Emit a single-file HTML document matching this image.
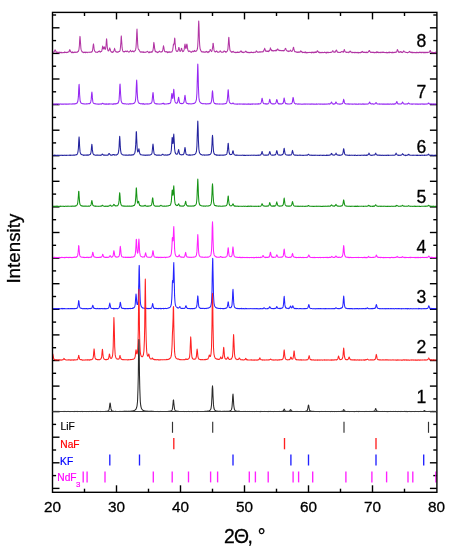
<!DOCTYPE html>
<html><head><meta charset="utf-8"><style>
html,body{margin:0;padding:0;background:#fff;}
svg{display:block;}
text{font-family:"Liberation Sans",Arial,sans-serif;}
.tl{font-size:15.3px;stroke:#000;stroke-width:0.3px;}
.num{font-size:17.6px;stroke:#000;stroke-width:0.3px;}
.ref{font-size:10.2px;stroke-width:0.2px;}
.xt{font-size:19.3px;stroke:#000;stroke-width:0.3px;}
.yt{font-size:18.8px;stroke:#000;stroke-width:0.3px;}
</style></head><body>
<svg width="454" height="550" viewBox="0 0 454 550">
<rect width="454" height="550" fill="#fff"/>
<line x1="84.5" y1="492.3" x2="84.5" y2="488.7" stroke="#000" stroke-width="1.4"/><line x1="84.5" y1="12.4" x2="84.5" y2="16.0" stroke="#000" stroke-width="1.4"/><line x1="116.5" y1="492.3" x2="116.5" y2="485.3" stroke="#000" stroke-width="1.4"/><line x1="116.5" y1="12.4" x2="116.5" y2="19.4" stroke="#000" stroke-width="1.4"/><line x1="148.5" y1="492.3" x2="148.5" y2="488.7" stroke="#000" stroke-width="1.4"/><line x1="148.5" y1="12.4" x2="148.5" y2="16.0" stroke="#000" stroke-width="1.4"/><line x1="180.5" y1="492.3" x2="180.5" y2="485.3" stroke="#000" stroke-width="1.4"/><line x1="180.5" y1="12.4" x2="180.5" y2="19.4" stroke="#000" stroke-width="1.4"/><line x1="212.5" y1="492.3" x2="212.5" y2="488.7" stroke="#000" stroke-width="1.4"/><line x1="212.5" y1="12.4" x2="212.5" y2="16.0" stroke="#000" stroke-width="1.4"/><line x1="244.5" y1="492.3" x2="244.5" y2="485.3" stroke="#000" stroke-width="1.4"/><line x1="244.5" y1="12.4" x2="244.5" y2="19.4" stroke="#000" stroke-width="1.4"/><line x1="276.5" y1="492.3" x2="276.5" y2="488.7" stroke="#000" stroke-width="1.4"/><line x1="276.5" y1="12.4" x2="276.5" y2="16.0" stroke="#000" stroke-width="1.4"/><line x1="308.5" y1="492.3" x2="308.5" y2="485.3" stroke="#000" stroke-width="1.4"/><line x1="308.5" y1="12.4" x2="308.5" y2="19.4" stroke="#000" stroke-width="1.4"/><line x1="340.5" y1="492.3" x2="340.5" y2="488.7" stroke="#000" stroke-width="1.4"/><line x1="340.5" y1="12.4" x2="340.5" y2="16.0" stroke="#000" stroke-width="1.4"/><line x1="372.5" y1="492.3" x2="372.5" y2="485.3" stroke="#000" stroke-width="1.4"/><line x1="372.5" y1="12.4" x2="372.5" y2="19.4" stroke="#000" stroke-width="1.4"/><line x1="404.5" y1="492.3" x2="404.5" y2="488.7" stroke="#000" stroke-width="1.4"/><line x1="404.5" y1="12.4" x2="404.5" y2="16.0" stroke="#000" stroke-width="1.4"/><line x1="52.5" y1="15.0" x2="56.1" y2="15.0" stroke="#000" stroke-width="1.4"/><line x1="436.9" y1="15.0" x2="433.29999999999995" y2="15.0" stroke="#000" stroke-width="1.4"/><line x1="52.5" y1="27.8" x2="59.5" y2="27.8" stroke="#000" stroke-width="1.4"/><line x1="436.9" y1="27.8" x2="429.9" y2="27.8" stroke="#000" stroke-width="1.4"/><line x1="52.5" y1="40.6" x2="56.1" y2="40.6" stroke="#000" stroke-width="1.4"/><line x1="436.9" y1="40.6" x2="433.29999999999995" y2="40.6" stroke="#000" stroke-width="1.4"/><line x1="52.5" y1="53.4" x2="59.5" y2="53.4" stroke="#000" stroke-width="1.4"/><line x1="436.9" y1="53.4" x2="429.9" y2="53.4" stroke="#000" stroke-width="1.4"/><line x1="52.5" y1="66.2" x2="56.1" y2="66.2" stroke="#000" stroke-width="1.4"/><line x1="436.9" y1="66.2" x2="433.29999999999995" y2="66.2" stroke="#000" stroke-width="1.4"/><line x1="52.5" y1="79.0" x2="59.5" y2="79.0" stroke="#000" stroke-width="1.4"/><line x1="436.9" y1="79.0" x2="429.9" y2="79.0" stroke="#000" stroke-width="1.4"/><line x1="52.5" y1="91.8" x2="56.1" y2="91.8" stroke="#000" stroke-width="1.4"/><line x1="436.9" y1="91.8" x2="433.29999999999995" y2="91.8" stroke="#000" stroke-width="1.4"/><line x1="52.5" y1="104.6" x2="59.5" y2="104.6" stroke="#000" stroke-width="1.4"/><line x1="436.9" y1="104.6" x2="429.9" y2="104.6" stroke="#000" stroke-width="1.4"/><line x1="52.5" y1="117.4" x2="56.1" y2="117.4" stroke="#000" stroke-width="1.4"/><line x1="436.9" y1="117.4" x2="433.29999999999995" y2="117.4" stroke="#000" stroke-width="1.4"/><line x1="52.5" y1="130.2" x2="59.5" y2="130.2" stroke="#000" stroke-width="1.4"/><line x1="436.9" y1="130.2" x2="429.9" y2="130.2" stroke="#000" stroke-width="1.4"/><line x1="52.5" y1="142.9" x2="56.1" y2="142.9" stroke="#000" stroke-width="1.4"/><line x1="436.9" y1="142.9" x2="433.29999999999995" y2="142.9" stroke="#000" stroke-width="1.4"/><line x1="52.5" y1="155.7" x2="59.5" y2="155.7" stroke="#000" stroke-width="1.4"/><line x1="436.9" y1="155.7" x2="429.9" y2="155.7" stroke="#000" stroke-width="1.4"/><line x1="52.5" y1="168.5" x2="56.1" y2="168.5" stroke="#000" stroke-width="1.4"/><line x1="436.9" y1="168.5" x2="433.29999999999995" y2="168.5" stroke="#000" stroke-width="1.4"/><line x1="52.5" y1="181.3" x2="59.5" y2="181.3" stroke="#000" stroke-width="1.4"/><line x1="436.9" y1="181.3" x2="429.9" y2="181.3" stroke="#000" stroke-width="1.4"/><line x1="52.5" y1="194.1" x2="56.1" y2="194.1" stroke="#000" stroke-width="1.4"/><line x1="436.9" y1="194.1" x2="433.29999999999995" y2="194.1" stroke="#000" stroke-width="1.4"/><line x1="52.5" y1="206.9" x2="59.5" y2="206.9" stroke="#000" stroke-width="1.4"/><line x1="436.9" y1="206.9" x2="429.9" y2="206.9" stroke="#000" stroke-width="1.4"/><line x1="52.5" y1="219.7" x2="56.1" y2="219.7" stroke="#000" stroke-width="1.4"/><line x1="436.9" y1="219.7" x2="433.29999999999995" y2="219.7" stroke="#000" stroke-width="1.4"/><line x1="52.5" y1="232.5" x2="59.5" y2="232.5" stroke="#000" stroke-width="1.4"/><line x1="436.9" y1="232.5" x2="429.9" y2="232.5" stroke="#000" stroke-width="1.4"/><line x1="52.5" y1="245.3" x2="56.1" y2="245.3" stroke="#000" stroke-width="1.4"/><line x1="436.9" y1="245.3" x2="433.29999999999995" y2="245.3" stroke="#000" stroke-width="1.4"/><line x1="52.5" y1="258.1" x2="59.5" y2="258.1" stroke="#000" stroke-width="1.4"/><line x1="436.9" y1="258.1" x2="429.9" y2="258.1" stroke="#000" stroke-width="1.4"/><line x1="52.5" y1="270.9" x2="56.1" y2="270.9" stroke="#000" stroke-width="1.4"/><line x1="436.9" y1="270.9" x2="433.29999999999995" y2="270.9" stroke="#000" stroke-width="1.4"/><line x1="52.5" y1="283.7" x2="59.5" y2="283.7" stroke="#000" stroke-width="1.4"/><line x1="436.9" y1="283.7" x2="429.9" y2="283.7" stroke="#000" stroke-width="1.4"/><line x1="52.5" y1="296.5" x2="56.1" y2="296.5" stroke="#000" stroke-width="1.4"/><line x1="436.9" y1="296.5" x2="433.29999999999995" y2="296.5" stroke="#000" stroke-width="1.4"/><line x1="52.5" y1="309.3" x2="59.5" y2="309.3" stroke="#000" stroke-width="1.4"/><line x1="436.9" y1="309.3" x2="429.9" y2="309.3" stroke="#000" stroke-width="1.4"/><line x1="52.5" y1="322.1" x2="56.1" y2="322.1" stroke="#000" stroke-width="1.4"/><line x1="436.9" y1="322.1" x2="433.29999999999995" y2="322.1" stroke="#000" stroke-width="1.4"/><line x1="52.5" y1="334.9" x2="59.5" y2="334.9" stroke="#000" stroke-width="1.4"/><line x1="436.9" y1="334.9" x2="429.9" y2="334.9" stroke="#000" stroke-width="1.4"/><line x1="52.5" y1="347.7" x2="56.1" y2="347.7" stroke="#000" stroke-width="1.4"/><line x1="436.9" y1="347.7" x2="433.29999999999995" y2="347.7" stroke="#000" stroke-width="1.4"/><line x1="52.5" y1="360.5" x2="59.5" y2="360.5" stroke="#000" stroke-width="1.4"/><line x1="436.9" y1="360.5" x2="429.9" y2="360.5" stroke="#000" stroke-width="1.4"/><line x1="52.5" y1="373.3" x2="56.1" y2="373.3" stroke="#000" stroke-width="1.4"/><line x1="436.9" y1="373.3" x2="433.29999999999995" y2="373.3" stroke="#000" stroke-width="1.4"/><line x1="52.5" y1="386.1" x2="59.5" y2="386.1" stroke="#000" stroke-width="1.4"/><line x1="436.9" y1="386.1" x2="429.9" y2="386.1" stroke="#000" stroke-width="1.4"/><line x1="52.5" y1="398.9" x2="56.1" y2="398.9" stroke="#000" stroke-width="1.4"/><line x1="436.9" y1="398.9" x2="433.29999999999995" y2="398.9" stroke="#000" stroke-width="1.4"/><line x1="52.5" y1="411.6" x2="59.5" y2="411.6" stroke="#000" stroke-width="1.4"/><line x1="436.9" y1="411.6" x2="429.9" y2="411.6" stroke="#000" stroke-width="1.4"/><line x1="52.5" y1="424.4" x2="56.1" y2="424.4" stroke="#000" stroke-width="1.4"/><line x1="436.9" y1="424.4" x2="433.29999999999995" y2="424.4" stroke="#000" stroke-width="1.4"/><line x1="52.5" y1="437.2" x2="59.5" y2="437.2" stroke="#000" stroke-width="1.4"/><line x1="436.9" y1="437.2" x2="429.9" y2="437.2" stroke="#000" stroke-width="1.4"/><line x1="52.5" y1="450.0" x2="56.1" y2="450.0" stroke="#000" stroke-width="1.4"/><line x1="436.9" y1="450.0" x2="433.29999999999995" y2="450.0" stroke="#000" stroke-width="1.4"/><line x1="52.5" y1="462.8" x2="59.5" y2="462.8" stroke="#000" stroke-width="1.4"/><line x1="436.9" y1="462.8" x2="429.9" y2="462.8" stroke="#000" stroke-width="1.4"/><line x1="52.5" y1="475.6" x2="56.1" y2="475.6" stroke="#000" stroke-width="1.4"/><line x1="436.9" y1="475.6" x2="433.29999999999995" y2="475.6" stroke="#000" stroke-width="1.4"/><line x1="52.5" y1="488.4" x2="59.5" y2="488.4" stroke="#000" stroke-width="1.4"/><line x1="436.9" y1="488.4" x2="429.9" y2="488.4" stroke="#000" stroke-width="1.4"/>
<line x1="172.5" y1="421.8" x2="172.5" y2="432.8" stroke="#333333" stroke-width="1.15"/><line x1="212.7" y1="421.8" x2="212.7" y2="432.8" stroke="#333333" stroke-width="1.15"/><line x1="344.0" y1="421.8" x2="344.0" y2="432.8" stroke="#333333" stroke-width="1.15"/><line x1="428.5" y1="421.8" x2="428.5" y2="432.8" stroke="#333333" stroke-width="1.15"/><line x1="173.8" y1="438.0" x2="173.8" y2="449.3" stroke="#ff2020" stroke-width="1.35"/><line x1="284.5" y1="438.0" x2="284.5" y2="449.3" stroke="#ff2020" stroke-width="1.35"/><line x1="376.0" y1="438.0" x2="376.0" y2="449.3" stroke="#ff2020" stroke-width="1.35"/><line x1="109.8" y1="454.5" x2="109.8" y2="465.5" stroke="#2020ff" stroke-width="1.35"/><line x1="139.5" y1="454.5" x2="139.5" y2="465.5" stroke="#2020ff" stroke-width="1.35"/><line x1="233.0" y1="454.5" x2="233.0" y2="465.5" stroke="#2020ff" stroke-width="1.35"/><line x1="290.9" y1="454.5" x2="290.9" y2="465.5" stroke="#2020ff" stroke-width="1.35"/><line x1="308.5" y1="454.5" x2="308.5" y2="465.5" stroke="#2020ff" stroke-width="1.35"/><line x1="376.0" y1="454.5" x2="376.0" y2="465.5" stroke="#2020ff" stroke-width="1.35"/><line x1="423.7" y1="454.5" x2="423.7" y2="465.5" stroke="#2020ff" stroke-width="1.35"/><line x1="83.2" y1="471.5" x2="83.2" y2="482.4" stroke="#ff20ff" stroke-width="1.35"/><line x1="87.1" y1="471.5" x2="87.1" y2="482.4" stroke="#ff20ff" stroke-width="1.35"/><line x1="105.0" y1="471.5" x2="105.0" y2="482.4" stroke="#ff20ff" stroke-width="1.35"/><line x1="153.3" y1="471.5" x2="153.3" y2="482.4" stroke="#ff20ff" stroke-width="1.35"/><line x1="172.2" y1="471.5" x2="172.2" y2="482.4" stroke="#ff20ff" stroke-width="1.35"/><line x1="188.5" y1="471.5" x2="188.5" y2="482.4" stroke="#ff20ff" stroke-width="1.35"/><line x1="210.6" y1="471.5" x2="210.6" y2="482.4" stroke="#ff20ff" stroke-width="1.35"/><line x1="217.6" y1="471.5" x2="217.6" y2="482.4" stroke="#ff20ff" stroke-width="1.35"/><line x1="249.3" y1="471.5" x2="249.3" y2="482.4" stroke="#ff20ff" stroke-width="1.35"/><line x1="255.4" y1="471.5" x2="255.4" y2="482.4" stroke="#ff20ff" stroke-width="1.35"/><line x1="268.2" y1="471.5" x2="268.2" y2="482.4" stroke="#ff20ff" stroke-width="1.35"/><line x1="293.1" y1="471.5" x2="293.1" y2="482.4" stroke="#ff20ff" stroke-width="1.35"/><line x1="298.6" y1="471.5" x2="298.6" y2="482.4" stroke="#ff20ff" stroke-width="1.35"/><line x1="312.7" y1="471.5" x2="312.7" y2="482.4" stroke="#ff20ff" stroke-width="1.35"/><line x1="345.9" y1="471.5" x2="345.9" y2="482.4" stroke="#ff20ff" stroke-width="1.35"/><line x1="371.9" y1="471.5" x2="371.9" y2="482.4" stroke="#ff20ff" stroke-width="1.35"/><line x1="386.6" y1="471.5" x2="386.6" y2="482.4" stroke="#ff20ff" stroke-width="1.35"/><line x1="408.0" y1="471.5" x2="408.0" y2="482.4" stroke="#ff20ff" stroke-width="1.35"/><line x1="412.8" y1="471.5" x2="412.8" y2="482.4" stroke="#ff20ff" stroke-width="1.35"/><line x1="435.9" y1="471.5" x2="435.9" y2="482.4" stroke="#ff20ff" stroke-width="1.35"/>
<path d="M52.5 52.2 L52.8 52.2 L53.0 52.6 L53.3 52.1 L53.5 52.3 L53.8 52.0 L54.0 51.9 L54.3 51.4 L54.5 51.0 L54.8 50.3 L55.1 49.9 L55.3 50.1 L55.6 50.7 L55.8 51.2 L56.1 51.9 L56.3 51.6 L56.6 52.5 L56.9 52.3 L57.1 52.4 L57.4 52.1 L57.6 52.3 L57.9 52.3 L58.1 52.6 L58.4 52.4 L58.6 52.6 L58.9 52.6 L59.2 52.1 L59.4 52.4 L59.7 52.7 L59.9 52.4 L60.2 52.5 L60.4 52.4 L60.7 52.2 L60.9 52.9 L61.2 52.4 L61.5 52.6 L61.7 52.4 L62.0 52.7 L62.2 52.7 L62.5 52.7 L62.7 52.7 L63.0 52.6 L63.3 52.7 L63.5 52.5 L63.8 52.5 L64.0 52.6 L64.3 52.3 L64.5 51.9 L64.8 52.6 L65.0 52.5 L65.3 52.3 L65.6 52.4 L65.8 52.2 L66.1 52.3 L66.3 52.5 L66.6 52.4 L66.8 52.6 L67.1 52.4 L67.3 52.5 L67.6 52.5 L67.9 52.2 L68.1 51.9 L68.4 52.0 L68.6 52.0 L68.9 51.6 L69.1 51.7 L69.4 50.4 L69.7 49.9 L69.8 49.5 L69.9 50.0 L70.2 50.3 L70.4 51.4 L70.7 51.8 L70.9 51.9 L71.2 51.9 L71.4 52.6 L71.7 52.2 L72.0 52.6 L72.2 51.8 L72.5 52.1 L72.7 52.7 L73.0 52.7 L73.2 52.4 L73.5 52.6 L73.7 52.5 L74.0 52.3 L74.3 52.4 L74.5 52.1 L74.8 52.1 L75.0 52.3 L75.3 52.4 L75.5 52.3 L75.8 52.0 L76.1 52.4 L76.3 52.2 L76.6 52.3 L76.8 52.0 L77.1 52.0 L77.3 52.2 L77.6 52.1 L77.8 51.4 L78.1 51.3 L78.4 51.4 L78.6 50.7 L78.9 49.8 L79.1 48.0 L79.4 45.5 L79.6 41.1 L79.9 37.1 L80.0 36.4 L80.1 36.9 L80.4 41.2 L80.7 45.4 L80.9 48.3 L81.2 49.9 L81.4 50.4 L81.7 51.0 L81.9 51.4 L82.2 51.9 L82.5 51.7 L82.7 52.2 L83.0 52.2 L83.2 52.3 L83.5 52.6 L83.7 52.2 L84.0 52.3 L84.2 52.5 L84.5 52.3 L84.8 52.5 L85.0 52.3 L85.3 52.6 L85.5 52.4 L85.8 52.0 L86.0 52.6 L86.3 52.3 L86.5 52.2 L86.8 52.3 L87.1 52.3 L87.3 52.6 L87.6 52.4 L87.8 52.3 L88.1 52.3 L88.3 52.2 L88.6 52.2 L88.9 52.2 L89.1 52.3 L89.4 52.1 L89.6 52.2 L89.9 52.5 L90.1 52.3 L90.4 52.2 L90.6 52.2 L90.9 52.1 L91.2 51.8 L91.4 52.1 L91.7 52.3 L91.9 51.7 L92.2 51.4 L92.4 51.2 L92.7 49.3 L92.9 47.8 L93.2 45.2 L93.5 43.9 L93.7 45.0 L94.0 47.7 L94.2 49.6 L94.5 50.3 L94.7 51.2 L95.0 51.5 L95.3 51.6 L95.5 52.1 L95.8 52.3 L96.0 52.2 L96.3 52.3 L96.5 52.3 L96.8 52.1 L97.0 52.3 L97.3 52.4 L97.6 52.1 L97.8 52.1 L98.1 51.8 L98.3 51.5 L98.6 51.5 L98.8 51.6 L99.1 51.1 L99.2 51.1 L99.3 51.3 L99.6 51.0 L99.9 51.9 L100.1 51.8 L100.4 52.0 L100.6 52.1 L100.9 51.6 L101.1 51.5 L101.4 51.5 L101.7 51.1 L101.9 50.3 L102.2 49.2 L102.4 47.5 L102.7 46.3 L102.7 46.1 L102.9 46.9 L103.2 47.7 L103.4 48.9 L103.7 48.8 L104.0 48.3 L104.2 46.9 L104.3 46.8 L104.5 47.4 L104.7 48.0 L105.0 49.0 L105.2 49.4 L105.5 48.9 L105.7 48.1 L106.0 45.7 L106.3 41.9 L106.5 39.1 L106.6 38.8 L106.8 40.5 L107.0 43.8 L107.3 47.2 L107.5 48.6 L107.8 50.1 L108.1 50.8 L108.3 51.0 L108.6 50.4 L108.8 50.8 L109.1 50.3 L109.3 49.4 L109.6 48.3 L109.8 47.9 L109.8 48.1 L110.1 49.1 L110.4 49.5 L110.6 50.9 L110.9 51.6 L111.1 51.6 L111.4 52.1 L111.6 51.7 L111.9 52.3 L112.1 52.2 L112.4 51.9 L112.7 52.5 L112.9 52.2 L113.2 52.1 L113.4 51.4 L113.7 51.2 L113.9 50.7 L114.2 49.8 L114.5 48.7 L114.6 48.2 L114.7 48.9 L115.0 49.6 L115.2 50.7 L115.5 51.2 L115.7 51.6 L116.0 51.6 L116.2 52.1 L116.5 51.9 L116.8 51.7 L117.0 52.1 L117.3 52.1 L117.5 52.2 L117.8 52.2 L118.0 51.7 L118.3 51.9 L118.5 51.9 L118.8 51.8 L119.1 51.4 L119.3 51.5 L119.6 51.4 L119.8 51.0 L120.1 50.3 L120.3 48.8 L120.6 45.7 L120.9 42.3 L121.1 37.9 L121.3 35.9 L121.4 37.0 L121.6 40.3 L121.9 44.4 L122.1 47.7 L122.4 49.5 L122.6 50.4 L122.9 51.3 L123.2 51.7 L123.4 51.7 L123.7 51.5 L123.9 51.8 L124.2 52.0 L124.4 51.9 L124.7 51.5 L124.9 51.6 L125.2 51.3 L125.5 51.1 L125.7 51.1 L126.0 51.5 L126.2 51.3 L126.5 51.7 L126.7 51.5 L127.0 51.3 L127.3 51.0 L127.4 50.9 L127.5 51.1 L127.8 51.4 L128.0 51.6 L128.3 51.9 L128.5 52.0 L128.8 52.1 L129.0 52.1 L129.3 51.9 L129.6 51.7 L129.8 51.3 L130.1 51.0 L130.3 50.9 L130.6 50.3 L130.8 51.1 L131.1 51.2 L131.3 51.5 L131.6 51.7 L131.9 51.6 L132.1 51.5 L132.4 51.4 L132.6 50.8 L132.8 51.0 L132.9 51.0 L133.1 51.0 L133.4 51.6 L133.7 51.7 L133.9 51.9 L134.2 51.5 L134.4 51.2 L134.7 51.1 L134.9 50.8 L135.2 50.4 L135.4 50.5 L135.7 49.2 L136.0 47.6 L136.2 44.4 L136.5 39.4 L136.7 33.3 L137.0 29.1 L137.2 32.8 L137.5 39.4 L137.7 44.1 L138.0 47.4 L138.3 48.9 L138.5 49.4 L138.8 49.5 L138.9 49.5 L139.0 49.9 L139.3 50.2 L139.5 50.7 L139.8 51.3 L140.1 51.6 L140.3 52.0 L140.6 51.7 L140.8 52.2 L141.1 51.9 L141.3 51.9 L141.6 51.8 L141.8 52.2 L142.1 51.9 L142.4 52.3 L142.6 52.3 L142.9 52.2 L143.1 51.9 L143.4 52.2 L143.6 52.4 L143.9 51.9 L144.1 52.4 L144.4 52.3 L144.7 52.2 L144.9 52.3 L145.2 52.4 L145.4 52.3 L145.7 52.1 L145.9 52.3 L146.2 52.0 L146.5 52.0 L146.7 51.8 L147.0 51.5 L147.2 51.3 L147.5 51.4 L147.7 51.6 L148.0 51.9 L148.2 52.1 L148.5 52.3 L148.8 52.8 L149.0 52.4 L149.3 52.1 L149.5 52.6 L149.8 51.9 L150.0 52.5 L150.3 52.0 L150.5 52.0 L150.8 52.1 L151.1 52.1 L151.3 51.8 L151.6 52.1 L151.8 51.9 L152.1 52.1 L152.3 51.4 L152.6 50.9 L152.9 50.7 L153.1 49.4 L153.4 47.7 L153.6 44.3 L153.9 42.4 L153.9 42.5 L154.1 43.8 L154.4 45.9 L154.6 48.2 L154.9 50.0 L155.2 51.2 L155.4 51.7 L155.7 51.4 L155.9 51.7 L156.2 51.6 L156.4 51.9 L156.7 51.9 L156.9 52.2 L157.2 52.4 L157.5 52.6 L157.7 52.1 L158.0 52.3 L158.2 52.1 L158.5 52.0 L158.7 52.1 L159.0 51.5 L159.3 51.4 L159.4 51.1 L159.5 51.2 L159.8 51.5 L160.0 51.7 L160.3 51.8 L160.5 51.9 L160.8 52.1 L161.0 52.0 L161.3 52.0 L161.6 51.8 L161.8 52.0 L162.1 51.7 L162.3 51.4 L162.6 50.8 L162.8 50.1 L163.1 48.2 L163.3 46.8 L163.5 45.7 L163.6 46.3 L163.9 47.5 L164.1 49.0 L164.4 50.5 L164.6 51.4 L164.9 51.4 L165.1 51.7 L165.4 51.9 L165.7 51.8 L165.9 51.7 L166.2 51.6 L166.4 51.6 L166.7 51.8 L166.9 52.1 L167.2 51.9 L167.4 52.7 L167.7 52.1 L168.0 52.5 L168.2 52.2 L168.5 51.9 L168.7 52.1 L169.0 52.1 L169.2 52.4 L169.5 51.8 L169.7 52.0 L170.0 52.1 L170.3 52.2 L170.5 52.1 L170.8 52.2 L171.0 51.9 L171.3 51.8 L171.5 52.0 L171.8 51.9 L172.1 51.4 L172.3 50.9 L172.6 50.0 L172.8 49.3 L173.1 47.1 L173.3 45.2 L173.5 44.2 L173.6 44.5 L173.8 45.0 L174.1 43.7 L174.4 41.2 L174.6 38.7 L174.7 38.0 L174.9 38.9 L175.1 42.7 L175.4 45.7 L175.6 48.2 L175.9 49.9 L176.1 50.6 L176.4 51.0 L176.7 51.2 L176.9 51.4 L177.2 51.5 L177.4 51.3 L177.7 51.2 L177.9 50.9 L178.2 50.0 L178.5 49.2 L178.7 47.5 L178.9 47.6 L179.0 47.5 L179.2 48.3 L179.5 50.0 L179.7 50.3 L180.0 51.4 L180.2 50.9 L180.5 51.1 L180.8 50.4 L181.0 49.9 L181.3 48.5 L181.5 48.4 L181.5 48.2 L181.8 48.7 L182.0 50.2 L182.3 50.9 L182.5 51.3 L182.8 51.7 L183.1 51.2 L183.3 51.0 L183.6 51.2 L183.8 50.6 L184.1 49.9 L184.3 48.5 L184.6 46.3 L184.9 44.6 L185.0 44.0 L185.1 44.6 L185.4 46.1 L185.6 48.0 L185.9 48.6 L186.1 48.2 L186.4 46.9 L186.6 44.9 L186.9 44.1 L187.2 45.3 L187.4 47.4 L187.7 49.1 L187.9 50.3 L188.2 50.7 L188.4 51.2 L188.7 51.2 L188.9 51.6 L189.2 51.1 L189.5 51.1 L189.7 51.0 L189.8 51.0 L190.0 51.2 L190.2 51.6 L190.5 51.8 L190.7 51.8 L191.0 52.2 L191.3 52.0 L191.5 51.8 L191.8 52.1 L192.0 51.4 L192.3 51.4 L192.5 51.3 L192.7 51.0 L192.8 51.1 L193.0 51.3 L193.3 51.6 L193.6 51.6 L193.8 51.4 L194.1 51.3 L194.3 50.4 L194.6 50.6 L194.8 50.6 L195.1 51.4 L195.3 51.3 L195.6 51.2 L195.9 51.4 L196.1 51.1 L196.4 50.8 L196.6 50.6 L196.9 50.4 L197.1 49.8 L197.4 48.7 L197.7 46.6 L197.9 42.8 L198.2 36.6 L198.4 28.1 L198.7 21.0 L198.7 20.9 L198.9 23.5 L199.2 32.4 L199.4 40.2 L199.7 45.1 L200.0 47.8 L200.2 49.1 L200.5 49.7 L200.7 50.5 L201.0 50.8 L201.2 51.2 L201.5 51.8 L201.7 51.4 L202.0 51.9 L202.3 51.8 L202.5 51.7 L202.8 52.0 L203.0 52.1 L203.3 51.8 L203.5 51.8 L203.8 52.0 L204.1 52.3 L204.3 52.0 L204.6 52.2 L204.8 52.2 L205.1 52.1 L205.3 52.1 L205.6 52.1 L205.8 51.6 L206.1 51.6 L206.4 51.4 L206.6 51.7 L206.9 52.0 L207.1 52.3 L207.4 52.0 L207.6 51.9 L207.9 52.3 L208.1 52.6 L208.4 51.6 L208.7 51.8 L208.9 52.0 L209.2 51.9 L209.4 51.3 L209.7 51.0 L209.9 50.4 L210.2 49.5 L210.3 49.6 L210.5 49.7 L210.7 50.2 L211.0 50.8 L211.2 51.1 L211.5 51.6 L211.7 51.4 L212.0 50.8 L212.2 49.5 L212.5 48.2 L212.8 45.9 L213.0 43.3 L213.1 43.3 L213.3 43.8 L213.5 45.7 L213.8 48.3 L214.0 49.9 L214.3 51.2 L214.5 51.5 L214.8 51.7 L215.1 51.8 L215.3 51.6 L215.6 52.0 L215.8 51.6 L216.1 51.2 L216.3 51.4 L216.6 50.9 L216.7 51.0 L216.9 51.2 L217.1 51.4 L217.4 51.9 L217.6 52.2 L217.9 52.0 L218.1 52.1 L218.4 52.2 L218.6 52.3 L218.9 52.1 L219.2 52.1 L219.4 51.7 L219.7 51.6 L219.9 51.3 L220.2 50.8 L220.4 51.2 L220.7 51.3 L220.9 51.7 L221.2 52.1 L221.5 52.3 L221.7 52.0 L222.0 52.2 L222.2 52.0 L222.5 52.3 L222.7 52.3 L223.0 52.2 L223.3 52.0 L223.5 51.6 L223.8 51.6 L224.0 51.0 L224.3 50.9 L224.3 51.0 L224.5 51.3 L224.8 51.3 L225.0 51.6 L225.3 51.9 L225.6 51.5 L225.8 52.3 L226.1 51.6 L226.3 52.0 L226.6 51.9 L226.8 51.7 L227.1 51.3 L227.3 51.0 L227.6 50.1 L227.9 49.1 L228.1 46.4 L228.4 42.7 L228.6 38.8 L228.8 37.2 L228.9 37.6 L229.1 40.5 L229.4 44.9 L229.7 47.7 L229.9 49.6 L230.2 51.0 L230.4 50.9 L230.7 51.2 L230.9 51.3 L231.2 51.7 L231.4 52.2 L231.7 51.8 L232.0 52.1 L232.2 51.9 L232.5 51.7 L232.7 52.0 L233.0 51.7 L233.2 51.3 L233.5 51.7 L233.7 52.1 L234.0 52.3 L234.3 52.2 L234.5 52.4 L234.8 52.4 L235.0 52.3 L235.3 52.6 L235.5 52.2 L235.8 52.5 L236.1 52.6 L236.3 52.4 L236.6 52.3 L236.8 52.4 L237.1 52.0 L237.3 52.5 L237.6 52.1 L237.8 52.0 L238.1 52.5 L238.4 52.2 L238.6 52.5 L238.9 52.4 L239.1 52.0 L239.4 52.1 L239.6 52.2 L239.9 52.3 L240.1 52.0 L240.4 51.5 L240.7 51.2 L240.9 51.0 L241.0 50.8 L241.2 51.0 L241.4 51.4 L241.7 51.5 L241.9 52.4 L242.2 52.4 L242.5 52.2 L242.7 52.5 L243.0 52.1 L243.2 52.7 L243.5 52.3 L243.7 52.4 L244.0 52.2 L244.2 52.3 L244.5 52.3 L244.8 52.2 L245.0 51.8 L245.3 51.8 L245.5 51.3 L245.8 51.0 L246.0 51.4 L246.3 51.5 L246.5 52.2 L246.8 52.1 L247.1 52.6 L247.3 52.2 L247.6 52.3 L247.8 52.4 L248.1 52.6 L248.3 52.7 L248.6 52.3 L248.9 52.3 L249.1 52.6 L249.4 52.7 L249.6 52.6 L249.9 52.4 L250.1 52.7 L250.4 52.4 L250.6 52.5 L250.9 52.5 L251.2 52.3 L251.4 52.0 L251.7 52.4 L251.9 52.5 L252.2 52.5 L252.4 52.5 L252.7 52.4 L252.9 52.6 L253.2 52.4 L253.5 52.6 L253.7 52.3 L254.0 52.5 L254.2 52.2 L254.5 52.3 L254.7 52.3 L255.0 52.2 L255.3 52.4 L255.5 51.9 L255.8 51.9 L256.0 51.4 L256.3 51.2 L256.3 50.8 L256.5 51.0 L256.8 51.7 L257.0 51.6 L257.3 52.0 L257.6 52.2 L257.8 52.1 L258.1 52.2 L258.3 52.2 L258.6 52.1 L258.8 52.2 L259.1 52.0 L259.3 52.0 L259.6 51.8 L259.9 52.1 L260.1 51.7 L260.4 52.0 L260.6 52.1 L260.9 51.8 L261.1 52.0 L261.4 52.0 L261.7 51.8 L261.9 51.7 L262.2 51.8 L262.4 51.9 L262.7 51.9 L262.9 52.0 L263.2 51.1 L263.4 51.4 L263.7 51.1 L264.0 50.3 L264.2 49.6 L264.5 49.0 L264.7 48.2 L264.7 48.5 L265.0 49.2 L265.2 49.8 L265.5 50.1 L265.7 51.2 L266.0 51.5 L266.3 50.9 L266.5 51.3 L266.8 51.2 L267.0 51.4 L267.3 51.3 L267.5 51.5 L267.8 51.1 L268.1 51.6 L268.3 50.8 L268.6 51.1 L268.8 51.6 L269.1 50.9 L269.3 50.8 L269.6 50.2 L269.8 50.4 L270.1 49.1 L270.4 48.2 L270.4 47.8 L270.6 48.5 L270.9 49.4 L271.1 49.5 L271.4 50.3 L271.6 50.7 L271.9 50.2 L272.1 50.7 L272.4 50.5 L272.7 50.5 L272.9 50.9 L273.2 51.0 L273.4 51.0 L273.7 50.6 L273.9 50.9 L274.2 50.4 L274.5 50.4 L274.7 50.8 L275.0 50.6 L275.2 50.5 L275.5 50.3 L275.7 50.6 L276.0 51.0 L276.2 50.1 L276.5 50.2 L276.8 50.5 L277.0 49.7 L277.3 49.5 L277.5 49.1 L277.8 49.0 L278.0 49.1 L278.3 50.0 L278.5 50.0 L278.8 50.3 L279.1 50.5 L279.3 50.6 L279.6 50.2 L279.8 50.4 L280.1 50.6 L280.3 50.7 L280.6 50.4 L280.9 50.5 L281.1 50.5 L281.4 50.7 L281.6 50.6 L281.9 50.8 L282.1 50.8 L282.4 50.5 L282.6 50.7 L282.9 50.5 L283.2 50.7 L283.4 50.9 L283.7 50.5 L283.9 50.3 L284.2 50.6 L284.4 50.3 L284.7 50.0 L284.9 49.4 L285.2 48.6 L285.5 48.3 L285.7 48.5 L286.0 49.0 L286.2 50.0 L286.5 50.5 L286.7 50.7 L287.0 51.0 L287.3 50.9 L287.5 51.3 L287.8 51.0 L288.0 51.2 L288.3 51.1 L288.5 51.6 L288.8 51.0 L289.0 51.0 L289.3 51.2 L289.6 51.3 L289.8 51.1 L290.1 50.9 L290.3 50.4 L290.6 50.1 L290.8 50.6 L291.1 50.9 L291.3 51.4 L291.6 51.3 L291.9 51.3 L292.1 51.3 L292.4 50.7 L292.6 50.1 L292.9 49.4 L293.1 48.6 L293.4 47.5 L293.5 47.2 L293.7 47.5 L293.9 49.2 L294.2 50.4 L294.4 50.6 L294.7 51.6 L294.9 51.4 L295.2 51.8 L295.4 51.7 L295.7 51.8 L296.0 51.8 L296.2 52.1 L296.5 52.1 L296.7 52.2 L297.0 52.0 L297.2 51.9 L297.5 52.5 L297.7 52.4 L298.0 52.1 L298.3 51.9 L298.5 52.4 L298.8 52.2 L299.0 52.1 L299.3 52.3 L299.5 52.1 L299.8 52.0 L300.1 52.2 L300.3 51.2 L300.6 51.3 L300.8 50.8 L301.1 51.2 L301.3 51.6 L301.6 51.9 L301.8 51.6 L302.1 52.3 L302.4 52.7 L302.6 52.2 L302.9 52.5 L303.1 52.5 L303.4 52.4 L303.6 52.3 L303.9 52.5 L304.1 52.4 L304.4 52.7 L304.7 52.6 L304.9 52.3 L305.2 51.8 L305.4 52.7 L305.7 52.5 L305.9 52.5 L306.2 52.3 L306.5 52.9 L306.7 52.7 L307.0 52.5 L307.2 52.4 L307.5 52.6 L307.7 52.7 L308.0 52.6 L308.2 52.6 L308.5 52.5 L308.8 52.5 L309.0 52.2 L309.3 52.5 L309.5 52.5 L309.8 52.5 L310.0 52.4 L310.3 52.5 L310.5 52.4 L310.8 52.4 L311.1 52.2 L311.3 52.9 L311.6 52.3 L311.8 52.2 L312.1 52.4 L312.3 52.4 L312.6 52.3 L312.9 52.0 L313.1 52.8 L313.4 52.7 L313.6 52.4 L313.9 52.6 L314.1 52.2 L314.4 52.1 L314.6 52.5 L314.9 52.6 L315.2 52.3 L315.4 52.4 L315.7 51.8 L315.9 52.3 L316.2 52.5 L316.4 52.2 L316.7 52.0 L316.9 51.8 L317.2 50.8 L317.5 50.7 L317.7 51.0 L318.0 51.7 L318.2 51.9 L318.5 51.8 L318.7 52.5 L319.0 52.3 L319.3 52.6 L319.5 52.8 L319.8 52.1 L320.0 52.2 L320.3 52.7 L320.5 52.7 L320.8 52.5 L321.0 52.5 L321.3 52.6 L321.6 52.6 L321.8 52.2 L322.1 52.6 L322.3 52.7 L322.6 52.4 L322.8 52.3 L323.1 52.4 L323.3 52.4 L323.6 52.6 L323.9 52.6 L324.1 52.5 L324.4 52.4 L324.6 52.1 L324.9 52.4 L325.1 52.3 L325.4 52.4 L325.7 52.5 L325.9 52.5 L326.2 53.2 L326.4 52.3 L326.7 52.4 L326.9 52.2 L327.2 52.4 L327.4 52.4 L327.7 52.7 L328.0 52.1 L328.2 52.6 L328.5 52.6 L328.7 52.4 L329.0 52.3 L329.2 52.5 L329.5 52.5 L329.7 52.4 L330.0 52.4 L330.3 52.4 L330.5 52.2 L330.8 52.4 L331.0 52.4 L331.3 52.3 L331.5 52.0 L331.8 52.1 L332.1 51.8 L332.3 51.4 L332.6 50.7 L332.8 50.7 L333.1 51.0 L333.3 51.5 L333.6 51.8 L333.8 52.2 L334.1 52.1 L334.4 52.1 L334.6 51.9 L334.9 52.1 L335.1 52.3 L335.4 51.7 L335.6 51.6 L335.9 50.6 L336.1 50.3 L336.3 50.4 L336.4 50.0 L336.7 50.3 L336.9 51.3 L337.2 51.7 L337.4 52.2 L337.7 52.0 L337.9 51.9 L338.2 52.2 L338.5 52.4 L338.7 52.5 L339.0 52.4 L339.2 52.4 L339.5 52.5 L339.7 52.3 L340.0 52.3 L340.2 52.4 L340.5 52.5 L340.8 52.1 L341.0 52.2 L341.3 51.8 L341.5 51.5 L341.8 51.5 L342.0 51.4 L342.3 51.7 L342.5 51.8 L342.8 51.9 L343.1 51.8 L343.3 52.3 L343.6 51.7 L343.8 51.1 L344.1 50.1 L344.3 49.5 L344.6 50.5 L344.9 51.0 L345.1 51.8 L345.4 51.9 L345.6 51.9 L345.9 52.1 L346.1 52.0 L346.4 52.0 L346.6 52.5 L346.9 52.3 L347.2 52.5 L347.4 52.3 L347.7 52.3 L347.9 52.3 L348.2 52.2 L348.4 52.2 L348.7 52.6 L348.9 52.2 L349.2 51.7 L349.5 52.1 L349.7 51.7 L350.0 51.3 L350.1 51.0 L350.2 51.0 L350.5 51.3 L350.7 51.8 L351.0 52.2 L351.3 52.2 L351.5 52.1 L351.8 52.2 L352.0 52.7 L352.3 52.7 L352.5 52.2 L352.8 52.3 L353.0 52.4 L353.3 52.6 L353.6 52.4 L353.8 52.5 L354.1 52.5 L354.3 52.7 L354.6 52.2 L354.8 52.7 L355.1 52.6 L355.3 52.6 L355.6 52.2 L355.9 52.4 L356.1 52.4 L356.4 52.6 L356.6 52.6 L356.9 52.6 L357.1 52.2 L357.4 52.7 L357.7 52.5 L357.9 52.7 L358.2 52.5 L358.4 52.3 L358.7 53.0 L358.9 52.6 L359.2 52.6 L359.4 52.4 L359.7 52.4 L360.0 52.7 L360.2 52.5 L360.5 52.8 L360.7 52.6 L361.0 52.1 L361.2 52.0 L361.5 52.4 L361.7 52.0 L362.0 51.6 L362.3 51.4 L362.5 51.5 L362.8 52.3 L363.0 52.1 L363.3 52.0 L363.5 52.5 L363.8 52.4 L364.1 52.5 L364.3 52.3 L364.6 52.4 L364.8 52.1 L365.1 52.5 L365.3 52.3 L365.6 52.4 L365.8 52.5 L366.1 52.7 L366.4 52.0 L366.6 52.4 L366.9 52.5 L367.1 52.6 L367.4 52.2 L367.6 52.4 L367.9 52.3 L368.1 52.3 L368.4 51.8 L368.7 51.6 L368.9 51.0 L369.2 50.8 L369.3 50.7 L369.4 50.5 L369.7 51.1 L369.9 51.7 L370.2 51.8 L370.5 52.1 L370.7 52.4 L371.0 52.5 L371.2 52.2 L371.5 52.3 L371.7 52.4 L372.0 52.1 L372.2 52.5 L372.5 52.5 L372.8 52.2 L373.0 52.4 L373.3 52.3 L373.5 52.4 L373.8 52.3 L374.0 52.7 L374.3 52.3 L374.5 52.6 L374.8 52.5 L375.1 52.7 L375.3 52.4 L375.6 52.4 L375.8 52.4 L376.1 52.0 L376.3 52.7 L376.6 52.1 L376.9 52.0 L377.0 51.8 L377.1 52.0 L377.4 52.5 L377.6 52.1 L377.9 52.4 L378.1 52.6 L378.4 52.6 L378.6 52.4 L378.9 52.1 L379.2 52.5 L379.4 52.6 L379.7 52.4 L379.9 52.4 L380.2 52.8 L380.4 52.2 L380.7 52.4 L380.9 52.4 L381.2 52.2 L381.5 52.4 L381.7 52.3 L382.0 52.7 L382.2 52.1 L382.5 52.2 L382.7 52.5 L383.0 52.2 L383.3 52.1 L383.5 52.4 L383.8 52.2 L384.0 52.3 L384.3 52.5 L384.5 52.6 L384.8 52.4 L385.0 52.4 L385.3 52.6 L385.6 52.5 L385.8 52.6 L386.1 52.4 L386.3 52.6 L386.6 52.7 L386.8 52.2 L387.1 53.1 L387.3 52.4 L387.6 52.4 L387.9 52.5 L388.1 52.6 L388.4 52.2 L388.6 52.5 L388.9 52.4 L389.1 52.8 L389.4 52.1 L389.7 52.6 L389.9 52.4 L390.2 52.3 L390.4 52.5 L390.7 52.4 L390.9 52.5 L391.2 52.5 L391.4 52.7 L391.7 52.4 L392.0 52.8 L392.2 52.0 L392.5 52.8 L392.7 52.7 L393.0 52.8 L393.2 52.5 L393.5 52.5 L393.7 52.3 L394.0 52.7 L394.3 52.2 L394.5 52.2 L394.8 52.4 L395.0 52.4 L395.3 52.4 L395.5 52.1 L395.8 52.2 L396.1 52.3 L396.3 52.2 L396.6 51.9 L396.8 51.3 L397.1 50.5 L397.3 49.7 L397.5 49.6 L397.6 49.8 L397.8 50.6 L398.1 51.1 L398.4 52.1 L398.6 51.8 L398.9 52.3 L399.1 52.1 L399.4 52.2 L399.6 52.1 L399.9 52.4 L400.1 51.8 L400.4 51.7 L400.7 51.5 L400.9 51.8 L401.2 52.0 L401.4 52.4 L401.7 52.1 L401.9 52.1 L402.2 52.6 L402.5 52.5 L402.7 52.2 L403.0 52.0 L403.2 51.8 L403.5 51.7 L403.7 50.9 L403.9 51.3 L404.0 51.1 L404.2 51.4 L404.5 51.7 L404.8 51.7 L405.0 52.3 L405.3 52.0 L405.5 52.2 L405.8 52.2 L406.0 52.4 L406.3 52.5 L406.5 52.4 L406.8 52.5 L407.1 52.5 L407.3 52.7 L407.6 52.5 L407.8 52.7 L408.1 52.4 L408.3 52.4 L408.6 52.2 L408.9 52.3 L409.1 51.8 L409.4 51.7 L409.6 51.4 L409.9 51.6 L410.1 52.2 L410.4 52.2 L410.6 52.4 L410.9 52.3 L411.2 52.0 L411.4 52.7 L411.7 52.4 L411.9 52.3 L412.2 52.6 L412.4 52.2 L412.7 52.3 L412.9 52.7 L413.2 52.3 L413.5 52.7 L413.7 52.4 L414.0 52.4 L414.2 52.5 L414.5 52.4 L414.7 52.7 L415.0 52.7 L415.3 52.5 L415.5 52.6 L415.8 52.6 L416.0 52.8 L416.3 52.2 L416.5 52.7 L416.8 52.7 L417.0 52.4 L417.3 52.5 L417.6 52.4 L417.8 52.7 L418.1 52.3 L418.3 52.6 L418.6 52.7 L418.8 52.6 L419.1 52.4 L419.3 52.4 L419.6 52.1 L419.9 52.3 L420.1 52.7 L420.4 52.3 L420.6 52.2 L420.9 52.4 L421.1 52.2 L421.4 52.6 L421.7 52.3 L421.9 52.7 L422.2 52.5 L422.4 52.2 L422.7 52.3 L422.9 52.4 L423.2 52.3 L423.4 52.7 L423.7 52.3 L424.0 52.6 L424.2 52.4 L424.5 52.6 L424.7 52.2 L425.0 52.2 L425.2 52.6 L425.5 52.8 L425.7 52.2 L426.0 52.4 L426.3 52.4 L426.5 52.3 L426.8 52.7 L427.0 52.5 L427.3 52.2 L427.5 52.4 L427.8 52.7 L428.1 52.3 L428.3 52.3 L428.6 52.2 L428.8 52.3 L429.1 52.1 L429.3 52.2 L429.6 51.5 L429.8 50.9 L430.1 51.1 L430.4 50.6 L430.6 51.5 L430.9 52.0 L431.1 52.2 L431.4 52.2 L431.6 52.3 L431.9 52.5 L432.1 53.1 L432.4 52.3 L432.7 52.4 L432.9 52.4 L433.2 52.6 L433.4 52.5 L433.7 52.6 L433.9 52.8 L434.2 52.4 L434.5 52.4 L434.7 52.6 L435.0 52.9 L435.2 52.4 L435.5 52.8 L435.7 52.7 L436.0 51.9 L436.2 52.3 L436.5 52.3" fill="none" stroke="#b236a4" stroke-width="1.05" stroke-linejoin="round"/><path d="M52.5 104.0 L52.8 104.0 L53.0 104.1 L53.3 104.1 L53.5 104.1 L53.8 104.0 L54.0 104.2 L54.3 104.1 L54.5 104.2 L54.8 104.1 L55.1 104.2 L55.3 104.1 L55.6 104.0 L55.8 104.1 L56.1 103.9 L56.3 104.1 L56.6 104.1 L56.9 104.2 L57.1 104.0 L57.4 104.0 L57.6 104.0 L57.9 103.9 L58.1 104.0 L58.4 104.4 L58.6 104.1 L58.9 104.0 L59.2 104.0 L59.4 104.3 L59.7 104.0 L59.9 104.1 L60.2 104.1 L60.4 104.0 L60.7 104.0 L60.9 103.9 L61.2 104.0 L61.5 104.2 L61.7 104.2 L62.0 104.1 L62.2 104.2 L62.5 104.1 L62.7 104.1 L63.0 104.1 L63.3 104.2 L63.5 104.1 L63.8 104.1 L64.0 104.1 L64.3 104.2 L64.5 104.0 L64.8 104.0 L65.0 104.0 L65.3 104.0 L65.6 104.2 L65.8 104.1 L66.1 104.1 L66.3 104.0 L66.6 104.2 L66.8 104.1 L67.1 104.3 L67.3 104.2 L67.6 104.0 L67.9 104.0 L68.1 104.0 L68.4 104.1 L68.6 104.1 L68.9 104.1 L69.1 104.2 L69.4 103.9 L69.7 104.0 L69.9 103.9 L70.2 103.9 L70.4 104.0 L70.7 104.0 L70.9 103.9 L71.2 103.9 L71.4 104.1 L71.7 104.0 L72.0 104.1 L72.2 103.9 L72.5 103.8 L72.7 103.9 L73.0 104.0 L73.2 103.9 L73.5 104.0 L73.7 103.8 L74.0 104.0 L74.3 103.9 L74.5 104.0 L74.8 103.8 L75.0 103.9 L75.3 103.8 L75.5 103.7 L75.8 103.6 L76.1 103.6 L76.3 103.4 L76.6 103.2 L76.8 103.2 L77.1 103.0 L77.3 102.6 L77.6 102.1 L77.8 101.3 L78.1 99.3 L78.4 96.4 L78.6 91.4 L78.9 86.0 L79.1 84.2 L79.1 84.2 L79.4 88.7 L79.6 94.2 L79.9 98.1 L80.1 100.5 L80.4 101.8 L80.7 102.3 L80.9 102.9 L81.2 103.2 L81.4 103.3 L81.7 103.2 L81.9 103.5 L82.2 103.6 L82.5 103.5 L82.7 103.7 L83.0 103.8 L83.2 103.8 L83.5 103.8 L83.7 104.0 L84.0 103.8 L84.2 103.8 L84.5 103.9 L84.8 104.0 L85.0 104.0 L85.3 103.9 L85.5 103.9 L85.8 104.0 L86.0 104.0 L86.3 103.7 L86.5 103.9 L86.8 103.7 L87.1 104.0 L87.3 103.9 L87.6 103.8 L87.8 103.7 L88.1 103.8 L88.3 103.6 L88.6 103.8 L88.9 103.7 L89.1 103.5 L89.4 103.6 L89.6 103.6 L89.9 103.2 L90.1 103.1 L90.4 103.0 L90.6 102.3 L90.9 101.2 L91.2 99.4 L91.4 96.5 L91.7 93.0 L91.9 92.0 L91.9 92.0 L92.2 94.6 L92.4 97.9 L92.7 100.5 L92.9 101.9 L93.2 102.7 L93.5 103.1 L93.7 103.3 L94.0 103.5 L94.2 103.6 L94.5 103.7 L94.7 103.6 L95.0 103.8 L95.3 103.8 L95.5 103.9 L95.8 103.8 L96.0 103.9 L96.3 104.0 L96.5 104.0 L96.8 104.0 L97.0 104.1 L97.3 104.0 L97.6 104.1 L97.8 104.1 L98.1 104.1 L98.3 104.1 L98.6 104.0 L98.8 104.3 L99.1 104.1 L99.3 104.2 L99.6 104.1 L99.9 104.0 L100.1 103.9 L100.4 104.1 L100.6 104.0 L100.9 104.0 L101.1 103.8 L101.4 104.1 L101.7 103.8 L101.9 103.7 L102.2 103.7 L102.4 103.5 L102.7 103.2 L102.7 103.3 L102.9 103.4 L103.2 103.6 L103.4 103.8 L103.7 104.0 L104.0 103.9 L104.2 103.8 L104.5 104.2 L104.7 104.0 L105.0 103.9 L105.2 104.1 L105.5 104.1 L105.7 104.0 L106.0 104.3 L106.3 103.8 L106.5 104.2 L106.8 104.0 L107.0 104.1 L107.3 104.1 L107.5 104.0 L107.8 104.1 L108.1 103.9 L108.3 104.0 L108.6 104.2 L108.8 103.8 L109.1 104.2 L109.3 103.8 L109.6 104.0 L109.8 104.1 L110.1 104.0 L110.4 104.0 L110.6 103.9 L110.9 104.0 L111.1 104.0 L111.4 104.0 L111.6 103.9 L111.9 104.0 L112.1 104.1 L112.4 104.1 L112.7 104.1 L112.9 104.2 L113.2 104.1 L113.4 103.7 L113.7 104.1 L113.9 104.0 L114.2 103.8 L114.5 104.0 L114.7 104.0 L115.0 103.8 L115.2 103.8 L115.5 103.9 L115.7 103.8 L116.0 103.9 L116.2 103.8 L116.5 103.7 L116.8 103.5 L117.0 103.6 L117.3 103.3 L117.5 103.2 L117.8 103.0 L118.0 103.1 L118.3 102.7 L118.5 102.0 L118.8 101.1 L119.1 99.4 L119.3 96.4 L119.6 91.3 L119.8 86.1 L120.0 84.0 L120.1 84.3 L120.3 88.3 L120.6 94.0 L120.9 97.9 L121.1 100.6 L121.4 101.6 L121.6 102.2 L121.9 102.9 L122.1 103.0 L122.4 103.2 L122.6 103.3 L122.9 103.6 L123.2 103.6 L123.4 103.6 L123.7 103.7 L123.9 103.7 L124.2 103.7 L124.4 103.7 L124.7 104.0 L124.9 103.9 L125.2 103.7 L125.5 103.8 L125.7 103.9 L126.0 104.1 L126.2 103.9 L126.5 103.9 L126.7 103.9 L127.0 104.0 L127.3 103.9 L127.5 104.0 L127.8 104.0 L128.0 104.0 L128.3 104.1 L128.5 103.9 L128.8 103.9 L129.0 104.2 L129.3 103.7 L129.6 103.8 L129.8 103.7 L130.1 103.9 L130.3 103.8 L130.6 104.0 L130.8 103.7 L131.1 103.9 L131.3 103.8 L131.6 103.7 L131.9 103.9 L132.1 103.7 L132.4 103.8 L132.6 103.7 L132.9 103.7 L133.1 103.6 L133.4 103.5 L133.7 103.4 L133.9 103.2 L134.2 103.2 L134.4 102.9 L134.7 102.6 L134.9 102.1 L135.2 101.7 L135.4 100.6 L135.7 98.3 L136.0 94.7 L136.2 88.9 L136.5 82.4 L136.7 80.1 L136.7 80.2 L137.0 85.4 L137.2 92.1 L137.5 96.8 L137.7 99.6 L138.0 101.0 L138.3 102.0 L138.5 102.5 L138.8 102.8 L139.0 103.2 L139.3 103.4 L139.5 103.3 L139.8 103.5 L140.1 103.5 L140.3 103.7 L140.6 103.9 L140.8 103.8 L141.1 103.8 L141.3 103.7 L141.6 103.8 L141.8 103.9 L142.1 103.8 L142.4 104.0 L142.6 103.9 L142.9 103.8 L143.1 104.1 L143.4 103.6 L143.6 103.9 L143.9 103.9 L144.1 104.1 L144.4 104.1 L144.7 104.1 L144.9 104.1 L145.2 104.0 L145.4 104.0 L145.7 104.1 L145.9 104.0 L146.2 103.8 L146.5 103.9 L146.7 104.0 L147.0 104.0 L147.2 103.8 L147.5 104.1 L147.7 104.0 L148.0 103.8 L148.2 104.0 L148.5 104.0 L148.8 104.0 L149.0 103.8 L149.3 103.8 L149.5 103.9 L149.8 103.8 L150.0 103.7 L150.3 103.6 L150.5 103.5 L150.8 103.3 L151.1 103.3 L151.3 103.2 L151.6 102.8 L151.8 102.1 L152.1 101.1 L152.3 98.9 L152.6 95.8 L152.9 93.0 L153.0 92.5 L153.1 92.9 L153.4 95.7 L153.6 98.9 L153.9 100.7 L154.1 102.1 L154.4 102.9 L154.6 103.1 L154.9 103.3 L155.2 103.6 L155.4 103.5 L155.7 103.8 L155.9 103.7 L156.2 104.0 L156.4 103.8 L156.7 103.9 L156.9 103.8 L157.2 103.8 L157.5 104.0 L157.7 104.0 L158.0 103.9 L158.2 104.0 L158.5 103.9 L158.7 103.9 L159.0 104.0 L159.3 104.0 L159.5 104.0 L159.8 104.1 L160.0 104.0 L160.3 103.9 L160.5 103.9 L160.8 104.0 L161.0 103.8 L161.3 103.9 L161.6 103.9 L161.8 103.8 L162.1 103.8 L162.3 103.7 L162.6 103.5 L162.8 103.2 L162.9 103.2 L163.1 103.1 L163.3 103.5 L163.6 103.8 L163.9 103.6 L164.1 104.1 L164.4 103.8 L164.6 103.7 L164.9 104.1 L165.1 103.9 L165.4 103.9 L165.7 103.9 L165.9 104.0 L166.2 103.9 L166.4 103.9 L166.7 104.0 L166.9 103.8 L167.2 103.8 L167.4 103.8 L167.7 103.8 L168.0 103.9 L168.2 103.7 L168.5 103.6 L168.7 103.6 L169.0 103.4 L169.2 103.6 L169.5 103.5 L169.7 103.4 L170.0 103.2 L170.3 103.0 L170.5 102.5 L170.8 101.9 L171.0 100.7 L171.3 98.6 L171.5 96.0 L171.8 93.7 L171.9 93.5 L172.1 94.2 L172.3 96.7 L172.6 98.2 L172.8 98.4 L173.1 97.0 L173.3 94.2 L173.6 90.5 L173.8 89.2 L173.8 89.4 L174.1 92.7 L174.4 96.6 L174.6 99.5 L174.9 101.1 L175.1 101.9 L175.4 102.6 L175.6 102.8 L175.9 102.9 L176.1 103.1 L176.4 103.1 L176.7 103.2 L176.9 103.1 L177.2 103.0 L177.4 102.7 L177.7 102.0 L177.9 100.9 L178.2 99.2 L178.5 97.5 L178.6 97.3 L178.7 97.5 L179.0 99.3 L179.2 101.0 L179.5 102.1 L179.7 102.8 L180.0 103.2 L180.2 103.4 L180.5 103.4 L180.8 103.5 L181.0 103.5 L181.3 103.5 L181.5 103.8 L181.8 103.4 L182.0 103.5 L182.3 103.6 L182.5 103.6 L182.8 103.4 L183.1 103.2 L183.3 103.0 L183.6 103.0 L183.8 102.6 L184.1 101.7 L184.3 100.0 L184.6 97.9 L184.9 95.6 L185.0 95.3 L185.1 95.6 L185.4 98.0 L185.6 100.0 L185.9 101.4 L186.1 102.5 L186.4 103.0 L186.6 103.3 L186.9 103.3 L187.2 103.5 L187.4 103.5 L187.7 103.6 L187.9 103.7 L188.2 103.8 L188.4 103.9 L188.7 103.6 L188.9 103.9 L189.2 103.9 L189.5 103.7 L189.7 103.8 L190.0 103.8 L190.2 103.7 L190.5 103.9 L190.7 104.0 L191.0 103.9 L191.3 103.9 L191.5 103.9 L191.8 103.7 L192.0 103.8 L192.3 103.6 L192.5 103.7 L192.8 103.7 L193.0 103.8 L193.3 103.5 L193.6 103.5 L193.8 103.5 L194.1 103.3 L194.3 103.3 L194.6 103.2 L194.8 102.9 L195.1 102.8 L195.3 102.5 L195.6 102.1 L195.9 101.4 L196.1 100.7 L196.4 99.6 L196.6 97.5 L196.9 93.2 L197.1 86.4 L197.4 75.9 L197.7 65.5 L197.8 64.0 L197.9 65.7 L198.2 75.9 L198.4 86.2 L198.7 93.3 L198.9 97.5 L199.2 99.7 L199.4 100.9 L199.7 101.6 L200.0 102.1 L200.2 102.3 L200.5 102.8 L200.7 102.9 L201.0 103.2 L201.2 103.2 L201.5 103.5 L201.7 103.4 L202.0 103.6 L202.3 103.7 L202.5 103.6 L202.8 103.8 L203.0 103.7 L203.3 103.6 L203.5 103.8 L203.8 103.8 L204.1 103.7 L204.3 103.8 L204.6 103.8 L204.8 103.8 L205.1 103.8 L205.3 103.9 L205.6 103.8 L205.8 104.0 L206.1 103.8 L206.4 103.8 L206.6 104.0 L206.9 104.0 L207.1 103.8 L207.4 103.9 L207.6 103.7 L207.9 103.8 L208.1 103.8 L208.4 103.9 L208.7 103.7 L208.9 103.7 L209.2 103.7 L209.4 103.7 L209.7 103.5 L209.9 103.4 L210.2 103.7 L210.5 103.3 L210.7 103.0 L211.0 102.9 L211.2 102.1 L211.5 101.1 L211.7 99.7 L212.0 96.8 L212.2 92.9 L212.5 90.8 L212.8 93.0 L213.0 96.8 L213.3 99.6 L213.5 101.4 L213.8 102.2 L214.0 102.6 L214.3 103.2 L214.5 103.4 L214.8 103.5 L215.1 103.6 L215.3 103.8 L215.6 103.6 L215.8 103.9 L216.1 103.9 L216.3 103.8 L216.6 103.9 L216.9 103.9 L217.1 104.0 L217.4 103.8 L217.6 103.9 L217.9 104.0 L218.1 104.0 L218.4 104.0 L218.6 104.0 L218.9 104.0 L219.2 103.9 L219.4 104.1 L219.7 103.9 L219.9 104.0 L220.2 103.9 L220.4 103.9 L220.7 104.0 L220.9 104.0 L221.2 104.0 L221.5 104.0 L221.7 104.0 L222.0 104.0 L222.2 104.1 L222.5 104.0 L222.7 103.9 L223.0 104.1 L223.3 104.0 L223.5 103.7 L223.8 104.0 L224.0 103.9 L224.3 103.9 L224.5 103.7 L224.8 103.7 L225.0 103.7 L225.3 103.7 L225.6 103.5 L225.8 103.4 L226.1 103.4 L226.3 103.1 L226.6 102.8 L226.8 102.2 L227.1 101.2 L227.3 99.7 L227.6 96.9 L227.9 92.8 L228.1 90.0 L228.2 89.8 L228.4 91.1 L228.6 94.9 L228.9 98.4 L229.1 100.7 L229.4 101.9 L229.7 102.6 L229.9 102.9 L230.2 103.1 L230.4 103.3 L230.7 103.5 L230.9 103.5 L231.2 103.8 L231.4 103.7 L231.7 103.7 L232.0 103.6 L232.2 103.6 L232.5 103.3 L232.7 103.2 L233.0 103.0 L233.2 103.0 L233.5 103.6 L233.7 103.6 L234.0 103.9 L234.3 103.9 L234.5 103.9 L234.8 104.0 L235.0 103.9 L235.3 104.0 L235.5 104.0 L235.8 104.1 L236.1 104.1 L236.3 104.0 L236.6 104.1 L236.8 104.1 L237.1 104.2 L237.3 104.0 L237.6 103.9 L237.8 104.1 L238.1 104.1 L238.4 104.0 L238.6 104.0 L238.9 104.0 L239.1 103.9 L239.4 104.2 L239.6 104.0 L239.9 104.0 L240.1 103.9 L240.4 104.0 L240.7 104.1 L240.9 104.2 L241.2 104.1 L241.4 104.0 L241.7 104.0 L241.9 104.0 L242.2 104.1 L242.5 104.2 L242.7 104.0 L243.0 104.2 L243.2 104.3 L243.5 104.1 L243.7 103.9 L244.0 104.2 L244.2 104.1 L244.5 104.1 L244.8 104.2 L245.0 104.0 L245.3 104.1 L245.5 104.1 L245.8 104.0 L246.0 104.1 L246.3 104.1 L246.5 104.0 L246.8 104.3 L247.1 104.1 L247.3 104.2 L247.6 104.1 L247.8 104.2 L248.1 104.0 L248.3 104.1 L248.6 104.2 L248.9 103.9 L249.1 104.1 L249.4 104.1 L249.6 104.2 L249.9 104.1 L250.1 104.1 L250.4 104.0 L250.6 104.4 L250.9 104.0 L251.2 104.1 L251.4 104.0 L251.7 104.1 L251.9 104.1 L252.2 103.9 L252.4 104.2 L252.7 104.1 L252.9 104.1 L253.2 103.9 L253.5 104.0 L253.7 104.0 L254.0 104.0 L254.2 104.0 L254.5 104.1 L254.7 104.1 L255.0 104.0 L255.3 103.9 L255.5 104.1 L255.8 104.0 L256.0 104.2 L256.3 104.1 L256.5 104.0 L256.8 103.9 L257.0 104.0 L257.3 104.0 L257.6 104.1 L257.8 103.8 L258.1 104.1 L258.3 103.8 L258.6 103.9 L258.8 103.8 L259.1 103.9 L259.3 103.9 L259.6 103.9 L259.9 103.7 L260.1 103.8 L260.4 103.8 L260.6 103.5 L260.9 103.1 L261.1 102.7 L261.4 101.7 L261.7 100.3 L261.9 98.8 L262.1 98.2 L262.2 98.4 L262.4 99.5 L262.7 100.8 L262.9 102.3 L263.2 103.0 L263.4 103.3 L263.7 103.5 L264.0 103.8 L264.2 103.8 L264.5 103.7 L264.7 103.8 L265.0 103.6 L265.2 103.9 L265.5 103.8 L265.7 103.9 L266.0 103.8 L266.3 103.8 L266.5 103.9 L266.8 104.2 L267.0 103.8 L267.3 103.7 L267.5 103.8 L267.8 103.9 L268.1 103.8 L268.3 103.6 L268.6 103.3 L268.8 103.0 L269.1 102.2 L269.3 101.1 L269.6 99.8 L269.8 99.3 L269.8 99.4 L270.1 100.6 L270.4 101.8 L270.6 102.6 L270.9 103.2 L271.1 103.4 L271.4 103.7 L271.6 103.7 L271.9 103.7 L272.1 103.9 L272.4 103.9 L272.7 103.8 L272.9 103.8 L273.2 103.9 L273.4 103.7 L273.7 103.8 L273.9 104.0 L274.2 103.9 L274.5 103.9 L274.7 103.7 L275.0 103.7 L275.2 103.6 L275.5 103.4 L275.7 103.3 L276.0 102.6 L276.2 101.8 L276.5 100.4 L276.8 99.5 L276.8 99.6 L277.0 99.8 L277.3 101.0 L277.5 102.2 L277.8 102.8 L278.0 103.3 L278.3 103.5 L278.5 103.9 L278.8 103.7 L279.1 103.6 L279.3 103.9 L279.6 104.0 L279.8 103.9 L280.1 103.9 L280.3 104.0 L280.6 103.8 L280.9 103.9 L281.1 103.9 L281.4 104.0 L281.6 104.0 L281.9 103.8 L282.1 103.6 L282.4 103.7 L282.6 103.5 L282.9 103.4 L283.2 102.8 L283.4 102.0 L283.7 100.8 L283.9 99.0 L284.2 98.0 L284.4 99.3 L284.7 100.6 L284.9 102.1 L285.2 102.9 L285.5 103.3 L285.7 103.6 L286.0 103.5 L286.2 103.8 L286.5 103.6 L286.7 103.8 L287.0 103.9 L287.3 104.0 L287.5 104.0 L287.8 103.8 L288.0 103.9 L288.3 103.9 L288.5 103.9 L288.8 103.9 L289.0 103.9 L289.3 104.0 L289.6 104.0 L289.8 104.0 L290.1 104.0 L290.3 103.9 L290.6 103.7 L290.8 103.7 L291.1 103.7 L291.3 103.7 L291.6 103.5 L291.9 103.1 L292.1 102.8 L292.4 101.7 L292.6 100.3 L292.9 98.4 L293.1 97.4 L293.4 98.3 L293.7 100.3 L293.9 101.8 L294.2 102.6 L294.4 103.2 L294.7 103.5 L294.9 103.4 L295.2 103.6 L295.4 104.0 L295.7 103.9 L296.0 103.8 L296.2 103.7 L296.5 103.8 L296.7 104.0 L297.0 104.0 L297.2 104.0 L297.5 104.1 L297.7 104.0 L298.0 104.2 L298.3 103.9 L298.5 104.1 L298.8 104.0 L299.0 103.9 L299.3 104.1 L299.5 104.0 L299.8 104.1 L300.1 104.2 L300.3 104.1 L300.6 104.0 L300.8 104.0 L301.1 104.1 L301.3 104.2 L301.6 104.2 L301.8 104.2 L302.1 104.1 L302.4 104.0 L302.6 104.2 L302.9 104.2 L303.1 104.1 L303.4 104.1 L303.6 104.1 L303.9 104.0 L304.1 104.1 L304.4 104.2 L304.7 104.1 L304.9 103.9 L305.2 104.0 L305.4 104.2 L305.7 104.1 L305.9 104.2 L306.2 104.0 L306.5 104.0 L306.7 104.0 L307.0 104.0 L307.2 104.1 L307.5 104.1 L307.7 104.0 L308.0 104.1 L308.2 104.0 L308.5 104.1 L308.8 103.9 L309.0 103.9 L309.3 104.0 L309.5 104.0 L309.8 104.2 L310.0 104.2 L310.3 104.2 L310.5 104.0 L310.8 104.2 L311.1 104.0 L311.3 104.0 L311.6 104.1 L311.8 103.9 L312.1 104.1 L312.3 104.2 L312.6 103.9 L312.9 103.9 L313.1 104.1 L313.4 104.1 L313.6 104.1 L313.9 104.0 L314.1 104.2 L314.4 104.1 L314.6 104.0 L314.9 104.3 L315.2 104.1 L315.4 104.2 L315.7 104.3 L315.9 104.0 L316.2 104.1 L316.4 103.9 L316.7 104.1 L316.9 104.1 L317.2 104.3 L317.5 104.1 L317.7 104.1 L318.0 104.0 L318.2 104.0 L318.5 103.9 L318.7 104.0 L319.0 104.1 L319.3 104.1 L319.5 104.0 L319.8 104.1 L320.0 104.0 L320.3 104.2 L320.5 104.2 L320.8 104.0 L321.0 104.0 L321.3 104.0 L321.6 104.0 L321.8 104.3 L322.1 104.1 L322.3 104.2 L322.6 104.1 L322.8 104.2 L323.1 104.1 L323.3 104.0 L323.6 104.2 L323.9 104.2 L324.1 104.0 L324.4 104.2 L324.6 104.1 L324.9 104.1 L325.1 104.3 L325.4 104.1 L325.7 104.1 L325.9 104.0 L326.2 104.1 L326.4 104.2 L326.7 104.1 L326.9 104.0 L327.2 104.1 L327.4 104.0 L327.7 104.1 L328.0 104.0 L328.2 103.8 L328.5 103.9 L328.7 104.0 L329.0 103.8 L329.2 103.8 L329.5 104.2 L329.7 104.0 L330.0 103.8 L330.3 103.8 L330.5 103.4 L330.8 103.4 L331.0 103.1 L331.3 102.4 L331.5 102.0 L331.8 102.5 L332.1 102.9 L332.3 103.3 L332.6 103.7 L332.8 103.7 L333.1 104.1 L333.3 103.9 L333.6 104.1 L333.8 103.9 L334.1 103.8 L334.4 103.9 L334.6 103.8 L334.9 103.9 L335.1 103.7 L335.4 103.4 L335.6 102.6 L335.9 102.1 L336.0 102.3 L336.1 102.1 L336.4 102.7 L336.7 103.3 L336.9 103.4 L337.2 103.7 L337.4 103.8 L337.7 103.9 L337.9 104.0 L338.2 103.9 L338.5 104.0 L338.7 103.9 L339.0 103.9 L339.2 104.0 L339.5 104.2 L339.7 104.0 L340.0 104.0 L340.2 104.1 L340.5 104.0 L340.8 104.1 L341.0 103.9 L341.3 104.0 L341.5 103.9 L341.8 103.7 L342.0 103.6 L342.3 103.6 L342.5 103.5 L342.8 103.0 L343.1 102.0 L343.3 101.0 L343.6 99.5 L343.7 99.3 L343.8 99.7 L344.1 100.6 L344.3 102.1 L344.6 102.9 L344.9 103.4 L345.1 103.4 L345.4 103.7 L345.6 103.9 L345.9 103.9 L346.1 104.0 L346.4 103.9 L346.6 104.0 L346.9 104.0 L347.2 103.9 L347.4 104.0 L347.7 104.1 L347.9 104.0 L348.2 103.8 L348.4 103.9 L348.7 104.2 L348.9 104.0 L349.2 104.0 L349.5 104.2 L349.7 104.0 L350.0 103.9 L350.2 104.0 L350.5 104.0 L350.7 104.1 L351.0 104.0 L351.3 104.1 L351.5 104.1 L351.8 104.0 L352.0 104.1 L352.3 104.1 L352.5 104.2 L352.8 104.0 L353.0 104.2 L353.3 104.2 L353.6 104.1 L353.8 104.0 L354.1 104.1 L354.3 103.9 L354.6 104.0 L354.8 104.0 L355.1 104.1 L355.3 104.1 L355.6 104.1 L355.9 104.1 L356.1 104.1 L356.4 104.1 L356.6 104.1 L356.9 104.0 L357.1 104.2 L357.4 104.2 L357.7 104.2 L357.9 104.0 L358.2 104.1 L358.4 103.9 L358.7 104.2 L358.9 104.1 L359.2 104.0 L359.4 104.0 L359.7 104.1 L360.0 104.1 L360.2 104.0 L360.5 104.1 L360.7 104.1 L361.0 104.1 L361.2 104.1 L361.5 104.1 L361.7 104.3 L362.0 104.2 L362.3 104.1 L362.5 103.9 L362.8 104.1 L363.0 104.1 L363.3 103.8 L363.5 104.1 L363.8 104.1 L364.1 104.1 L364.3 104.1 L364.6 104.1 L364.8 104.2 L365.1 104.1 L365.3 104.0 L365.6 104.0 L365.8 104.3 L366.1 104.0 L366.4 104.0 L366.6 104.1 L366.9 104.0 L367.1 104.0 L367.4 104.1 L367.6 104.1 L367.9 104.0 L368.1 103.9 L368.4 103.8 L368.7 103.6 L368.9 103.4 L369.2 102.7 L369.4 102.2 L369.6 102.1 L369.7 102.0 L369.9 102.5 L370.2 103.2 L370.5 103.3 L370.7 103.8 L371.0 103.7 L371.2 103.9 L371.5 103.9 L371.7 103.9 L372.0 103.8 L372.2 104.0 L372.5 103.7 L372.8 103.8 L373.0 104.0 L373.3 104.1 L373.5 104.2 L373.8 104.0 L374.0 103.9 L374.3 103.9 L374.5 104.0 L374.8 104.0 L375.1 103.6 L375.3 103.6 L375.6 103.1 L375.8 102.9 L376.0 102.6 L376.1 102.6 L376.3 102.9 L376.6 103.2 L376.9 103.7 L377.1 103.9 L377.4 104.0 L377.6 104.0 L377.9 103.9 L378.1 103.9 L378.4 103.9 L378.6 104.0 L378.9 104.1 L379.2 104.1 L379.4 103.8 L379.7 104.1 L379.9 104.0 L380.2 104.0 L380.4 104.1 L380.7 104.1 L380.9 104.0 L381.2 103.9 L381.5 104.0 L381.7 104.1 L382.0 104.1 L382.2 104.2 L382.5 104.1 L382.7 104.0 L383.0 104.2 L383.3 104.0 L383.5 104.2 L383.8 104.1 L384.0 104.2 L384.3 104.0 L384.5 104.2 L384.8 104.1 L385.0 104.0 L385.3 104.2 L385.6 104.3 L385.8 104.1 L386.1 104.0 L386.3 104.1 L386.6 104.2 L386.8 104.1 L387.1 104.2 L387.3 104.0 L387.6 104.2 L387.9 103.9 L388.1 104.1 L388.4 104.1 L388.6 104.0 L388.9 104.2 L389.1 104.0 L389.4 104.1 L389.7 104.3 L389.9 104.2 L390.2 104.0 L390.4 104.0 L390.7 103.9 L390.9 104.1 L391.2 104.2 L391.4 104.2 L391.7 104.1 L392.0 104.3 L392.2 104.1 L392.5 103.8 L392.7 104.0 L393.0 104.1 L393.2 104.0 L393.5 104.1 L393.7 104.3 L394.0 103.9 L394.3 104.2 L394.5 104.0 L394.8 103.8 L395.0 103.9 L395.3 103.9 L395.5 103.7 L395.8 103.7 L396.1 103.1 L396.3 102.7 L396.6 102.1 L396.8 101.6 L397.1 101.9 L397.3 102.7 L397.6 103.3 L397.8 103.7 L398.1 103.9 L398.4 104.0 L398.6 103.9 L398.9 103.8 L399.1 103.9 L399.4 103.9 L399.6 103.9 L399.9 103.9 L400.1 104.0 L400.4 104.0 L400.7 104.0 L400.9 103.8 L401.2 104.0 L401.4 103.7 L401.7 103.6 L401.9 103.3 L402.2 102.6 L402.5 102.3 L402.6 102.0 L402.7 102.2 L403.0 102.8 L403.2 103.3 L403.5 103.4 L403.7 103.8 L404.0 104.0 L404.2 103.9 L404.5 103.9 L404.8 104.0 L405.0 104.2 L405.3 104.0 L405.5 103.9 L405.8 103.9 L406.0 104.0 L406.3 104.0 L406.5 104.0 L406.8 104.0 L407.1 103.8 L407.3 103.8 L407.6 104.0 L407.8 103.9 L408.1 103.5 L408.3 103.4 L408.6 102.9 L408.7 103.3 L408.9 103.3 L409.1 103.3 L409.4 103.8 L409.6 103.9 L409.9 103.9 L410.1 103.9 L410.4 104.0 L410.6 104.0 L410.9 104.0 L411.2 104.0 L411.4 104.1 L411.7 104.1 L411.9 103.9 L412.2 104.0 L412.4 104.2 L412.7 104.1 L412.9 104.2 L413.2 103.9 L413.5 104.0 L413.7 103.9 L414.0 103.9 L414.2 104.0 L414.5 104.0 L414.7 104.0 L415.0 104.0 L415.3 104.1 L415.5 104.2 L415.8 104.1 L416.0 103.9 L416.3 104.2 L416.5 104.1 L416.8 104.0 L417.0 104.1 L417.3 104.1 L417.6 104.0 L417.8 104.2 L418.1 104.0 L418.3 104.0 L418.6 104.1 L418.8 104.3 L419.1 104.1 L419.3 104.0 L419.6 104.1 L419.9 104.2 L420.1 104.1 L420.4 104.2 L420.6 104.0 L420.9 104.1 L421.1 103.9 L421.4 104.0 L421.7 104.0 L421.9 104.1 L422.2 104.2 L422.4 103.9 L422.7 104.0 L422.9 104.0 L423.2 104.1 L423.4 104.2 L423.7 104.0 L424.0 104.0 L424.2 104.2 L424.5 104.1 L424.7 104.1 L425.0 104.2 L425.2 104.0 L425.5 104.1 L425.7 104.0 L426.0 104.0 L426.3 104.1 L426.5 104.1 L426.8 103.9 L427.0 103.9 L427.3 104.0 L427.5 103.9 L427.8 103.8 L428.1 103.4 L428.3 103.1 L428.5 103.2 L428.6 103.2 L428.8 103.0 L429.1 103.7 L429.3 103.7 L429.6 104.0 L429.8 104.1 L430.1 104.0 L430.4 103.9 L430.6 104.1 L430.9 104.1 L431.1 104.1 L431.4 103.9 L431.6 104.1 L431.9 104.2 L432.1 104.2 L432.4 104.1 L432.7 104.2 L432.9 104.0 L433.2 104.2 L433.4 104.1 L433.7 104.0 L433.9 104.1 L434.2 104.1 L434.5 104.1 L434.7 104.2 L435.0 104.1 L435.2 104.0 L435.5 104.3 L435.7 104.1 L436.0 104.0 L436.2 104.2 L436.5 104.1" fill="none" stroke="#9628f2" stroke-width="1.05" stroke-linejoin="round"/><path d="M52.5 155.3 L52.8 155.2 L53.0 155.3 L53.3 155.3 L53.5 155.3 L53.8 155.4 L54.0 155.4 L54.3 155.3 L54.5 155.1 L54.8 155.2 L55.1 155.1 L55.3 155.2 L55.6 155.2 L55.8 155.3 L56.1 155.3 L56.3 155.4 L56.6 155.4 L56.9 155.3 L57.1 155.4 L57.4 155.3 L57.6 155.3 L57.9 155.4 L58.1 155.2 L58.4 155.3 L58.6 155.5 L58.9 155.2 L59.2 155.3 L59.4 155.3 L59.7 155.3 L59.9 155.2 L60.2 155.2 L60.4 155.2 L60.7 155.4 L60.9 155.3 L61.2 155.4 L61.5 155.2 L61.7 155.3 L62.0 155.3 L62.2 155.4 L62.5 155.2 L62.7 155.4 L63.0 155.4 L63.3 155.5 L63.5 155.2 L63.8 155.2 L64.0 155.1 L64.3 155.4 L64.5 155.3 L64.8 155.3 L65.0 155.2 L65.3 155.4 L65.6 155.4 L65.8 155.3 L66.1 155.3 L66.3 155.4 L66.6 155.3 L66.8 155.4 L67.1 155.2 L67.3 155.3 L67.6 155.2 L67.9 155.2 L68.1 155.2 L68.4 155.2 L68.6 155.3 L68.9 155.2 L69.1 155.3 L69.4 155.2 L69.7 155.1 L69.9 155.4 L70.2 155.1 L70.4 155.4 L70.7 155.3 L70.9 155.0 L71.2 155.2 L71.4 155.2 L71.7 155.2 L72.0 155.2 L72.2 155.1 L72.5 155.3 L72.7 155.2 L73.0 155.3 L73.2 155.1 L73.5 155.1 L73.7 155.3 L74.0 155.1 L74.3 155.0 L74.5 155.1 L74.8 155.1 L75.0 155.0 L75.3 154.9 L75.5 155.0 L75.8 155.0 L76.1 154.8 L76.3 154.7 L76.6 154.6 L76.8 154.7 L77.1 154.2 L77.3 154.1 L77.6 153.4 L77.8 152.6 L78.1 150.8 L78.4 148.1 L78.6 143.7 L78.9 138.6 L79.1 136.9 L79.1 137.0 L79.4 140.9 L79.6 146.1 L79.9 149.7 L80.1 151.9 L80.4 153.0 L80.7 153.6 L80.9 154.0 L81.2 154.5 L81.4 154.4 L81.7 154.6 L81.9 154.7 L82.2 154.7 L82.5 154.8 L82.7 155.0 L83.0 155.1 L83.2 155.0 L83.5 155.4 L83.7 155.1 L84.0 155.2 L84.2 155.0 L84.5 155.2 L84.8 155.3 L85.0 155.1 L85.3 155.3 L85.5 155.0 L85.8 155.0 L86.0 155.1 L86.3 155.0 L86.5 155.2 L86.8 155.0 L87.1 155.1 L87.3 154.9 L87.6 155.1 L87.8 155.2 L88.1 155.0 L88.3 155.1 L88.6 155.1 L88.9 154.9 L89.1 154.8 L89.4 154.8 L89.6 154.8 L89.9 154.6 L90.1 154.3 L90.4 154.3 L90.6 153.5 L90.9 152.7 L91.2 151.0 L91.4 148.4 L91.7 145.3 L91.9 144.2 L91.9 144.6 L92.2 146.7 L92.4 149.9 L92.7 151.9 L92.9 153.2 L93.2 153.9 L93.5 154.3 L93.7 154.6 L94.0 154.5 L94.2 154.8 L94.5 154.9 L94.7 154.9 L95.0 155.0 L95.3 155.3 L95.5 155.3 L95.8 155.2 L96.0 155.1 L96.3 155.1 L96.5 155.3 L96.8 155.1 L97.0 155.1 L97.3 155.2 L97.6 155.1 L97.8 155.1 L98.1 155.3 L98.3 155.1 L98.6 155.2 L98.8 155.2 L99.1 155.2 L99.3 155.1 L99.6 155.2 L99.9 155.2 L100.1 155.4 L100.4 155.3 L100.6 155.1 L100.9 155.2 L101.1 155.2 L101.4 155.0 L101.7 154.8 L101.9 154.6 L102.2 154.1 L102.4 154.0 L102.7 154.4 L102.9 154.7 L103.2 155.0 L103.4 155.0 L103.7 155.2 L104.0 154.9 L104.2 155.1 L104.5 155.1 L104.7 155.3 L105.0 155.0 L105.2 155.1 L105.5 155.1 L105.7 155.2 L106.0 155.3 L106.3 155.1 L106.5 155.3 L106.8 155.2 L107.0 155.1 L107.3 155.1 L107.5 155.1 L107.8 155.1 L108.1 154.9 L108.3 154.9 L108.6 154.4 L108.8 153.7 L109.1 153.4 L109.1 153.4 L109.3 153.4 L109.6 153.9 L109.8 154.4 L110.1 154.5 L110.4 155.0 L110.6 155.0 L110.9 155.2 L111.1 155.0 L111.4 155.1 L111.6 155.2 L111.9 155.2 L112.1 155.1 L112.4 154.8 L112.7 155.0 L112.9 154.6 L113.2 154.5 L113.3 154.5 L113.4 154.5 L113.7 154.6 L113.9 154.8 L114.2 155.0 L114.5 154.8 L114.7 155.1 L115.0 154.9 L115.2 155.0 L115.5 154.9 L115.7 155.0 L116.0 154.9 L116.2 155.1 L116.5 154.8 L116.8 154.8 L117.0 154.6 L117.3 154.5 L117.5 154.3 L117.8 154.1 L118.0 153.7 L118.3 153.1 L118.5 152.2 L118.8 150.2 L119.1 146.8 L119.3 142.0 L119.6 137.1 L119.7 136.3 L119.8 137.1 L120.1 141.8 L120.3 146.9 L120.6 150.1 L120.9 152.0 L121.1 153.2 L121.4 153.7 L121.6 153.9 L121.9 154.3 L122.1 154.5 L122.4 154.7 L122.6 154.8 L122.9 154.8 L123.2 154.9 L123.4 154.9 L123.7 154.9 L123.9 155.1 L124.2 155.0 L124.4 155.0 L124.7 155.1 L124.9 155.2 L125.2 155.2 L125.5 155.0 L125.7 155.1 L126.0 155.2 L126.2 155.0 L126.5 155.0 L126.7 155.2 L127.0 155.1 L127.3 155.0 L127.5 155.2 L127.8 155.2 L128.0 155.2 L128.3 155.1 L128.5 155.1 L128.8 155.1 L129.0 155.2 L129.3 154.9 L129.6 155.0 L129.8 155.2 L130.1 155.0 L130.3 155.1 L130.6 155.1 L130.8 155.1 L131.1 155.0 L131.3 154.9 L131.6 155.2 L131.9 154.9 L132.1 155.1 L132.4 154.7 L132.6 154.8 L132.9 154.7 L133.1 154.9 L133.4 154.8 L133.7 154.6 L133.9 154.2 L134.2 154.0 L134.4 153.7 L134.7 153.2 L134.9 152.6 L135.2 151.2 L135.4 148.9 L135.7 144.9 L136.0 138.8 L136.2 132.5 L136.3 131.5 L136.5 132.6 L136.7 138.6 L137.0 144.5 L137.2 148.8 L137.5 150.8 L137.7 151.9 L138.0 151.8 L138.3 151.3 L138.5 150.3 L138.8 149.1 L138.9 148.7 L139.0 149.2 L139.3 150.8 L139.5 152.4 L139.8 153.3 L140.1 154.1 L140.3 154.3 L140.6 154.7 L140.8 154.7 L141.1 154.8 L141.3 154.8 L141.6 154.8 L141.8 155.0 L142.1 155.0 L142.4 155.1 L142.6 155.0 L142.9 155.0 L143.1 155.0 L143.4 155.1 L143.6 155.1 L143.9 155.2 L144.1 155.0 L144.4 155.1 L144.7 155.2 L144.9 155.2 L145.2 155.4 L145.4 155.2 L145.7 155.1 L145.9 155.1 L146.2 155.1 L146.5 155.2 L146.7 155.2 L147.0 155.1 L147.2 155.1 L147.5 155.1 L147.7 155.1 L148.0 155.2 L148.2 155.1 L148.5 155.0 L148.8 155.0 L149.0 155.2 L149.3 155.0 L149.5 155.0 L149.8 155.0 L150.0 155.1 L150.3 154.9 L150.5 154.8 L150.8 154.7 L151.1 154.6 L151.3 154.2 L151.6 154.0 L151.8 153.5 L152.1 152.4 L152.3 150.3 L152.6 147.3 L152.9 144.6 L153.0 144.0 L153.1 144.5 L153.4 147.2 L153.6 150.1 L153.9 152.3 L154.1 153.4 L154.4 154.0 L154.6 154.2 L154.9 154.7 L155.2 154.6 L155.4 154.8 L155.7 154.8 L155.9 154.9 L156.2 155.2 L156.4 155.3 L156.7 155.0 L156.9 155.0 L157.2 155.3 L157.5 155.0 L157.7 155.0 L158.0 155.2 L158.2 155.0 L158.5 155.0 L158.7 155.3 L159.0 155.1 L159.3 155.1 L159.5 155.2 L159.8 155.1 L160.0 155.3 L160.3 155.2 L160.5 155.3 L160.8 155.2 L161.0 155.3 L161.3 155.2 L161.6 155.0 L161.8 154.9 L162.1 154.7 L162.3 154.3 L162.6 154.2 L162.8 154.5 L163.1 154.4 L163.3 154.8 L163.6 154.9 L163.9 155.0 L164.1 155.0 L164.4 155.1 L164.6 155.1 L164.9 155.1 L165.1 155.0 L165.4 154.9 L165.7 155.1 L165.9 154.9 L166.2 155.0 L166.4 155.1 L166.7 155.1 L166.9 155.1 L167.2 155.1 L167.4 154.8 L167.7 155.0 L168.0 155.1 L168.2 154.9 L168.5 154.7 L168.7 154.8 L169.0 154.6 L169.2 154.5 L169.5 154.6 L169.7 154.3 L170.0 154.0 L170.3 153.8 L170.5 153.7 L170.8 152.9 L171.0 152.0 L171.3 150.3 L171.5 147.4 L171.8 142.8 L172.1 138.3 L172.2 137.4 L172.3 137.8 L172.6 141.3 L172.8 143.5 L173.1 143.3 L173.3 140.2 L173.6 135.6 L173.8 134.1 L173.8 134.5 L174.1 139.0 L174.4 144.7 L174.6 148.8 L174.9 151.0 L175.1 152.3 L175.4 153.0 L175.6 153.6 L175.9 153.8 L176.1 154.1 L176.4 154.2 L176.7 154.1 L176.9 154.2 L177.2 154.2 L177.4 154.0 L177.7 153.5 L177.9 152.5 L178.2 151.1 L178.5 149.8 L178.6 149.6 L178.7 149.8 L179.0 151.1 L179.2 152.7 L179.5 153.5 L179.7 154.1 L180.0 154.5 L180.2 154.5 L180.5 154.5 L180.8 154.8 L181.0 154.8 L181.3 154.8 L181.5 154.9 L181.8 154.9 L182.0 154.7 L182.3 154.8 L182.5 154.6 L182.8 154.7 L183.1 154.8 L183.3 154.4 L183.6 154.3 L183.8 153.7 L184.1 153.0 L184.3 151.8 L184.6 149.9 L184.9 147.8 L185.0 147.5 L185.1 147.9 L185.4 149.5 L185.6 151.6 L185.9 153.3 L186.1 154.1 L186.4 154.4 L186.6 154.5 L186.9 154.7 L187.2 154.8 L187.4 154.8 L187.7 154.9 L187.9 154.9 L188.2 155.0 L188.4 155.1 L188.7 155.1 L188.9 155.1 L189.2 154.9 L189.5 155.2 L189.7 154.8 L190.0 155.1 L190.2 155.1 L190.5 155.0 L190.7 155.2 L191.0 154.9 L191.3 154.9 L191.5 155.0 L191.8 155.0 L192.0 155.1 L192.3 155.0 L192.5 155.0 L192.8 154.8 L193.0 154.8 L193.3 154.8 L193.6 154.7 L193.8 154.7 L194.1 154.6 L194.3 154.6 L194.6 154.4 L194.8 154.3 L195.1 154.1 L195.3 153.9 L195.6 153.5 L195.9 153.1 L196.1 152.4 L196.4 151.5 L196.6 149.7 L196.9 146.1 L197.1 140.1 L197.4 131.1 L197.7 122.4 L197.8 121.0 L197.9 122.4 L198.2 131.1 L198.4 140.1 L198.7 146.1 L198.9 149.5 L199.2 151.4 L199.4 152.5 L199.7 153.1 L200.0 153.5 L200.2 153.9 L200.5 154.2 L200.7 154.4 L201.0 154.4 L201.2 154.7 L201.5 154.5 L201.7 154.7 L202.0 154.9 L202.3 155.1 L202.5 154.9 L202.8 154.9 L203.0 154.9 L203.3 154.8 L203.5 155.0 L203.8 155.0 L204.1 154.9 L204.3 155.1 L204.6 155.0 L204.8 155.2 L205.1 155.1 L205.3 155.1 L205.6 155.0 L205.8 155.0 L206.1 154.9 L206.4 155.1 L206.6 155.0 L206.9 155.1 L207.1 155.0 L207.4 155.1 L207.6 154.9 L207.9 154.8 L208.1 155.0 L208.4 155.0 L208.7 154.6 L208.9 155.0 L209.2 154.8 L209.4 154.7 L209.7 154.5 L209.9 154.4 L210.2 154.4 L210.5 154.1 L210.7 153.8 L211.0 153.4 L211.2 152.8 L211.5 151.2 L211.7 148.3 L212.0 144.0 L212.2 138.4 L212.5 135.3 L212.8 138.4 L213.0 144.2 L213.3 148.4 L213.5 151.2 L213.8 152.6 L214.0 153.3 L214.3 153.9 L214.5 154.2 L214.8 154.6 L215.1 154.7 L215.3 154.7 L215.6 154.8 L215.8 154.6 L216.1 154.9 L216.3 155.2 L216.6 154.9 L216.9 155.1 L217.1 155.2 L217.4 155.0 L217.6 155.1 L217.9 155.1 L218.1 155.2 L218.4 155.1 L218.6 155.3 L218.9 155.3 L219.2 155.1 L219.4 155.4 L219.7 155.1 L219.9 155.1 L220.2 155.1 L220.4 155.1 L220.7 155.1 L220.9 155.2 L221.2 155.3 L221.5 155.0 L221.7 155.0 L222.0 155.1 L222.2 155.1 L222.5 155.2 L222.7 155.1 L223.0 155.3 L223.3 155.1 L223.5 155.1 L223.8 155.1 L224.0 155.2 L224.3 155.1 L224.5 155.0 L224.8 154.9 L225.0 155.0 L225.3 154.9 L225.6 154.8 L225.8 154.7 L226.1 154.4 L226.3 154.4 L226.6 154.3 L226.8 153.9 L227.1 153.0 L227.3 151.4 L227.6 149.4 L227.9 145.9 L228.1 143.6 L228.2 143.2 L228.4 144.4 L228.6 147.6 L228.9 150.7 L229.1 152.5 L229.4 153.3 L229.7 154.1 L229.9 154.5 L230.2 154.4 L230.4 154.4 L230.7 154.7 L230.9 154.6 L231.2 154.5 L231.4 154.5 L231.7 154.5 L232.0 154.0 L232.2 153.7 L232.5 152.6 L232.7 151.3 L233.0 150.7 L233.2 151.2 L233.5 152.7 L233.7 153.5 L234.0 154.2 L234.3 154.7 L234.5 154.7 L234.8 154.9 L235.0 155.0 L235.3 155.2 L235.5 155.2 L235.8 155.2 L236.1 155.1 L236.3 155.0 L236.6 155.3 L236.8 155.4 L237.1 155.0 L237.3 155.3 L237.6 155.2 L237.8 155.3 L238.1 155.3 L238.4 155.2 L238.6 155.2 L238.9 155.2 L239.1 155.4 L239.4 155.2 L239.6 155.2 L239.9 155.3 L240.1 155.3 L240.4 155.3 L240.7 155.3 L240.9 155.4 L241.2 155.4 L241.4 155.3 L241.7 155.2 L241.9 155.3 L242.2 155.1 L242.5 155.2 L242.7 155.2 L243.0 155.3 L243.2 155.2 L243.5 155.5 L243.7 155.3 L244.0 155.3 L244.2 155.5 L244.5 155.3 L244.8 155.2 L245.0 155.4 L245.3 155.4 L245.5 155.4 L245.8 155.4 L246.0 155.2 L246.3 155.2 L246.5 155.2 L246.8 155.3 L247.1 155.4 L247.3 155.2 L247.6 155.2 L247.8 155.2 L248.1 155.5 L248.3 155.4 L248.6 155.3 L248.9 155.2 L249.1 155.2 L249.4 155.2 L249.6 155.3 L249.9 155.2 L250.1 155.3 L250.4 155.4 L250.6 155.3 L250.9 155.3 L251.2 155.1 L251.4 155.3 L251.7 155.3 L251.9 155.2 L252.2 155.2 L252.4 155.3 L252.7 155.2 L252.9 155.2 L253.2 155.1 L253.5 155.3 L253.7 155.4 L254.0 155.2 L254.2 155.3 L254.5 155.1 L254.7 155.3 L255.0 155.3 L255.3 155.2 L255.5 155.4 L255.8 155.2 L256.0 155.3 L256.3 155.4 L256.5 155.3 L256.8 155.2 L257.0 155.4 L257.3 155.3 L257.6 155.2 L257.8 155.1 L258.1 155.1 L258.3 155.1 L258.6 155.4 L258.8 155.2 L259.1 155.1 L259.3 155.3 L259.6 155.3 L259.9 155.0 L260.1 155.1 L260.4 154.8 L260.6 154.9 L260.9 154.9 L261.1 154.3 L261.4 153.8 L261.7 152.8 L261.9 151.8 L262.1 151.5 L262.2 151.6 L262.4 152.4 L262.7 153.4 L262.9 154.2 L263.2 154.7 L263.4 154.9 L263.7 154.9 L264.0 155.1 L264.2 155.0 L264.5 155.0 L264.7 155.3 L265.0 155.2 L265.2 155.2 L265.5 155.0 L265.7 155.1 L266.0 155.2 L266.3 155.1 L266.5 155.1 L266.8 155.3 L267.0 155.1 L267.3 155.1 L267.5 155.1 L267.8 155.0 L268.1 155.1 L268.3 154.9 L268.6 154.7 L268.8 154.3 L269.1 153.8 L269.3 153.0 L269.6 151.8 L269.8 151.6 L269.8 151.4 L270.1 152.4 L270.4 153.4 L270.6 154.2 L270.9 154.6 L271.1 154.8 L271.4 154.9 L271.6 155.1 L271.9 155.2 L272.1 155.1 L272.4 155.0 L272.7 155.2 L272.9 155.1 L273.2 155.2 L273.4 155.2 L273.7 155.1 L273.9 155.0 L274.2 155.1 L274.5 154.9 L274.7 155.0 L275.0 154.8 L275.2 154.9 L275.5 154.7 L275.7 154.4 L276.0 153.7 L276.2 152.9 L276.5 151.6 L276.8 150.6 L276.8 150.7 L277.0 151.1 L277.3 152.2 L277.5 153.5 L277.8 154.3 L278.0 154.6 L278.3 154.8 L278.5 154.9 L278.8 155.1 L279.1 155.0 L279.3 154.9 L279.6 155.1 L279.8 155.1 L280.1 155.0 L280.3 155.0 L280.6 155.3 L280.9 155.1 L281.1 155.1 L281.4 155.0 L281.6 154.8 L281.9 154.9 L282.1 155.0 L282.4 154.7 L282.6 154.4 L282.9 154.3 L283.2 153.8 L283.4 152.9 L283.7 151.2 L283.9 149.4 L284.2 148.2 L284.4 149.5 L284.7 151.4 L284.9 153.0 L285.2 153.8 L285.5 154.1 L285.7 154.4 L286.0 154.8 L286.2 155.0 L286.5 155.0 L286.7 155.0 L287.0 154.9 L287.3 155.0 L287.5 155.1 L287.8 155.2 L288.0 155.1 L288.3 155.1 L288.5 155.1 L288.8 155.2 L289.0 155.2 L289.3 154.9 L289.6 155.2 L289.8 155.0 L290.1 154.9 L290.3 154.9 L290.6 154.9 L290.8 155.1 L291.1 155.0 L291.3 154.4 L291.6 154.0 L291.9 153.2 L292.1 152.0 L292.4 150.8 L292.5 150.4 L292.6 150.8 L292.9 151.9 L293.1 153.0 L293.4 154.0 L293.7 154.4 L293.9 154.6 L294.2 155.0 L294.4 155.1 L294.7 155.2 L294.9 155.1 L295.2 155.1 L295.4 155.1 L295.7 155.0 L296.0 155.3 L296.2 155.2 L296.5 155.2 L296.7 155.0 L297.0 155.2 L297.2 155.4 L297.5 155.4 L297.7 155.3 L298.0 155.2 L298.3 155.3 L298.5 155.3 L298.8 155.3 L299.0 155.4 L299.3 155.2 L299.5 155.0 L299.8 155.0 L300.1 155.2 L300.3 155.1 L300.6 155.3 L300.8 155.4 L301.1 155.3 L301.3 155.3 L301.6 155.3 L301.8 155.3 L302.1 155.2 L302.4 155.2 L302.6 155.4 L302.9 155.3 L303.1 155.3 L303.4 155.4 L303.6 155.4 L303.9 155.2 L304.1 155.3 L304.4 155.2 L304.7 155.3 L304.9 155.3 L305.2 155.3 L305.4 155.3 L305.7 155.3 L305.9 155.0 L306.2 155.2 L306.5 155.2 L306.7 155.2 L307.0 155.1 L307.2 155.1 L307.5 155.2 L307.7 154.9 L308.0 154.7 L308.2 154.4 L308.5 154.2 L308.8 154.5 L309.0 154.6 L309.3 155.0 L309.5 155.2 L309.8 155.2 L310.0 155.3 L310.3 155.2 L310.5 155.1 L310.8 155.2 L311.1 155.3 L311.3 155.1 L311.6 155.2 L311.8 155.4 L312.1 155.3 L312.3 155.4 L312.6 155.3 L312.9 155.3 L313.1 155.3 L313.4 155.4 L313.6 155.3 L313.9 155.3 L314.1 155.3 L314.4 155.3 L314.6 155.5 L314.9 155.2 L315.2 155.1 L315.4 155.2 L315.7 155.4 L315.9 155.3 L316.2 155.3 L316.4 155.3 L316.7 155.3 L316.9 155.2 L317.2 155.3 L317.5 155.2 L317.7 155.4 L318.0 155.4 L318.2 155.2 L318.5 155.2 L318.7 155.3 L319.0 155.4 L319.3 155.4 L319.5 155.3 L319.8 155.4 L320.0 155.1 L320.3 155.2 L320.5 155.2 L320.8 155.2 L321.0 155.3 L321.3 155.3 L321.6 155.3 L321.8 155.3 L322.1 155.4 L322.3 155.4 L322.6 155.2 L322.8 155.4 L323.1 155.2 L323.3 155.5 L323.6 155.2 L323.9 155.3 L324.1 155.2 L324.4 155.3 L324.6 155.4 L324.9 155.2 L325.1 155.5 L325.4 155.4 L325.7 155.3 L325.9 155.2 L326.2 155.4 L326.4 155.0 L326.7 155.2 L326.9 155.4 L327.2 155.3 L327.4 155.5 L327.7 155.2 L328.0 155.1 L328.2 155.2 L328.5 155.3 L328.7 155.4 L329.0 155.0 L329.2 155.2 L329.5 155.3 L329.7 155.1 L330.0 155.0 L330.3 154.9 L330.5 154.9 L330.8 154.7 L331.0 154.2 L331.3 153.6 L331.5 153.4 L331.8 153.6 L332.1 154.2 L332.3 154.7 L332.6 155.0 L332.8 155.0 L333.1 155.1 L333.3 155.2 L333.6 154.9 L333.8 154.9 L334.1 155.2 L334.4 155.1 L334.6 154.9 L334.9 154.9 L335.1 154.7 L335.4 154.4 L335.6 153.8 L335.9 153.5 L336.0 153.1 L336.1 153.7 L336.4 153.8 L336.7 154.6 L336.9 154.8 L337.2 154.8 L337.4 154.9 L337.7 155.1 L337.9 155.1 L338.2 155.1 L338.5 155.2 L338.7 155.2 L339.0 155.1 L339.2 155.2 L339.5 155.4 L339.7 155.1 L340.0 155.0 L340.2 155.2 L340.5 155.2 L340.8 155.2 L341.0 155.0 L341.3 155.0 L341.5 155.0 L341.8 154.8 L342.0 154.8 L342.3 154.6 L342.5 154.2 L342.8 153.5 L343.1 152.3 L343.3 150.7 L343.6 148.7 L343.7 148.7 L343.8 148.9 L344.1 150.5 L344.3 152.2 L344.6 153.7 L344.9 154.3 L345.1 154.6 L345.4 154.9 L345.6 154.7 L345.9 155.0 L346.1 155.0 L346.4 155.0 L346.6 155.1 L346.9 155.2 L347.2 155.2 L347.4 155.2 L347.7 155.1 L347.9 155.3 L348.2 155.3 L348.4 155.4 L348.7 155.3 L348.9 155.2 L349.2 155.1 L349.5 155.5 L349.7 155.2 L350.0 155.3 L350.2 155.3 L350.5 155.3 L350.7 155.4 L351.0 155.2 L351.3 155.2 L351.5 155.3 L351.8 155.1 L352.0 155.2 L352.3 155.4 L352.5 155.3 L352.8 155.3 L353.0 155.2 L353.3 155.3 L353.6 155.3 L353.8 155.2 L354.1 155.4 L354.3 155.2 L354.6 155.4 L354.8 155.2 L355.1 155.1 L355.3 155.1 L355.6 155.3 L355.9 155.2 L356.1 155.5 L356.4 155.4 L356.6 155.5 L356.9 155.4 L357.1 155.4 L357.4 155.2 L357.7 155.4 L357.9 155.2 L358.2 155.3 L358.4 155.2 L358.7 155.3 L358.9 155.3 L359.2 155.3 L359.4 155.2 L359.7 155.4 L360.0 155.4 L360.2 155.3 L360.5 155.4 L360.7 155.4 L361.0 155.2 L361.2 155.3 L361.5 155.1 L361.7 155.2 L362.0 155.3 L362.3 155.2 L362.5 155.3 L362.8 155.3 L363.0 155.1 L363.3 155.2 L363.5 155.4 L363.8 155.3 L364.1 155.3 L364.3 155.2 L364.6 155.1 L364.8 155.1 L365.1 155.5 L365.3 155.2 L365.6 155.2 L365.8 155.3 L366.1 155.0 L366.4 155.4 L366.6 155.4 L366.9 155.1 L367.1 155.2 L367.4 155.0 L367.6 155.1 L367.9 154.8 L368.1 154.7 L368.4 154.4 L368.7 153.8 L368.9 153.3 L369.0 153.1 L369.2 153.3 L369.4 154.2 L369.7 154.6 L369.9 154.8 L370.2 155.1 L370.5 155.1 L370.7 155.1 L371.0 155.2 L371.2 155.2 L371.5 155.2 L371.7 155.5 L372.0 155.3 L372.2 155.2 L372.5 155.2 L372.8 155.1 L373.0 155.1 L373.3 155.0 L373.5 155.1 L373.8 155.0 L374.0 154.9 L374.3 155.0 L374.5 154.8 L374.8 154.9 L375.1 154.5 L375.3 153.8 L375.6 153.6 L375.7 153.4 L375.8 153.1 L376.1 153.9 L376.3 154.3 L376.6 154.6 L376.9 154.9 L377.1 155.2 L377.4 155.2 L377.6 155.0 L377.9 155.1 L378.1 155.1 L378.4 155.3 L378.6 155.2 L378.9 155.1 L379.2 155.2 L379.4 155.1 L379.7 155.2 L379.9 155.4 L380.2 155.1 L380.4 155.3 L380.7 155.3 L380.9 155.4 L381.2 155.2 L381.5 155.4 L381.7 155.4 L382.0 155.5 L382.2 155.1 L382.5 155.3 L382.7 155.3 L383.0 155.3 L383.3 155.2 L383.5 155.4 L383.8 155.5 L384.0 155.4 L384.3 155.2 L384.5 155.2 L384.8 155.4 L385.0 155.3 L385.3 155.2 L385.6 155.4 L385.8 155.3 L386.1 155.4 L386.3 155.3 L386.6 155.4 L386.8 155.2 L387.1 155.2 L387.3 155.3 L387.6 155.1 L387.9 155.4 L388.1 155.4 L388.4 155.1 L388.6 155.3 L388.9 155.4 L389.1 155.2 L389.4 155.3 L389.7 155.2 L389.9 155.3 L390.2 155.3 L390.4 155.3 L390.7 155.2 L390.9 155.2 L391.2 155.3 L391.4 155.2 L391.7 155.3 L392.0 155.2 L392.2 155.1 L392.5 155.3 L392.7 155.3 L393.0 155.3 L393.2 155.2 L393.5 155.2 L393.7 155.3 L394.0 155.0 L394.3 155.3 L394.5 155.2 L394.8 155.1 L395.0 155.0 L395.3 154.8 L395.5 154.3 L395.8 153.9 L396.1 153.3 L396.2 153.1 L396.3 153.4 L396.6 153.9 L396.8 154.5 L397.1 154.8 L397.3 155.0 L397.6 155.1 L397.8 155.0 L398.1 155.3 L398.4 155.4 L398.6 155.1 L398.9 155.1 L399.1 155.3 L399.4 155.3 L399.6 155.3 L399.9 155.4 L400.1 155.1 L400.4 155.2 L400.7 155.2 L400.9 155.3 L401.2 155.0 L401.4 155.0 L401.7 154.8 L401.9 154.6 L402.2 154.2 L402.5 153.8 L402.6 153.6 L402.7 153.9 L403.0 154.2 L403.2 154.6 L403.5 154.5 L403.7 155.0 L404.0 155.1 L404.2 155.1 L404.5 155.3 L404.8 155.3 L405.0 155.2 L405.3 155.3 L405.5 155.6 L405.8 155.1 L406.0 155.3 L406.3 155.2 L406.5 155.4 L406.8 155.3 L407.1 155.2 L407.3 155.2 L407.6 155.0 L407.8 154.8 L408.1 154.9 L408.3 154.7 L408.6 154.3 L408.7 154.2 L408.9 154.2 L409.1 154.9 L409.4 154.8 L409.6 155.0 L409.9 155.1 L410.1 155.3 L410.4 155.2 L410.6 155.2 L410.9 155.2 L411.2 155.3 L411.4 155.3 L411.7 155.3 L411.9 155.3 L412.2 155.2 L412.4 155.4 L412.7 155.2 L412.9 155.1 L413.2 155.2 L413.5 155.3 L413.7 155.4 L414.0 155.1 L414.2 155.2 L414.5 155.3 L414.7 155.3 L415.0 155.2 L415.3 155.2 L415.5 155.3 L415.8 155.3 L416.0 155.1 L416.3 155.2 L416.5 155.4 L416.8 155.2 L417.0 155.4 L417.3 155.1 L417.6 155.4 L417.8 155.5 L418.1 155.2 L418.3 155.2 L418.6 155.4 L418.8 155.2 L419.1 155.3 L419.3 155.4 L419.6 155.3 L419.9 155.3 L420.1 155.3 L420.4 155.4 L420.6 155.2 L420.9 155.5 L421.1 155.3 L421.4 155.3 L421.7 155.1 L421.9 155.2 L422.2 155.3 L422.4 155.4 L422.7 155.1 L422.9 155.3 L423.2 155.2 L423.4 155.2 L423.7 155.3 L424.0 155.2 L424.2 155.4 L424.5 155.0 L424.7 155.4 L425.0 155.1 L425.2 155.1 L425.5 155.3 L425.7 155.2 L426.0 155.3 L426.3 155.2 L426.5 155.1 L426.8 155.1 L427.0 155.2 L427.3 155.1 L427.5 155.0 L427.8 154.8 L428.1 154.7 L428.3 154.3 L428.5 154.1 L428.6 154.0 L428.8 154.5 L429.1 154.8 L429.3 155.1 L429.6 155.0 L429.8 155.1 L430.1 155.1 L430.4 155.3 L430.6 155.2 L430.9 155.4 L431.1 155.3 L431.4 155.2 L431.6 155.1 L431.9 155.2 L432.1 155.4 L432.4 155.2 L432.7 155.4 L432.9 155.1 L433.2 155.4 L433.4 155.6 L433.7 155.4 L433.9 155.3 L434.2 155.2 L434.5 155.2 L434.7 155.2 L435.0 155.3 L435.2 155.1 L435.5 155.2 L435.7 155.4 L436.0 155.3 L436.2 155.4 L436.5 155.4" fill="none" stroke="#24249e" stroke-width="1.05" stroke-linejoin="round"/><path d="M52.5 206.1 L52.8 206.3 L53.0 206.5 L53.3 206.3 L53.5 206.2 L53.8 206.5 L54.0 206.3 L54.3 206.3 L54.5 206.3 L54.8 206.3 L55.1 206.1 L55.3 206.2 L55.6 206.2 L55.8 206.4 L56.1 206.3 L56.3 206.4 L56.6 206.1 L56.9 206.2 L57.1 206.4 L57.4 206.2 L57.6 206.1 L57.9 206.2 L58.1 206.3 L58.4 206.3 L58.6 206.4 L58.9 206.4 L59.2 206.4 L59.4 206.4 L59.7 206.2 L59.9 206.2 L60.2 206.1 L60.4 206.4 L60.7 206.4 L60.9 206.3 L61.2 206.2 L61.5 206.4 L61.7 206.3 L62.0 206.3 L62.2 206.2 L62.5 206.3 L62.7 206.2 L63.0 206.4 L63.3 206.3 L63.5 206.3 L63.8 206.2 L64.0 206.4 L64.3 206.4 L64.5 206.4 L64.8 206.4 L65.0 206.3 L65.3 206.3 L65.6 206.2 L65.8 206.1 L66.1 206.2 L66.3 206.3 L66.6 206.4 L66.8 206.3 L67.1 206.3 L67.3 206.4 L67.6 206.2 L67.9 206.1 L68.1 206.1 L68.4 206.2 L68.6 206.3 L68.9 206.3 L69.1 206.2 L69.4 206.3 L69.7 206.2 L69.9 206.2 L70.2 206.2 L70.4 206.3 L70.7 206.3 L70.9 206.1 L71.2 206.1 L71.4 206.2 L71.7 206.4 L72.0 206.1 L72.2 206.1 L72.5 206.2 L72.7 206.2 L73.0 206.1 L73.2 206.2 L73.5 206.2 L73.7 206.0 L74.0 206.1 L74.3 206.2 L74.5 206.2 L74.8 206.2 L75.0 206.0 L75.3 205.8 L75.5 206.1 L75.8 206.0 L76.1 205.7 L76.3 205.8 L76.6 205.6 L76.8 205.3 L77.1 204.8 L77.3 204.6 L77.6 203.7 L77.8 202.2 L78.1 199.6 L78.4 195.5 L78.6 191.8 L78.7 191.3 L78.9 191.6 L79.1 195.7 L79.4 199.5 L79.6 202.3 L79.9 203.8 L80.1 204.7 L80.4 205.0 L80.7 205.4 L80.9 205.5 L81.2 205.7 L81.4 205.8 L81.7 206.0 L81.9 205.8 L82.2 205.8 L82.5 206.1 L82.7 206.1 L83.0 206.2 L83.2 206.0 L83.5 206.1 L83.7 206.2 L84.0 206.3 L84.2 206.1 L84.5 206.1 L84.8 206.2 L85.0 206.2 L85.3 206.1 L85.5 206.3 L85.8 206.0 L86.0 206.1 L86.3 206.3 L86.5 206.1 L86.8 206.2 L87.1 206.2 L87.3 206.3 L87.6 206.2 L87.8 206.1 L88.1 206.1 L88.3 206.2 L88.6 206.1 L88.9 206.0 L89.1 206.2 L89.4 206.2 L89.6 206.2 L89.9 205.8 L90.1 205.8 L90.4 205.6 L90.6 205.5 L90.9 204.9 L91.2 204.2 L91.4 202.4 L91.7 201.2 L91.9 200.5 L91.9 200.6 L92.2 201.9 L92.4 203.5 L92.7 204.5 L92.9 205.4 L93.2 205.6 L93.5 205.7 L93.7 205.9 L94.0 205.9 L94.2 205.9 L94.5 206.1 L94.7 206.2 L95.0 206.1 L95.3 206.1 L95.5 206.0 L95.8 206.0 L96.0 206.4 L96.3 206.2 L96.5 206.1 L96.8 206.3 L97.0 206.3 L97.3 206.2 L97.6 206.2 L97.8 206.3 L98.1 206.3 L98.3 206.4 L98.6 206.3 L98.8 206.2 L99.1 206.2 L99.3 206.2 L99.6 206.3 L99.9 206.3 L100.1 206.3 L100.4 206.3 L100.6 206.1 L100.9 206.2 L101.1 206.0 L101.4 206.1 L101.7 205.8 L101.9 205.7 L102.2 205.4 L102.4 205.2 L102.7 205.4 L102.9 205.9 L103.2 205.9 L103.4 205.9 L103.7 206.1 L104.0 206.2 L104.2 206.2 L104.5 206.2 L104.7 206.4 L105.0 206.3 L105.2 206.2 L105.5 206.4 L105.7 206.1 L106.0 206.2 L106.3 206.1 L106.5 206.2 L106.8 206.4 L107.0 206.2 L107.3 206.4 L107.5 206.1 L107.8 206.3 L108.1 206.0 L108.3 206.1 L108.6 206.2 L108.8 206.1 L109.1 206.0 L109.3 205.9 L109.6 205.6 L109.8 205.3 L110.1 205.0 L110.4 205.2 L110.6 205.6 L110.9 205.7 L111.1 206.0 L111.4 206.2 L111.6 205.9 L111.9 206.0 L112.1 206.0 L112.4 206.0 L112.7 205.9 L112.9 205.7 L113.2 205.5 L113.4 205.1 L113.7 204.6 L113.9 204.4 L114.2 204.6 L114.5 205.0 L114.7 205.4 L115.0 205.8 L115.2 205.8 L115.5 205.9 L115.7 205.8 L116.0 205.9 L116.2 205.9 L116.5 205.8 L116.8 205.8 L117.0 205.9 L117.3 205.8 L117.5 205.6 L117.8 205.4 L118.0 205.0 L118.3 204.8 L118.5 204.2 L118.8 202.8 L119.1 200.4 L119.3 196.8 L119.6 193.3 L119.7 192.7 L119.8 193.4 L120.1 196.7 L120.3 200.5 L120.6 202.7 L120.9 204.0 L121.1 204.8 L121.4 205.0 L121.6 205.4 L121.9 205.6 L122.1 206.0 L122.4 205.7 L122.6 206.0 L122.9 206.0 L123.2 206.0 L123.4 206.1 L123.7 205.9 L123.9 206.2 L124.2 206.3 L124.4 206.1 L124.7 206.1 L124.9 206.1 L125.2 206.2 L125.5 206.1 L125.7 206.2 L126.0 206.2 L126.2 206.1 L126.5 206.2 L126.7 206.2 L127.0 206.2 L127.3 206.1 L127.5 206.1 L127.8 206.1 L128.0 206.3 L128.3 206.2 L128.5 206.0 L128.8 206.0 L129.0 206.3 L129.3 206.2 L129.6 206.0 L129.8 206.1 L130.1 206.2 L130.3 206.3 L130.6 206.3 L130.8 206.1 L131.1 206.1 L131.3 206.3 L131.6 206.0 L131.9 206.2 L132.1 206.0 L132.4 206.0 L132.6 206.1 L132.9 205.9 L133.1 205.7 L133.4 205.6 L133.7 205.6 L133.9 205.6 L134.2 205.5 L134.4 204.8 L134.7 204.9 L134.9 204.2 L135.2 203.3 L135.4 201.4 L135.7 198.1 L136.0 193.4 L136.2 188.8 L136.3 187.8 L136.5 188.7 L136.7 193.2 L137.0 197.8 L137.2 200.8 L137.5 202.4 L137.7 203.1 L138.0 202.8 L138.3 202.0 L138.5 201.2 L138.6 201.4 L138.8 201.8 L139.0 202.9 L139.3 204.3 L139.5 204.7 L139.8 205.5 L140.1 205.6 L140.3 205.6 L140.6 205.6 L140.8 205.8 L141.1 206.1 L141.3 206.1 L141.6 206.0 L141.8 205.9 L142.1 206.0 L142.4 206.0 L142.6 206.1 L142.9 206.1 L143.1 206.1 L143.4 205.9 L143.6 206.0 L143.9 206.1 L144.1 205.8 L144.4 205.8 L144.7 205.7 L144.9 205.4 L145.0 205.2 L145.2 205.5 L145.4 205.4 L145.7 205.9 L145.9 205.9 L146.2 206.2 L146.5 206.2 L146.7 206.1 L147.0 206.3 L147.2 206.2 L147.5 206.1 L147.7 206.0 L148.0 206.4 L148.2 206.1 L148.5 206.2 L148.8 206.1 L149.0 206.0 L149.3 205.9 L149.5 206.0 L149.8 206.0 L150.0 206.1 L150.3 205.9 L150.5 205.7 L150.8 205.6 L151.1 205.5 L151.3 205.3 L151.6 204.8 L151.8 203.7 L152.1 202.1 L152.3 199.7 L152.6 198.1 L152.7 197.8 L152.9 198.6 L153.1 201.0 L153.4 203.1 L153.6 204.2 L153.9 205.0 L154.1 205.4 L154.4 205.4 L154.6 205.9 L154.9 206.0 L155.2 205.9 L155.4 206.3 L155.7 206.2 L155.9 206.3 L156.2 206.2 L156.4 206.2 L156.7 206.0 L156.9 206.3 L157.2 206.2 L157.5 206.0 L157.7 206.2 L158.0 206.2 L158.2 206.3 L158.5 206.2 L158.7 206.1 L159.0 206.2 L159.3 206.1 L159.5 206.1 L159.8 206.1 L160.0 205.9 L160.3 205.9 L160.5 205.4 L160.8 205.3 L161.0 205.2 L161.0 205.3 L161.3 205.6 L161.6 205.7 L161.8 206.0 L162.1 206.0 L162.3 206.1 L162.6 206.2 L162.8 206.1 L163.1 206.2 L163.3 206.3 L163.6 206.1 L163.9 206.3 L164.1 206.0 L164.4 206.1 L164.6 206.0 L164.9 206.1 L165.1 206.3 L165.4 206.2 L165.7 206.2 L165.9 206.0 L166.2 206.0 L166.4 206.1 L166.7 206.1 L166.9 206.1 L167.2 205.9 L167.4 206.0 L167.7 206.0 L168.0 206.0 L168.2 205.9 L168.5 205.8 L168.7 205.6 L169.0 205.6 L169.2 205.5 L169.5 205.4 L169.7 205.4 L170.0 205.4 L170.3 204.9 L170.5 204.6 L170.8 204.0 L171.0 203.1 L171.3 201.7 L171.5 198.9 L171.8 194.9 L172.1 190.8 L172.2 190.0 L172.3 190.2 L172.6 193.2 L172.8 195.2 L173.1 195.0 L173.3 191.6 L173.6 187.3 L173.8 185.8 L173.8 186.1 L174.1 190.6 L174.4 196.0 L174.6 199.8 L174.9 202.3 L175.1 203.4 L175.4 204.2 L175.6 204.7 L175.9 205.0 L176.1 205.3 L176.4 205.1 L176.7 205.4 L176.9 205.6 L177.2 205.5 L177.4 205.5 L177.7 205.4 L177.9 204.8 L178.2 204.4 L178.5 204.0 L178.6 203.7 L178.7 203.7 L179.0 204.4 L179.2 205.1 L179.5 205.5 L179.7 205.9 L180.0 205.9 L180.2 205.7 L180.5 206.0 L180.8 206.1 L181.0 206.2 L181.3 206.0 L181.5 206.0 L181.8 206.0 L182.0 206.2 L182.3 206.1 L182.5 206.2 L182.8 206.1 L183.1 205.9 L183.3 205.8 L183.6 206.1 L183.8 205.7 L184.1 205.7 L184.3 205.5 L184.6 205.1 L184.9 204.5 L185.1 203.4 L185.4 202.3 L185.6 201.3 L185.9 202.0 L186.1 203.4 L186.4 204.6 L186.6 205.1 L186.9 205.5 L187.2 205.6 L187.4 205.9 L187.7 206.0 L187.9 206.1 L188.2 205.9 L188.4 206.2 L188.7 206.1 L188.9 206.0 L189.2 206.0 L189.5 206.1 L189.7 206.0 L190.0 206.2 L190.2 206.0 L190.5 206.0 L190.7 206.1 L191.0 206.1 L191.3 206.0 L191.5 206.1 L191.8 206.0 L192.0 206.2 L192.3 206.1 L192.5 205.9 L192.8 206.0 L193.0 206.1 L193.3 205.9 L193.6 206.1 L193.8 205.9 L194.1 205.9 L194.3 205.5 L194.6 205.7 L194.8 205.6 L195.1 205.4 L195.3 205.2 L195.6 205.0 L195.9 204.5 L196.1 204.2 L196.4 203.3 L196.6 201.7 L196.9 199.0 L197.1 194.4 L197.4 187.3 L197.7 180.3 L197.8 179.1 L197.9 180.6 L198.2 187.3 L198.4 194.6 L198.7 198.9 L198.9 201.8 L199.2 203.2 L199.4 204.1 L199.7 204.7 L200.0 205.1 L200.2 205.1 L200.5 205.5 L200.7 205.4 L201.0 205.6 L201.2 205.7 L201.5 205.8 L201.7 205.8 L202.0 206.0 L202.3 205.9 L202.5 205.9 L202.8 205.9 L203.0 205.9 L203.3 206.1 L203.5 206.1 L203.8 206.1 L204.1 206.2 L204.3 206.0 L204.6 206.0 L204.8 206.1 L205.1 206.2 L205.3 206.1 L205.6 206.2 L205.8 206.1 L206.1 205.9 L206.4 206.0 L206.6 205.9 L206.9 206.0 L207.1 206.0 L207.4 206.1 L207.6 206.0 L207.9 206.0 L208.1 206.1 L208.4 206.0 L208.7 205.8 L208.9 205.8 L209.2 205.8 L209.4 205.8 L209.7 205.5 L209.9 205.4 L210.2 205.3 L210.5 205.1 L210.7 204.6 L211.0 204.1 L211.2 203.2 L211.5 201.5 L211.7 198.4 L212.0 193.6 L212.2 187.1 L212.5 183.7 L212.8 187.2 L213.0 193.6 L213.3 198.2 L213.5 201.4 L213.8 203.1 L214.0 204.1 L214.3 204.7 L214.5 205.3 L214.8 205.4 L215.1 205.6 L215.3 205.6 L215.6 205.6 L215.8 205.8 L216.1 205.6 L216.3 206.0 L216.6 205.9 L216.9 206.0 L217.1 205.9 L217.4 205.9 L217.6 206.0 L217.9 206.1 L218.1 206.1 L218.4 206.1 L218.6 206.2 L218.9 206.2 L219.2 206.0 L219.4 206.1 L219.7 206.0 L219.9 206.1 L220.2 206.2 L220.4 206.1 L220.7 206.3 L220.9 206.2 L221.2 206.3 L221.5 206.2 L221.7 206.3 L222.0 206.3 L222.2 206.2 L222.5 206.1 L222.7 206.1 L223.0 206.3 L223.3 206.1 L223.5 206.1 L223.8 206.0 L224.0 205.9 L224.3 206.0 L224.5 206.1 L224.8 206.0 L225.0 205.9 L225.3 206.0 L225.6 205.9 L225.8 205.8 L226.1 205.7 L226.3 205.5 L226.6 205.4 L226.8 204.9 L227.1 204.3 L227.3 203.1 L227.6 201.0 L227.9 198.1 L228.1 196.2 L228.2 196.0 L228.4 196.7 L228.6 199.7 L228.9 202.1 L229.1 203.8 L229.4 204.6 L229.7 205.2 L229.9 205.5 L230.2 205.8 L230.4 205.8 L230.7 205.7 L230.9 205.9 L231.2 205.8 L231.4 205.8 L231.7 205.7 L232.0 205.4 L232.2 205.3 L232.5 204.6 L232.7 204.1 L233.0 203.8 L233.2 204.1 L233.5 204.7 L233.7 205.3 L234.0 205.8 L234.3 206.0 L234.5 206.2 L234.8 205.9 L235.0 206.2 L235.3 206.1 L235.5 206.2 L235.8 206.0 L236.1 206.2 L236.3 206.3 L236.6 206.2 L236.8 206.2 L237.1 206.1 L237.3 206.3 L237.6 206.1 L237.8 206.2 L238.1 206.2 L238.4 206.2 L238.6 206.5 L238.9 206.3 L239.1 206.2 L239.4 206.3 L239.6 206.3 L239.9 206.3 L240.1 206.3 L240.4 206.3 L240.7 206.2 L240.9 206.2 L241.2 206.2 L241.4 206.2 L241.7 206.3 L241.9 206.5 L242.2 206.4 L242.5 206.3 L242.7 206.3 L243.0 206.2 L243.2 206.2 L243.5 206.3 L243.7 206.1 L244.0 206.3 L244.2 206.3 L244.5 206.4 L244.8 206.3 L245.0 206.3 L245.3 206.2 L245.5 206.1 L245.8 206.3 L246.0 206.4 L246.3 206.4 L246.5 206.4 L246.8 206.2 L247.1 206.2 L247.3 206.4 L247.6 206.2 L247.8 206.5 L248.1 206.3 L248.3 206.1 L248.6 206.2 L248.9 206.4 L249.1 206.1 L249.4 206.3 L249.6 206.2 L249.9 206.4 L250.1 206.2 L250.4 206.2 L250.6 206.1 L250.9 206.2 L251.2 206.0 L251.4 206.2 L251.7 206.5 L251.9 206.3 L252.2 206.3 L252.4 206.2 L252.7 206.3 L252.9 206.2 L253.2 206.2 L253.5 206.4 L253.7 206.3 L254.0 206.2 L254.2 206.4 L254.5 206.3 L254.7 206.3 L255.0 206.3 L255.3 206.4 L255.5 206.3 L255.8 206.2 L256.0 206.3 L256.3 206.2 L256.5 206.3 L256.8 206.4 L257.0 206.2 L257.3 206.2 L257.6 206.2 L257.8 206.2 L258.1 206.4 L258.3 206.1 L258.6 206.5 L258.8 206.4 L259.1 206.2 L259.3 206.2 L259.6 206.2 L259.9 206.2 L260.1 206.2 L260.4 206.2 L260.6 206.1 L260.9 206.1 L261.1 205.7 L261.4 205.3 L261.7 204.6 L261.9 203.9 L262.1 203.7 L262.2 203.7 L262.4 204.3 L262.7 204.9 L262.9 205.5 L263.2 205.7 L263.4 205.8 L263.7 206.0 L264.0 206.0 L264.2 206.1 L264.5 206.0 L264.7 206.1 L265.0 206.1 L265.2 206.1 L265.5 206.2 L265.7 206.3 L266.0 206.2 L266.3 206.1 L266.5 206.1 L266.8 206.3 L267.0 206.0 L267.3 206.2 L267.5 205.9 L267.8 206.0 L268.1 206.0 L268.3 205.9 L268.6 205.9 L268.8 205.5 L269.1 204.9 L269.3 204.1 L269.6 203.0 L269.8 202.6 L269.8 202.8 L270.1 203.6 L270.4 204.6 L270.6 205.1 L270.9 205.8 L271.1 205.8 L271.4 206.0 L271.6 206.1 L271.9 206.3 L272.1 205.9 L272.4 206.0 L272.7 206.2 L272.9 206.2 L273.2 206.1 L273.4 205.8 L273.7 206.2 L273.9 206.1 L274.2 205.8 L274.5 206.3 L274.7 205.8 L275.0 205.9 L275.2 205.9 L275.5 205.8 L275.7 205.5 L276.0 205.0 L276.2 204.1 L276.5 203.0 L276.8 201.9 L276.8 202.0 L277.0 202.7 L277.3 203.6 L277.5 204.6 L277.8 205.4 L278.0 205.7 L278.3 205.8 L278.5 206.0 L278.8 205.9 L279.1 205.9 L279.3 206.1 L279.6 206.1 L279.8 206.2 L280.1 206.0 L280.3 206.0 L280.6 206.1 L280.9 206.0 L281.1 206.0 L281.4 205.9 L281.6 206.0 L281.9 205.9 L282.1 206.0 L282.4 205.7 L282.6 205.3 L282.9 205.2 L283.2 204.8 L283.4 203.5 L283.7 201.8 L283.9 199.6 L284.2 198.1 L284.4 199.6 L284.7 201.8 L284.9 203.4 L285.2 204.7 L285.5 205.1 L285.7 205.3 L286.0 205.6 L286.2 205.9 L286.5 206.1 L286.7 206.1 L287.0 206.0 L287.3 206.0 L287.5 206.0 L287.8 206.2 L288.0 206.1 L288.3 206.2 L288.5 206.2 L288.8 206.0 L289.0 206.1 L289.3 206.2 L289.6 206.1 L289.8 206.1 L290.1 206.0 L290.3 206.0 L290.6 206.1 L290.8 206.0 L291.1 205.6 L291.3 205.5 L291.6 205.0 L291.9 204.2 L292.1 202.8 L292.4 201.8 L292.5 201.6 L292.6 201.7 L292.9 203.0 L293.1 204.0 L293.4 204.9 L293.7 205.5 L293.9 205.8 L294.2 205.9 L294.4 205.9 L294.7 206.1 L294.9 206.2 L295.2 206.2 L295.4 206.1 L295.7 206.1 L296.0 206.3 L296.2 206.3 L296.5 206.3 L296.7 206.2 L297.0 206.1 L297.2 206.3 L297.5 206.2 L297.7 206.4 L298.0 206.3 L298.3 206.0 L298.5 206.3 L298.8 206.4 L299.0 206.4 L299.3 206.2 L299.5 206.2 L299.8 206.4 L300.1 206.4 L300.3 206.3 L300.6 206.2 L300.8 206.1 L301.1 206.3 L301.3 206.2 L301.6 206.2 L301.8 206.3 L302.1 206.4 L302.4 206.1 L302.6 206.2 L302.9 206.4 L303.1 206.3 L303.4 206.2 L303.6 206.3 L303.9 206.2 L304.1 206.2 L304.4 206.3 L304.7 206.4 L304.9 206.4 L305.2 206.3 L305.4 206.4 L305.7 206.2 L305.9 206.1 L306.2 206.1 L306.5 206.3 L306.7 206.3 L307.0 206.3 L307.2 206.2 L307.5 206.1 L307.7 206.1 L308.0 205.8 L308.2 205.5 L308.5 205.6 L308.8 205.6 L309.0 205.9 L309.3 206.0 L309.5 206.2 L309.8 206.2 L310.0 206.3 L310.3 206.3 L310.5 206.2 L310.8 206.2 L311.1 206.3 L311.3 206.2 L311.6 206.4 L311.8 206.3 L312.1 206.2 L312.3 206.2 L312.6 206.3 L312.9 206.5 L313.1 206.4 L313.4 206.3 L313.6 206.2 L313.9 206.5 L314.1 206.3 L314.4 206.3 L314.6 206.3 L314.9 206.4 L315.2 206.3 L315.4 206.2 L315.7 206.3 L315.9 206.2 L316.2 206.2 L316.4 206.3 L316.7 206.0 L316.9 206.4 L317.2 206.5 L317.5 206.2 L317.7 206.3 L318.0 206.1 L318.2 206.3 L318.5 206.3 L318.7 206.4 L319.0 206.2 L319.3 206.2 L319.5 206.2 L319.8 206.3 L320.0 206.5 L320.3 206.3 L320.5 206.3 L320.8 206.2 L321.0 206.4 L321.3 206.5 L321.6 206.4 L321.8 206.4 L322.1 206.2 L322.3 206.4 L322.6 206.3 L322.8 206.4 L323.1 206.4 L323.3 206.4 L323.6 206.1 L323.9 206.3 L324.1 206.2 L324.4 206.3 L324.6 206.3 L324.9 206.4 L325.1 206.1 L325.4 206.2 L325.7 206.3 L325.9 206.3 L326.2 206.2 L326.4 206.3 L326.7 206.3 L326.9 206.4 L327.2 206.3 L327.4 206.3 L327.7 206.1 L328.0 206.0 L328.2 206.1 L328.5 206.3 L328.7 206.0 L329.0 206.3 L329.2 206.2 L329.5 206.2 L329.7 206.1 L330.0 206.1 L330.3 206.2 L330.5 206.0 L330.8 205.8 L331.0 205.4 L331.3 205.1 L331.5 204.9 L331.8 205.0 L332.1 205.4 L332.3 205.6 L332.6 206.0 L332.8 206.0 L333.1 206.0 L333.3 206.2 L333.6 206.1 L333.8 205.9 L334.1 206.0 L334.4 206.3 L334.6 206.0 L334.9 205.8 L335.1 205.6 L335.4 205.5 L335.6 204.9 L335.9 204.4 L336.0 204.3 L336.1 204.4 L336.4 205.0 L336.7 205.4 L336.9 205.7 L337.2 205.8 L337.4 206.1 L337.7 206.2 L337.9 206.2 L338.2 206.0 L338.5 206.2 L338.7 206.3 L339.0 206.1 L339.2 206.2 L339.5 206.3 L339.7 206.3 L340.0 206.0 L340.2 206.0 L340.5 206.2 L340.8 206.2 L341.0 206.0 L341.3 206.0 L341.5 205.9 L341.8 206.0 L342.0 205.5 L342.3 205.6 L342.5 205.1 L342.8 204.5 L343.1 203.3 L343.3 201.7 L343.6 200.2 L343.7 199.9 L343.8 200.4 L344.1 201.8 L344.3 203.5 L344.6 204.6 L344.9 205.3 L345.1 205.7 L345.4 205.8 L345.6 205.9 L345.9 206.0 L346.1 206.0 L346.4 206.1 L346.6 206.2 L346.9 206.1 L347.2 206.2 L347.4 206.2 L347.7 206.3 L347.9 206.2 L348.2 206.3 L348.4 206.2 L348.7 206.3 L348.9 206.4 L349.2 206.3 L349.5 206.2 L349.7 206.1 L350.0 206.3 L350.2 206.3 L350.5 206.4 L350.7 206.2 L351.0 206.3 L351.3 206.4 L351.5 206.3 L351.8 206.2 L352.0 206.1 L352.3 206.3 L352.5 206.3 L352.8 206.3 L353.0 206.2 L353.3 206.2 L353.6 206.2 L353.8 206.2 L354.1 206.3 L354.3 206.3 L354.6 206.5 L354.8 206.3 L355.1 206.4 L355.3 206.1 L355.6 206.4 L355.9 206.4 L356.1 206.3 L356.4 206.4 L356.6 206.3 L356.9 206.5 L357.1 206.4 L357.4 206.1 L357.7 206.1 L357.9 206.4 L358.2 206.3 L358.4 206.4 L358.7 206.3 L358.9 206.2 L359.2 206.3 L359.4 206.3 L359.7 206.3 L360.0 206.2 L360.2 206.3 L360.5 206.3 L360.7 206.2 L361.0 206.2 L361.2 206.1 L361.5 206.3 L361.7 206.3 L362.0 206.2 L362.3 206.2 L362.5 206.3 L362.8 206.3 L363.0 206.3 L363.3 206.4 L363.5 206.3 L363.8 206.4 L364.1 206.2 L364.3 206.3 L364.6 206.3 L364.8 206.2 L365.1 206.2 L365.3 206.3 L365.6 206.3 L365.8 206.1 L366.1 206.2 L366.4 206.4 L366.6 206.3 L366.9 206.2 L367.1 206.3 L367.4 206.1 L367.6 206.1 L367.9 206.0 L368.1 205.7 L368.4 205.3 L368.7 205.4 L368.9 205.6 L369.2 205.5 L369.4 206.0 L369.7 206.0 L369.9 206.1 L370.2 206.1 L370.5 206.5 L370.7 206.2 L371.0 206.2 L371.2 206.2 L371.5 206.2 L371.7 206.2 L372.0 206.3 L372.2 206.4 L372.5 206.3 L372.8 206.4 L373.0 206.1 L373.3 206.2 L373.5 206.2 L373.8 206.0 L374.0 206.5 L374.3 206.1 L374.5 206.1 L374.8 205.8 L375.1 205.6 L375.3 205.1 L375.6 205.0 L375.7 204.8 L375.8 204.9 L376.1 205.3 L376.3 205.5 L376.6 205.9 L376.9 206.0 L377.1 206.2 L377.4 206.1 L377.6 206.2 L377.9 206.3 L378.1 206.3 L378.4 206.2 L378.6 206.4 L378.9 206.2 L379.2 206.2 L379.4 206.3 L379.7 206.3 L379.9 206.0 L380.2 206.2 L380.4 206.3 L380.7 206.4 L380.9 206.2 L381.2 206.4 L381.5 206.1 L381.7 206.3 L382.0 206.3 L382.2 206.3 L382.5 206.3 L382.7 206.4 L383.0 206.2 L383.3 206.3 L383.5 206.4 L383.8 206.3 L384.0 206.1 L384.3 206.2 L384.5 206.2 L384.8 206.2 L385.0 206.3 L385.3 206.2 L385.6 206.5 L385.8 206.3 L386.1 206.2 L386.3 206.3 L386.6 206.4 L386.8 206.4 L387.1 206.2 L387.3 206.4 L387.6 206.2 L387.9 206.5 L388.1 206.2 L388.4 206.4 L388.6 206.3 L388.9 206.2 L389.1 206.3 L389.4 206.4 L389.7 206.3 L389.9 206.3 L390.2 206.3 L390.4 206.5 L390.7 206.4 L390.9 206.3 L391.2 206.3 L391.4 206.1 L391.7 206.3 L392.0 206.2 L392.2 206.4 L392.5 206.2 L392.7 206.3 L393.0 206.2 L393.2 206.4 L393.5 206.2 L393.7 206.3 L394.0 206.3 L394.3 206.2 L394.5 206.3 L394.8 206.3 L395.0 206.4 L395.3 206.0 L395.5 206.1 L395.8 206.2 L396.1 206.0 L396.3 205.7 L396.6 205.5 L396.8 205.3 L397.1 205.7 L397.3 205.7 L397.6 205.8 L397.8 205.9 L398.1 206.0 L398.4 206.3 L398.6 206.2 L398.9 206.4 L399.1 206.3 L399.4 206.3 L399.6 206.3 L399.9 206.3 L400.1 206.3 L400.4 206.1 L400.7 206.2 L400.9 206.1 L401.2 206.2 L401.4 206.1 L401.7 205.9 L401.9 205.8 L402.2 205.8 L402.5 205.6 L402.6 205.2 L402.7 205.4 L403.0 205.6 L403.2 205.8 L403.5 206.1 L403.7 206.1 L404.0 206.3 L404.2 206.3 L404.5 206.2 L404.8 206.0 L405.0 206.2 L405.3 206.3 L405.5 206.2 L405.8 206.3 L406.0 206.3 L406.3 206.1 L406.5 206.2 L406.8 206.3 L407.1 206.3 L407.3 206.2 L407.6 206.2 L407.8 206.1 L408.1 206.0 L408.3 205.9 L408.6 205.7 L408.7 205.9 L408.9 205.8 L409.1 206.0 L409.4 206.1 L409.6 206.2 L409.9 206.2 L410.1 206.3 L410.4 206.3 L410.6 206.4 L410.9 206.3 L411.2 206.3 L411.4 206.3 L411.7 206.2 L411.9 206.3 L412.2 206.4 L412.4 206.4 L412.7 206.2 L412.9 206.3 L413.2 206.4 L413.5 206.2 L413.7 206.3 L414.0 206.3 L414.2 206.4 L414.5 206.3 L414.7 206.1 L415.0 206.1 L415.3 206.5 L415.5 206.3 L415.8 206.4 L416.0 206.4 L416.3 206.3 L416.5 206.2 L416.8 206.4 L417.0 206.3 L417.3 206.3 L417.6 206.3 L417.8 206.4 L418.1 206.4 L418.3 206.2 L418.6 206.2 L418.8 206.3 L419.1 206.3 L419.3 206.4 L419.6 206.3 L419.9 206.3 L420.1 206.5 L420.4 206.4 L420.6 206.4 L420.9 206.4 L421.1 206.2 L421.4 206.3 L421.7 206.3 L421.9 206.2 L422.2 206.2 L422.4 206.3 L422.7 206.2 L422.9 206.3 L423.2 206.3 L423.4 206.3 L423.7 206.3 L424.0 206.3 L424.2 206.3 L424.5 206.3 L424.7 206.2 L425.0 206.1 L425.2 206.5 L425.5 206.2 L425.7 206.2 L426.0 206.1 L426.3 206.2 L426.5 206.2 L426.8 206.3 L427.0 206.0 L427.3 206.1 L427.5 206.1 L427.8 206.0 L428.1 205.9 L428.3 205.7 L428.6 205.3 L428.8 205.3 L429.1 205.6 L429.3 205.8 L429.6 205.9 L429.8 206.2 L430.1 206.2 L430.4 206.1 L430.6 206.2 L430.9 206.2 L431.1 206.3 L431.4 206.4 L431.6 206.2 L431.9 206.3 L432.1 206.3 L432.4 206.2 L432.7 206.2 L432.9 206.3 L433.2 206.4 L433.4 206.1 L433.7 206.4 L433.9 206.3 L434.2 206.4 L434.5 206.4 L434.7 206.5 L435.0 206.3 L435.2 206.3 L435.5 206.2 L435.7 206.2 L436.0 206.3 L436.2 206.3 L436.5 206.4" fill="none" stroke="#169416" stroke-width="1.05" stroke-linejoin="round"/><path d="M52.5 257.4 L52.8 257.4 L53.0 257.7 L53.3 257.6 L53.5 257.4 L53.8 257.5 L54.0 257.4 L54.3 257.6 L54.5 257.5 L54.8 257.3 L55.1 257.5 L55.3 257.6 L55.6 257.5 L55.8 257.5 L56.1 257.5 L56.3 257.5 L56.6 257.5 L56.9 257.4 L57.1 257.5 L57.4 257.5 L57.6 257.5 L57.9 257.4 L58.1 257.4 L58.4 257.5 L58.6 257.6 L58.9 257.3 L59.2 257.4 L59.4 257.6 L59.7 257.6 L59.9 257.4 L60.2 257.6 L60.4 257.4 L60.7 257.4 L60.9 257.7 L61.2 257.4 L61.5 257.5 L61.7 257.3 L62.0 257.4 L62.2 257.4 L62.5 257.5 L62.7 257.3 L63.0 257.6 L63.3 257.5 L63.5 257.4 L63.8 257.4 L64.0 257.6 L64.3 257.6 L64.5 257.4 L64.8 257.6 L65.0 257.6 L65.3 257.6 L65.6 257.5 L65.8 257.3 L66.1 257.5 L66.3 257.4 L66.6 257.5 L66.8 257.3 L67.1 257.5 L67.3 257.5 L67.6 257.4 L67.9 257.5 L68.1 257.6 L68.4 257.5 L68.6 257.4 L68.9 257.7 L69.1 257.3 L69.4 257.4 L69.7 257.5 L69.9 257.4 L70.2 257.2 L70.4 257.5 L70.7 257.5 L70.9 257.4 L71.2 257.6 L71.4 257.5 L71.7 257.6 L72.0 257.3 L72.2 257.4 L72.5 257.6 L72.7 257.6 L73.0 257.5 L73.2 257.4 L73.5 257.4 L73.7 257.3 L74.0 257.5 L74.3 257.3 L74.5 257.4 L74.8 257.1 L75.0 257.2 L75.3 257.5 L75.5 257.2 L75.8 257.2 L76.1 256.9 L76.3 257.1 L76.6 257.2 L76.8 256.7 L77.1 256.4 L77.3 256.3 L77.6 255.7 L77.8 254.6 L78.1 252.4 L78.4 249.2 L78.6 246.0 L78.7 245.6 L78.9 246.1 L79.1 249.4 L79.4 252.5 L79.6 254.7 L79.9 255.7 L80.1 256.3 L80.4 256.7 L80.7 256.8 L80.9 256.9 L81.2 256.9 L81.4 257.1 L81.7 257.3 L81.9 257.2 L82.2 257.3 L82.5 257.1 L82.7 257.2 L83.0 257.4 L83.2 257.5 L83.5 257.3 L83.7 257.2 L84.0 257.4 L84.2 257.2 L84.5 257.4 L84.8 257.6 L85.0 257.4 L85.3 257.4 L85.5 257.5 L85.8 257.4 L86.0 257.5 L86.3 257.4 L86.5 257.5 L86.8 257.3 L87.1 257.5 L87.3 257.5 L87.6 257.2 L87.8 257.2 L88.1 257.3 L88.3 257.6 L88.6 257.4 L88.9 257.5 L89.1 257.4 L89.4 257.5 L89.6 257.3 L89.9 257.3 L90.1 257.4 L90.4 257.3 L90.6 257.3 L90.9 257.2 L91.2 257.0 L91.4 257.1 L91.7 256.7 L91.9 256.3 L92.2 255.1 L92.4 254.0 L92.7 252.2 L92.8 252.2 L92.9 252.4 L93.2 253.9 L93.5 255.3 L93.7 256.2 L94.0 256.7 L94.2 257.0 L94.5 257.0 L94.7 256.9 L95.0 257.2 L95.3 257.3 L95.5 257.2 L95.8 257.4 L96.0 257.3 L96.3 257.3 L96.5 257.5 L96.8 257.6 L97.0 257.4 L97.3 257.4 L97.6 257.5 L97.8 257.3 L98.1 257.3 L98.3 257.5 L98.6 257.5 L98.8 257.4 L99.1 257.3 L99.3 257.4 L99.6 257.3 L99.9 257.3 L100.1 257.3 L100.4 257.1 L100.6 257.4 L100.9 257.4 L101.1 257.3 L101.4 257.0 L101.7 256.8 L101.9 256.5 L102.2 255.9 L102.4 255.3 L102.7 254.2 L102.7 254.3 L102.9 254.6 L103.2 255.6 L103.4 256.5 L103.7 256.7 L104.0 257.1 L104.2 257.2 L104.5 257.1 L104.7 257.3 L105.0 257.2 L105.2 257.5 L105.5 257.3 L105.7 257.5 L106.0 257.5 L106.3 257.3 L106.5 257.3 L106.8 257.4 L107.0 257.3 L107.3 257.5 L107.5 257.4 L107.8 257.3 L108.1 257.3 L108.3 257.4 L108.6 257.1 L108.8 257.3 L109.1 257.0 L109.3 256.8 L109.6 256.3 L109.8 256.0 L110.1 255.6 L110.4 255.9 L110.6 256.4 L110.9 256.7 L111.1 257.1 L111.4 257.1 L111.6 257.1 L111.9 257.1 L112.1 257.0 L112.4 256.8 L112.7 256.6 L112.9 256.0 L113.2 255.5 L113.4 253.8 L113.7 251.7 L113.9 250.7 L114.2 252.1 L114.5 254.0 L114.7 255.3 L115.0 256.2 L115.2 256.6 L115.5 256.6 L115.7 256.9 L116.0 257.1 L116.2 257.2 L116.5 257.0 L116.8 256.9 L117.0 257.0 L117.3 257.1 L117.5 257.1 L117.8 257.0 L118.0 257.0 L118.3 256.8 L118.5 256.6 L118.8 256.5 L119.1 256.1 L119.3 255.4 L119.6 254.1 L119.8 251.5 L120.1 248.1 L120.3 246.3 L120.6 248.6 L120.9 251.5 L121.1 254.1 L121.4 255.4 L121.6 256.2 L121.9 256.8 L122.1 256.7 L122.4 256.9 L122.6 256.9 L122.9 257.1 L123.2 257.2 L123.4 257.1 L123.7 257.4 L123.9 257.4 L124.2 257.3 L124.4 257.3 L124.7 257.3 L124.9 257.2 L125.2 257.4 L125.5 257.2 L125.7 257.3 L126.0 257.5 L126.2 257.3 L126.5 257.3 L126.7 257.4 L127.0 257.5 L127.3 257.3 L127.5 257.5 L127.8 257.3 L128.0 257.4 L128.3 257.4 L128.5 257.2 L128.8 257.5 L129.0 257.5 L129.3 257.3 L129.6 257.4 L129.8 257.2 L130.1 257.5 L130.3 257.3 L130.6 257.2 L130.8 257.4 L131.1 257.1 L131.3 257.2 L131.6 257.0 L131.9 257.3 L132.1 257.4 L132.4 257.1 L132.6 257.0 L132.9 257.0 L133.1 256.9 L133.4 257.0 L133.7 257.0 L133.9 256.6 L134.2 256.6 L134.4 256.1 L134.7 256.1 L134.9 255.4 L135.2 254.5 L135.4 253.0 L135.7 249.8 L136.0 245.1 L136.2 240.1 L136.3 239.3 L136.5 239.8 L136.7 244.6 L137.0 249.2 L137.2 251.9 L137.5 253.2 L137.7 253.0 L138.0 252.0 L138.3 249.3 L138.5 244.4 L138.8 239.8 L138.9 239.0 L139.0 240.0 L139.3 245.0 L139.5 249.8 L139.8 252.9 L140.1 254.5 L140.3 255.4 L140.6 256.0 L140.8 256.3 L141.1 256.4 L141.3 256.6 L141.6 256.7 L141.8 256.8 L142.1 256.8 L142.4 257.1 L142.6 257.1 L142.9 257.0 L143.1 257.0 L143.4 257.0 L143.6 256.9 L143.9 256.8 L144.1 257.0 L144.4 257.0 L144.7 256.3 L144.9 255.6 L145.2 254.8 L145.4 253.5 L145.6 252.8 L145.7 252.9 L145.9 254.1 L146.2 255.1 L146.5 256.3 L146.7 256.6 L147.0 256.9 L147.2 257.0 L147.5 257.1 L147.7 257.1 L148.0 257.2 L148.2 257.3 L148.5 257.2 L148.8 257.3 L149.0 257.2 L149.3 257.2 L149.5 257.2 L149.8 257.2 L150.0 257.4 L150.3 257.3 L150.5 257.2 L150.8 257.3 L151.1 257.1 L151.3 256.9 L151.6 256.7 L151.8 256.3 L152.1 255.8 L152.3 254.6 L152.6 252.6 L152.9 250.7 L153.0 250.7 L153.1 250.9 L153.4 252.8 L153.6 254.6 L153.9 255.7 L154.1 256.5 L154.4 256.9 L154.6 256.9 L154.9 257.1 L155.2 257.2 L155.4 257.1 L155.7 257.3 L155.9 257.2 L156.2 257.4 L156.4 257.3 L156.7 257.4 L156.9 257.3 L157.2 257.5 L157.5 257.3 L157.7 257.3 L158.0 257.3 L158.2 257.5 L158.5 257.3 L158.7 257.6 L159.0 257.5 L159.3 257.5 L159.5 257.3 L159.8 257.4 L160.0 257.3 L160.3 257.2 L160.5 257.4 L160.8 257.6 L161.0 257.3 L161.3 257.5 L161.6 257.5 L161.8 257.3 L162.1 257.4 L162.3 257.4 L162.6 257.4 L162.8 257.3 L163.1 257.4 L163.3 257.4 L163.6 257.5 L163.9 257.2 L164.1 257.3 L164.4 257.3 L164.6 257.3 L164.9 257.4 L165.1 257.3 L165.4 257.6 L165.7 257.2 L165.9 257.4 L166.2 257.4 L166.4 257.4 L166.7 257.2 L166.9 257.1 L167.2 257.2 L167.4 257.2 L167.7 257.2 L168.0 257.2 L168.2 257.1 L168.5 256.9 L168.7 256.9 L169.0 257.0 L169.2 256.8 L169.5 256.5 L169.7 256.8 L170.0 256.3 L170.3 256.1 L170.5 256.0 L170.8 255.3 L171.0 254.7 L171.3 253.8 L171.5 251.5 L171.8 248.2 L172.1 242.6 L172.3 238.2 L172.4 237.5 L172.6 238.3 L172.8 240.9 L173.1 240.8 L173.3 236.2 L173.6 229.0 L173.8 226.6 L173.8 226.9 L174.1 234.2 L174.4 242.6 L174.6 248.9 L174.9 252.0 L175.1 253.8 L175.4 254.7 L175.6 255.5 L175.9 255.8 L176.1 256.2 L176.4 256.3 L176.7 256.4 L176.9 256.6 L177.2 256.5 L177.4 256.8 L177.7 256.6 L177.9 256.6 L178.2 256.6 L178.5 256.3 L178.7 255.9 L179.0 255.3 L179.2 254.9 L179.5 255.3 L179.7 255.9 L180.0 256.7 L180.2 256.7 L180.5 256.9 L180.8 257.1 L181.0 257.1 L181.3 257.1 L181.5 257.1 L181.8 257.3 L182.0 256.9 L182.3 257.3 L182.5 257.3 L182.8 257.2 L183.1 257.2 L183.3 257.1 L183.6 257.2 L183.8 257.4 L184.1 256.9 L184.3 256.9 L184.6 256.5 L184.9 255.8 L185.1 254.7 L185.4 253.3 L185.6 252.4 L185.9 253.2 L186.1 255.0 L186.4 255.9 L186.6 256.5 L186.9 256.8 L187.2 257.0 L187.4 256.9 L187.7 257.1 L187.9 257.3 L188.2 257.3 L188.4 257.1 L188.7 257.2 L188.9 257.2 L189.2 257.4 L189.5 257.3 L189.7 257.3 L190.0 257.3 L190.2 257.4 L190.5 257.3 L190.7 257.2 L191.0 257.3 L191.3 257.2 L191.5 257.4 L191.8 257.4 L192.0 257.2 L192.3 257.3 L192.5 257.3 L192.8 257.2 L193.0 257.2 L193.3 257.0 L193.6 257.1 L193.8 257.2 L194.1 257.2 L194.3 257.0 L194.6 257.0 L194.8 256.9 L195.1 256.9 L195.3 256.7 L195.6 256.6 L195.9 256.3 L196.1 255.7 L196.4 255.2 L196.6 253.8 L196.9 251.9 L197.1 248.0 L197.4 242.0 L197.7 235.6 L197.8 234.6 L197.9 235.8 L198.2 241.8 L198.4 248.0 L198.7 252.0 L198.9 254.1 L199.2 255.2 L199.4 255.9 L199.7 256.0 L200.0 256.5 L200.2 256.7 L200.5 256.9 L200.7 256.9 L201.0 256.9 L201.2 257.1 L201.5 257.1 L201.7 257.0 L202.0 257.1 L202.3 257.2 L202.5 257.1 L202.8 257.1 L203.0 257.2 L203.3 257.2 L203.5 257.3 L203.8 257.2 L204.1 257.3 L204.3 257.4 L204.6 257.3 L204.8 257.3 L205.1 257.1 L205.3 257.0 L205.6 257.2 L205.8 257.3 L206.1 257.2 L206.4 257.2 L206.6 257.1 L206.9 257.3 L207.1 257.1 L207.4 257.2 L207.6 257.2 L207.9 257.1 L208.1 257.3 L208.4 257.0 L208.7 257.0 L208.9 256.9 L209.2 256.7 L209.4 256.6 L209.7 256.4 L209.9 256.2 L210.2 256.1 L210.5 255.6 L210.7 255.4 L211.0 254.4 L211.2 253.1 L211.5 250.8 L211.7 246.2 L212.0 238.5 L212.2 227.9 L212.5 221.7 L212.8 227.7 L213.0 238.3 L213.3 246.4 L213.5 250.9 L213.8 253.2 L214.0 254.4 L214.3 255.2 L214.5 255.7 L214.8 255.9 L215.1 256.2 L215.3 256.4 L215.6 256.8 L215.8 256.7 L216.1 257.0 L216.3 256.9 L216.6 257.3 L216.9 257.0 L217.1 257.1 L217.4 257.3 L217.6 257.2 L217.9 257.3 L218.1 257.1 L218.4 257.3 L218.6 257.4 L218.9 257.2 L219.2 257.2 L219.4 257.1 L219.7 257.3 L219.9 257.1 L220.2 257.0 L220.4 256.6 L220.7 256.7 L220.8 256.6 L220.9 256.5 L221.2 256.9 L221.5 256.9 L221.7 257.2 L222.0 257.1 L222.2 257.4 L222.5 257.2 L222.7 257.4 L223.0 257.2 L223.3 257.3 L223.5 257.4 L223.8 257.2 L224.0 257.3 L224.3 257.2 L224.5 257.3 L224.8 257.2 L225.0 257.2 L225.3 257.1 L225.6 257.2 L225.8 256.9 L226.1 256.9 L226.3 256.8 L226.6 256.6 L226.8 256.3 L227.1 255.8 L227.3 254.8 L227.6 252.7 L227.9 250.1 L228.1 247.7 L228.2 247.7 L228.4 248.9 L228.6 251.4 L228.9 253.9 L229.1 255.2 L229.4 256.1 L229.7 256.3 L229.9 256.4 L230.2 256.5 L230.4 256.7 L230.7 256.7 L230.9 256.8 L231.2 256.5 L231.4 256.4 L231.7 255.9 L232.0 255.5 L232.2 254.0 L232.5 251.6 L232.7 248.5 L233.0 246.9 L233.2 248.5 L233.5 251.6 L233.7 254.0 L234.0 255.3 L234.3 256.2 L234.5 256.6 L234.8 256.8 L235.0 256.9 L235.3 257.2 L235.5 257.1 L235.8 257.0 L236.1 257.0 L236.3 257.3 L236.6 257.2 L236.8 257.3 L237.1 257.4 L237.3 257.4 L237.6 257.2 L237.8 257.3 L238.1 257.4 L238.4 257.4 L238.6 257.5 L238.9 257.4 L239.1 257.2 L239.4 257.5 L239.6 257.3 L239.9 257.3 L240.1 257.5 L240.4 257.3 L240.7 257.7 L240.9 257.5 L241.2 257.5 L241.4 257.4 L241.7 257.7 L241.9 257.5 L242.2 257.4 L242.5 257.6 L242.7 257.3 L243.0 257.4 L243.2 257.5 L243.5 257.5 L243.7 257.4 L244.0 257.6 L244.2 257.6 L244.5 257.4 L244.8 257.5 L245.0 257.4 L245.3 257.4 L245.5 257.6 L245.8 257.5 L246.0 257.5 L246.3 257.5 L246.5 257.4 L246.8 257.6 L247.1 257.4 L247.3 257.6 L247.6 257.4 L247.8 257.4 L248.1 257.6 L248.3 257.5 L248.6 257.4 L248.9 257.4 L249.1 257.5 L249.4 257.7 L249.6 257.6 L249.9 257.4 L250.1 257.4 L250.4 257.4 L250.6 257.5 L250.9 257.5 L251.2 257.4 L251.4 257.6 L251.7 257.4 L251.9 257.4 L252.2 257.5 L252.4 257.5 L252.7 257.5 L252.9 257.6 L253.2 257.4 L253.5 257.7 L253.7 257.7 L254.0 257.7 L254.2 257.5 L254.5 257.7 L254.7 257.5 L255.0 257.6 L255.3 257.5 L255.5 257.5 L255.8 257.5 L256.0 257.3 L256.3 257.5 L256.5 257.7 L256.8 257.2 L257.0 257.5 L257.3 257.6 L257.6 257.5 L257.8 257.5 L258.1 257.6 L258.3 257.5 L258.6 257.3 L258.8 257.4 L259.1 257.4 L259.3 257.5 L259.6 257.4 L259.9 257.4 L260.1 257.6 L260.4 257.1 L260.6 257.5 L260.9 257.5 L261.1 257.4 L261.4 257.3 L261.7 257.3 L261.9 257.2 L262.2 257.0 L262.4 256.6 L262.7 256.2 L262.9 255.5 L263.1 255.5 L263.2 255.6 L263.4 256.0 L263.7 256.7 L264.0 257.0 L264.2 257.1 L264.5 257.3 L264.7 257.2 L265.0 257.5 L265.2 257.4 L265.5 257.6 L265.7 257.3 L266.0 257.5 L266.3 257.3 L266.5 257.3 L266.8 257.4 L267.0 257.4 L267.3 257.4 L267.5 257.3 L267.8 257.4 L268.1 257.4 L268.3 257.1 L268.6 257.1 L268.8 257.0 L269.1 257.1 L269.3 256.5 L269.6 256.1 L269.8 255.1 L270.1 253.5 L270.4 252.2 L270.4 252.2 L270.6 252.7 L270.9 254.2 L271.1 255.5 L271.4 256.4 L271.6 256.8 L271.9 257.2 L272.1 256.9 L272.4 257.2 L272.7 257.1 L272.9 257.4 L273.2 257.4 L273.4 257.3 L273.7 257.5 L273.9 257.3 L274.2 257.3 L274.5 257.2 L274.7 257.2 L275.0 257.3 L275.2 257.3 L275.5 257.3 L275.7 257.0 L276.0 256.6 L276.2 256.2 L276.5 255.4 L276.8 254.8 L276.8 254.8 L277.0 255.0 L277.3 255.8 L277.5 256.4 L277.8 256.9 L278.0 256.9 L278.3 257.2 L278.5 257.3 L278.8 257.3 L279.1 257.2 L279.3 257.2 L279.6 257.2 L279.8 257.2 L280.1 257.3 L280.3 257.3 L280.6 257.1 L280.9 257.3 L281.1 257.1 L281.4 257.2 L281.6 257.1 L281.9 257.2 L282.1 257.2 L282.4 256.9 L282.6 256.7 L282.9 256.4 L283.2 255.9 L283.4 254.8 L283.7 253.2 L283.9 250.3 L284.2 249.0 L284.4 250.4 L284.7 253.0 L284.9 254.8 L285.2 255.9 L285.5 256.3 L285.7 257.0 L286.0 257.0 L286.2 256.9 L286.5 257.2 L286.7 257.1 L287.0 257.1 L287.3 257.3 L287.5 257.2 L287.8 257.4 L288.0 257.3 L288.3 257.4 L288.5 257.4 L288.8 257.4 L289.0 257.4 L289.3 257.3 L289.6 257.3 L289.8 257.4 L290.1 257.4 L290.3 257.2 L290.6 257.4 L290.8 257.3 L291.1 256.9 L291.3 257.0 L291.6 256.5 L291.9 255.9 L292.1 254.7 L292.4 253.9 L292.5 253.4 L292.6 253.7 L292.9 254.7 L293.1 256.0 L293.4 256.6 L293.7 256.8 L293.9 257.0 L294.2 257.2 L294.4 257.2 L294.7 257.3 L294.9 257.2 L295.2 257.4 L295.4 257.3 L295.7 257.5 L296.0 257.6 L296.2 257.4 L296.5 257.6 L296.7 257.5 L297.0 257.4 L297.2 257.4 L297.5 257.4 L297.7 257.5 L298.0 257.5 L298.3 257.6 L298.5 257.4 L298.8 257.3 L299.0 257.5 L299.3 257.6 L299.5 257.5 L299.8 257.5 L300.1 257.3 L300.3 257.4 L300.6 257.5 L300.8 257.4 L301.1 257.6 L301.3 257.4 L301.6 257.4 L301.8 257.4 L302.1 257.5 L302.4 257.6 L302.6 257.4 L302.9 257.3 L303.1 257.5 L303.4 257.5 L303.6 257.6 L303.9 257.4 L304.1 257.6 L304.4 257.5 L304.7 257.5 L304.9 257.4 L305.2 257.4 L305.4 257.4 L305.7 257.5 L305.9 257.5 L306.2 257.5 L306.5 257.6 L306.7 257.4 L307.0 257.3 L307.2 257.5 L307.5 257.1 L307.7 257.0 L308.0 256.8 L308.2 256.3 L308.5 255.6 L308.8 254.9 L308.8 255.1 L309.0 255.1 L309.3 255.9 L309.5 256.4 L309.8 256.8 L310.0 257.2 L310.3 257.3 L310.5 257.3 L310.8 257.4 L311.1 257.5 L311.3 257.4 L311.6 257.4 L311.8 257.5 L312.1 257.6 L312.3 257.4 L312.6 257.5 L312.9 257.5 L313.1 257.6 L313.4 257.5 L313.6 257.6 L313.9 257.4 L314.1 257.5 L314.4 257.3 L314.6 257.5 L314.9 257.7 L315.2 257.5 L315.4 257.5 L315.7 257.5 L315.9 257.5 L316.2 257.4 L316.4 257.4 L316.7 257.5 L316.9 257.5 L317.2 257.4 L317.5 257.5 L317.7 257.4 L318.0 257.4 L318.2 257.4 L318.5 257.4 L318.7 257.6 L319.0 257.6 L319.3 257.5 L319.5 257.5 L319.8 257.4 L320.0 257.3 L320.3 257.4 L320.5 257.6 L320.8 257.6 L321.0 257.5 L321.3 257.5 L321.6 257.5 L321.8 257.5 L322.1 257.5 L322.3 257.5 L322.6 257.4 L322.8 257.5 L323.1 257.5 L323.3 257.6 L323.6 257.4 L323.9 257.6 L324.1 257.5 L324.4 257.4 L324.6 257.5 L324.9 257.5 L325.1 257.5 L325.4 257.5 L325.7 257.4 L325.9 257.3 L326.2 257.5 L326.4 257.5 L326.7 257.6 L326.9 257.5 L327.2 257.3 L327.4 257.6 L327.7 257.4 L328.0 257.5 L328.2 257.7 L328.5 257.6 L328.7 257.4 L329.0 257.4 L329.2 257.3 L329.5 257.5 L329.7 257.5 L330.0 257.3 L330.3 257.4 L330.5 257.5 L330.8 257.4 L331.0 257.1 L331.3 256.9 L331.5 256.6 L331.8 256.4 L331.9 256.5 L332.1 256.6 L332.3 257.0 L332.6 257.1 L332.8 257.2 L333.1 257.2 L333.3 257.5 L333.6 257.4 L333.8 257.4 L334.1 257.3 L334.4 257.2 L334.6 257.4 L334.9 257.1 L335.1 257.2 L335.4 256.9 L335.6 256.4 L335.9 255.9 L336.0 256.0 L336.1 256.2 L336.4 256.4 L336.7 256.7 L336.9 257.2 L337.2 257.2 L337.4 257.2 L337.7 257.4 L337.9 257.3 L338.2 257.4 L338.5 257.3 L338.7 257.3 L339.0 257.4 L339.2 257.3 L339.5 257.1 L339.7 257.3 L340.0 257.4 L340.2 257.4 L340.5 257.4 L340.8 257.3 L341.0 257.3 L341.3 257.1 L341.5 256.9 L341.8 256.9 L342.0 256.5 L342.3 256.4 L342.5 255.7 L342.8 254.6 L343.1 252.5 L343.3 249.4 L343.6 246.2 L343.7 245.5 L343.8 246.0 L344.1 249.4 L344.3 252.7 L344.6 254.6 L344.9 255.6 L345.1 256.1 L345.4 256.5 L345.6 256.9 L345.9 257.0 L346.1 257.1 L346.4 257.2 L346.6 257.2 L346.9 257.3 L347.2 257.2 L347.4 257.1 L347.7 257.4 L347.9 257.3 L348.2 257.4 L348.4 257.3 L348.7 257.4 L348.9 257.6 L349.2 257.3 L349.5 257.4 L349.7 257.6 L350.0 257.4 L350.2 257.4 L350.5 257.2 L350.7 257.5 L351.0 257.4 L351.3 257.6 L351.5 257.4 L351.8 257.4 L352.0 257.5 L352.3 257.4 L352.5 257.4 L352.8 257.6 L353.0 257.6 L353.3 257.5 L353.6 257.5 L353.8 257.6 L354.1 257.5 L354.3 257.5 L354.6 257.5 L354.8 257.5 L355.1 257.5 L355.3 257.5 L355.6 257.4 L355.9 257.5 L356.1 257.5 L356.4 257.4 L356.6 257.5 L356.9 257.6 L357.1 257.5 L357.4 257.5 L357.7 257.5 L357.9 257.4 L358.2 257.6 L358.4 257.4 L358.7 257.3 L358.9 257.4 L359.2 257.5 L359.4 257.5 L359.7 257.4 L360.0 257.4 L360.2 257.5 L360.5 257.4 L360.7 257.4 L361.0 257.5 L361.2 257.4 L361.5 257.5 L361.7 257.4 L362.0 257.4 L362.3 257.5 L362.5 257.6 L362.8 257.6 L363.0 257.6 L363.3 257.4 L363.5 257.5 L363.8 257.6 L364.1 257.6 L364.3 257.3 L364.6 257.5 L364.8 257.4 L365.1 257.6 L365.3 257.5 L365.6 257.4 L365.8 257.7 L366.1 257.4 L366.4 257.7 L366.6 257.4 L366.9 257.4 L367.1 257.6 L367.4 257.3 L367.6 257.3 L367.9 257.3 L368.1 257.0 L368.4 256.7 L368.7 256.4 L368.9 256.8 L369.2 257.1 L369.4 257.2 L369.7 257.4 L369.9 257.3 L370.2 257.4 L370.5 257.3 L370.7 257.5 L371.0 257.6 L371.2 257.5 L371.5 257.5 L371.7 257.5 L372.0 257.4 L372.2 257.3 L372.5 257.5 L372.8 257.5 L373.0 257.5 L373.3 257.4 L373.5 257.3 L373.8 257.5 L374.0 257.3 L374.3 257.2 L374.5 257.3 L374.8 257.2 L375.1 257.1 L375.3 257.0 L375.6 256.8 L375.8 256.4 L376.1 255.6 L376.3 255.0 L376.6 255.5 L376.9 256.2 L377.1 256.8 L377.4 257.0 L377.6 257.2 L377.9 257.1 L378.1 257.5 L378.4 257.3 L378.6 257.5 L378.9 257.4 L379.2 257.5 L379.4 257.3 L379.7 257.4 L379.9 257.5 L380.2 257.5 L380.4 257.3 L380.7 257.6 L380.9 257.3 L381.2 257.5 L381.5 257.5 L381.7 257.4 L382.0 257.5 L382.2 257.5 L382.5 257.5 L382.7 257.6 L383.0 257.6 L383.3 257.5 L383.5 257.7 L383.8 257.4 L384.0 257.7 L384.3 257.5 L384.5 257.6 L384.8 257.5 L385.0 257.5 L385.3 257.4 L385.6 257.5 L385.8 257.7 L386.1 257.5 L386.3 257.5 L386.6 257.5 L386.8 257.6 L387.1 257.5 L387.3 257.5 L387.6 257.5 L387.9 257.6 L388.1 257.6 L388.4 257.4 L388.6 257.4 L388.9 257.5 L389.1 257.6 L389.4 257.6 L389.7 257.5 L389.9 257.7 L390.2 257.5 L390.4 257.6 L390.7 257.6 L390.9 257.6 L391.2 257.5 L391.4 257.5 L391.7 257.3 L392.0 257.3 L392.2 257.4 L392.5 257.6 L392.7 257.6 L393.0 257.5 L393.2 257.6 L393.5 257.5 L393.7 257.6 L394.0 257.3 L394.3 257.4 L394.5 257.4 L394.8 257.4 L395.0 257.6 L395.3 257.4 L395.5 257.3 L395.8 257.4 L396.1 257.4 L396.3 257.2 L396.6 257.1 L396.8 256.8 L397.1 256.5 L397.1 256.3 L397.3 256.5 L397.6 256.8 L397.8 257.3 L398.1 257.2 L398.4 257.3 L398.6 257.4 L398.9 257.4 L399.1 257.3 L399.4 257.6 L399.6 257.5 L399.9 257.5 L400.1 257.4 L400.4 257.4 L400.7 257.3 L400.9 257.5 L401.2 257.5 L401.4 257.3 L401.7 257.3 L401.9 257.5 L402.2 256.9 L402.5 256.7 L402.6 256.9 L402.7 256.8 L403.0 257.0 L403.2 257.3 L403.5 257.3 L403.7 257.5 L404.0 257.5 L404.2 257.6 L404.5 257.5 L404.8 257.3 L405.0 257.6 L405.3 257.3 L405.5 257.6 L405.8 257.5 L406.0 257.4 L406.3 257.5 L406.5 257.6 L406.8 257.4 L407.1 257.5 L407.3 257.4 L407.6 257.4 L407.8 257.4 L408.1 257.6 L408.3 257.6 L408.6 257.5 L408.9 257.5 L409.1 257.5 L409.4 257.5 L409.6 257.5 L409.9 257.3 L410.1 257.6 L410.4 257.4 L410.6 257.2 L410.9 257.6 L411.2 257.4 L411.4 257.5 L411.7 257.5 L411.9 257.4 L412.2 257.5 L412.4 257.5 L412.7 257.5 L412.9 257.4 L413.2 257.5 L413.5 257.4 L413.7 257.5 L414.0 257.6 L414.2 257.6 L414.5 257.5 L414.7 257.4 L415.0 257.6 L415.3 257.6 L415.5 257.7 L415.8 257.3 L416.0 257.5 L416.3 257.5 L416.5 257.6 L416.8 257.4 L417.0 257.5 L417.3 257.7 L417.6 257.6 L417.8 257.3 L418.1 257.5 L418.3 257.6 L418.6 257.4 L418.8 257.6 L419.1 257.5 L419.3 257.4 L419.6 257.4 L419.9 257.6 L420.1 257.6 L420.4 257.4 L420.6 257.6 L420.9 257.4 L421.1 257.5 L421.4 257.5 L421.7 257.4 L421.9 257.5 L422.2 257.5 L422.4 257.2 L422.7 257.4 L422.9 257.4 L423.2 257.4 L423.4 257.4 L423.7 257.4 L424.0 257.3 L424.2 257.6 L424.5 257.5 L424.7 257.5 L425.0 257.5 L425.2 257.5 L425.5 257.4 L425.7 257.4 L426.0 257.3 L426.3 257.5 L426.5 257.5 L426.8 257.4 L427.0 257.6 L427.3 257.2 L427.5 257.3 L427.8 257.2 L428.1 257.1 L428.3 256.9 L428.6 256.2 L428.8 256.1 L429.1 256.2 L429.3 256.6 L429.6 257.0 L429.8 257.1 L430.1 257.5 L430.4 257.4 L430.6 257.5 L430.9 257.5 L431.1 257.2 L431.4 257.5 L431.6 257.5 L431.9 257.2 L432.1 257.5 L432.4 257.6 L432.7 257.6 L432.9 257.4 L433.2 257.6 L433.4 257.5 L433.7 257.5 L433.9 257.5 L434.2 257.5 L434.5 257.5 L434.7 257.6 L435.0 257.5 L435.2 257.4 L435.5 257.6 L435.7 257.6 L436.0 257.4 L436.2 257.5 L436.5 257.6" fill="none" stroke="#ff22ff" stroke-width="1.05" stroke-linejoin="round"/><path d="M52.5 308.6 L52.8 308.7 L53.0 308.8 L53.3 308.7 L53.5 308.9 L53.8 308.5 L54.0 308.7 L54.3 308.6 L54.5 308.7 L54.8 308.7 L55.1 308.8 L55.3 308.8 L55.6 308.6 L55.8 308.6 L56.1 308.7 L56.3 308.7 L56.6 308.6 L56.9 308.8 L57.1 308.9 L57.4 308.6 L57.6 308.7 L57.9 308.8 L58.1 308.5 L58.4 308.7 L58.6 308.7 L58.9 308.6 L59.2 308.8 L59.4 308.7 L59.7 308.6 L59.9 308.7 L60.2 308.8 L60.4 308.8 L60.7 308.8 L60.9 308.7 L61.2 308.6 L61.5 308.7 L61.7 308.7 L62.0 308.4 L62.2 308.9 L62.5 308.7 L62.7 308.6 L63.0 308.5 L63.3 308.7 L63.5 308.7 L63.8 308.6 L64.0 308.7 L64.3 308.6 L64.5 308.6 L64.8 308.7 L65.0 308.6 L65.3 308.8 L65.6 308.7 L65.8 308.7 L66.1 308.7 L66.3 308.8 L66.6 308.7 L66.8 308.7 L67.1 308.7 L67.3 308.6 L67.6 308.7 L67.9 308.8 L68.1 308.7 L68.4 308.6 L68.6 308.6 L68.9 308.5 L69.1 308.7 L69.4 308.8 L69.7 308.7 L69.9 308.5 L70.2 308.7 L70.4 308.7 L70.7 308.6 L70.9 308.7 L71.2 308.6 L71.4 308.6 L71.7 308.5 L72.0 308.7 L72.2 308.7 L72.5 308.6 L72.7 308.6 L73.0 308.7 L73.2 308.7 L73.5 308.6 L73.7 308.8 L74.0 308.6 L74.3 308.5 L74.5 308.7 L74.8 308.6 L75.0 308.6 L75.3 308.6 L75.5 308.4 L75.8 308.4 L76.1 308.4 L76.3 308.5 L76.6 308.2 L76.8 308.4 L77.1 308.1 L77.3 307.8 L77.6 307.5 L77.8 306.8 L78.1 305.3 L78.4 303.1 L78.6 301.1 L78.7 300.6 L78.9 301.1 L79.1 303.1 L79.4 305.4 L79.6 306.7 L79.9 307.4 L80.1 307.9 L80.4 308.1 L80.7 308.2 L80.9 308.2 L81.2 308.4 L81.4 308.3 L81.7 308.5 L81.9 308.6 L82.2 308.7 L82.5 308.7 L82.7 308.6 L83.0 308.6 L83.2 308.6 L83.5 308.5 L83.7 308.8 L84.0 308.7 L84.2 308.6 L84.5 308.5 L84.8 308.8 L85.0 308.7 L85.3 308.5 L85.5 308.7 L85.8 308.8 L86.0 308.6 L86.3 308.7 L86.5 308.6 L86.8 308.6 L87.1 308.8 L87.3 309.0 L87.6 308.7 L87.8 308.6 L88.1 308.7 L88.3 308.6 L88.6 308.7 L88.9 308.7 L89.1 308.5 L89.4 308.5 L89.6 308.6 L89.9 308.7 L90.1 308.6 L90.4 308.7 L90.6 308.4 L90.9 308.5 L91.2 308.4 L91.4 308.4 L91.7 308.2 L91.9 307.8 L92.2 307.3 L92.4 306.3 L92.7 305.5 L92.8 305.2 L92.9 305.4 L93.2 306.4 L93.5 307.2 L93.7 308.0 L94.0 308.1 L94.2 308.4 L94.5 308.5 L94.7 308.4 L95.0 308.5 L95.3 308.5 L95.5 308.6 L95.8 308.6 L96.0 308.8 L96.3 308.6 L96.5 308.8 L96.8 308.7 L97.0 308.5 L97.3 308.4 L97.6 308.7 L97.8 308.5 L98.1 308.7 L98.3 308.8 L98.6 308.7 L98.8 308.6 L99.1 308.6 L99.3 308.7 L99.6 308.6 L99.9 308.6 L100.1 308.6 L100.4 308.8 L100.6 308.6 L100.9 308.7 L101.1 308.6 L101.4 308.6 L101.7 308.5 L101.9 308.6 L102.2 308.7 L102.4 308.7 L102.7 308.6 L102.9 308.7 L103.2 308.6 L103.4 308.7 L103.7 308.7 L104.0 308.7 L104.2 308.4 L104.5 308.5 L104.7 308.7 L105.0 308.6 L105.2 308.9 L105.5 308.6 L105.7 308.6 L106.0 308.8 L106.3 308.6 L106.5 308.8 L106.8 308.6 L107.0 308.5 L107.3 308.6 L107.5 308.4 L107.8 308.4 L108.1 308.3 L108.3 308.2 L108.6 308.1 L108.8 307.5 L109.1 306.8 L109.3 305.4 L109.6 304.0 L109.8 303.1 L109.8 303.4 L110.1 304.7 L110.4 306.1 L110.6 307.3 L110.9 307.8 L111.1 308.2 L111.4 308.4 L111.6 308.4 L111.9 308.4 L112.1 308.4 L112.4 308.5 L112.7 308.5 L112.9 308.6 L113.2 308.5 L113.4 308.9 L113.7 308.4 L113.9 308.7 L114.2 308.6 L114.5 308.6 L114.7 308.7 L115.0 308.6 L115.2 308.5 L115.5 308.6 L115.7 308.6 L116.0 308.4 L116.2 308.6 L116.5 308.5 L116.8 308.5 L117.0 308.6 L117.3 308.6 L117.5 308.5 L117.8 308.7 L118.0 308.5 L118.3 308.3 L118.5 308.3 L118.8 308.1 L119.1 307.7 L119.3 307.3 L119.6 306.5 L119.8 305.4 L120.1 303.3 L120.3 302.2 L120.6 303.3 L120.9 305.3 L121.1 306.6 L121.4 307.6 L121.6 307.9 L121.9 308.3 L122.1 308.2 L122.4 308.4 L122.6 308.3 L122.9 308.4 L123.2 308.3 L123.4 308.4 L123.7 308.4 L123.9 308.5 L124.2 308.7 L124.4 308.6 L124.7 308.7 L124.9 308.6 L125.2 308.6 L125.5 308.7 L125.7 308.5 L126.0 308.6 L126.2 308.5 L126.5 308.5 L126.7 308.7 L127.0 308.8 L127.3 308.5 L127.5 308.7 L127.8 308.6 L128.0 308.5 L128.3 308.6 L128.5 308.6 L128.8 308.6 L129.0 308.5 L129.3 308.4 L129.6 308.5 L129.8 308.6 L130.1 308.6 L130.3 308.5 L130.6 308.6 L130.8 308.3 L131.1 308.4 L131.3 308.4 L131.6 308.5 L131.9 308.4 L132.1 308.4 L132.4 308.3 L132.6 308.4 L132.9 307.9 L133.1 308.1 L133.4 308.2 L133.7 307.9 L133.9 307.5 L134.2 307.5 L134.4 307.1 L134.7 306.7 L134.9 305.9 L135.2 304.5 L135.4 301.6 L135.7 297.5 L136.0 294.2 L136.0 293.9 L136.2 295.1 L136.5 299.1 L136.7 302.3 L137.0 303.9 L137.2 304.5 L137.5 304.5 L137.7 303.7 L138.0 302.1 L138.3 299.0 L138.5 292.8 L138.8 282.4 L139.0 270.0 L139.2 265.4 L139.3 266.0 L139.5 275.9 L139.8 288.2 L140.1 296.8 L140.3 301.3 L140.6 303.9 L140.8 305.1 L141.1 306.0 L141.3 306.6 L141.6 307.1 L141.8 307.2 L142.1 307.5 L142.4 307.7 L142.6 307.8 L142.9 308.1 L143.1 308.0 L143.4 308.0 L143.6 308.1 L143.9 308.3 L144.1 308.3 L144.4 308.4 L144.7 308.2 L144.9 308.6 L145.2 308.6 L145.4 308.4 L145.7 308.3 L145.9 308.4 L146.2 308.5 L146.5 308.2 L146.7 308.5 L147.0 308.3 L147.2 308.5 L147.5 308.6 L147.7 308.6 L148.0 308.4 L148.2 308.6 L148.5 308.6 L148.8 308.5 L149.0 308.6 L149.3 308.6 L149.5 308.5 L149.8 308.5 L150.0 308.4 L150.3 308.5 L150.5 308.2 L150.8 308.5 L151.1 308.1 L151.3 308.2 L151.6 307.7 L151.8 307.2 L152.1 306.3 L152.3 305.0 L152.6 303.6 L152.7 303.8 L152.9 304.2 L153.1 305.8 L153.4 306.8 L153.6 307.6 L153.9 308.0 L154.1 308.4 L154.4 308.3 L154.6 308.3 L154.9 308.6 L155.2 308.4 L155.4 308.5 L155.7 308.4 L155.9 308.5 L156.2 308.3 L156.4 308.6 L156.7 308.5 L156.9 308.4 L157.2 308.4 L157.5 308.7 L157.7 308.6 L158.0 308.4 L158.2 308.7 L158.5 308.5 L158.7 308.6 L159.0 308.6 L159.3 308.5 L159.5 308.4 L159.8 308.5 L160.0 308.7 L160.3 308.7 L160.5 308.4 L160.8 308.7 L161.0 308.6 L161.3 308.6 L161.6 308.6 L161.8 308.6 L162.1 308.5 L162.3 308.5 L162.6 308.5 L162.8 308.5 L163.1 308.6 L163.3 308.4 L163.6 308.7 L163.9 308.5 L164.1 308.5 L164.4 308.6 L164.6 308.5 L164.9 308.5 L165.1 308.4 L165.4 308.4 L165.7 308.3 L165.9 308.5 L166.2 308.5 L166.4 308.6 L166.7 308.4 L166.9 308.4 L167.2 308.4 L167.4 308.3 L167.7 308.2 L168.0 308.2 L168.2 308.3 L168.5 307.9 L168.7 307.8 L169.0 307.8 L169.2 307.8 L169.5 307.7 L169.7 307.4 L170.0 307.3 L170.3 307.0 L170.5 306.6 L170.8 306.1 L171.0 305.4 L171.3 304.2 L171.5 302.2 L171.8 298.5 L172.1 291.8 L172.3 284.3 L172.5 280.7 L172.6 280.5 L172.8 282.5 L173.1 282.6 L173.3 276.4 L173.6 266.1 L173.8 262.5 L173.8 263.7 L174.1 274.4 L174.4 287.0 L174.6 295.9 L174.9 300.7 L175.1 303.0 L175.4 304.8 L175.6 305.5 L175.9 306.3 L176.1 306.6 L176.4 306.9 L176.7 307.1 L176.9 307.4 L177.2 307.7 L177.4 307.7 L177.7 307.6 L177.9 308.1 L178.2 308.1 L178.5 308.0 L178.7 307.9 L179.0 307.7 L179.2 307.4 L179.5 307.2 L179.7 306.9 L179.9 306.6 L180.0 306.8 L180.2 307.2 L180.5 307.7 L180.8 308.1 L181.0 308.4 L181.3 308.2 L181.5 308.4 L181.8 308.5 L182.0 308.4 L182.3 308.4 L182.5 308.3 L182.8 308.5 L183.1 308.4 L183.3 308.4 L183.6 308.4 L183.8 308.3 L184.1 308.3 L184.3 308.3 L184.6 308.4 L184.9 308.1 L185.1 307.8 L185.4 307.1 L185.6 306.2 L185.9 305.9 L185.9 305.7 L186.1 305.9 L186.4 306.8 L186.6 307.6 L186.9 307.8 L187.2 308.1 L187.4 308.4 L187.7 308.3 L187.9 308.5 L188.2 308.6 L188.4 308.5 L188.7 308.5 L188.9 308.5 L189.2 308.5 L189.5 308.5 L189.7 308.6 L190.0 308.5 L190.2 308.7 L190.5 308.8 L190.7 308.5 L191.0 308.6 L191.3 308.6 L191.5 308.6 L191.8 308.5 L192.0 308.5 L192.3 308.7 L192.5 308.6 L192.8 308.6 L193.0 308.5 L193.3 308.6 L193.6 308.6 L193.8 308.5 L194.1 308.5 L194.3 308.6 L194.6 308.2 L194.8 308.4 L195.1 308.2 L195.3 308.1 L195.6 308.1 L195.9 308.0 L196.1 307.7 L196.4 307.2 L196.6 306.6 L196.9 305.5 L197.1 303.3 L197.4 299.8 L197.7 296.2 L197.8 295.9 L197.9 296.2 L198.2 299.9 L198.4 303.3 L198.7 305.5 L198.9 306.7 L199.2 307.3 L199.4 307.8 L199.7 307.8 L200.0 307.9 L200.2 308.4 L200.5 308.2 L200.7 308.4 L201.0 308.5 L201.2 308.4 L201.5 308.4 L201.7 308.3 L202.0 308.3 L202.3 308.5 L202.5 308.5 L202.8 308.5 L203.0 308.3 L203.3 308.3 L203.5 308.4 L203.8 308.4 L204.1 308.5 L204.3 308.4 L204.6 308.6 L204.8 308.4 L205.1 308.4 L205.3 308.5 L205.6 308.5 L205.8 308.3 L206.1 308.5 L206.4 308.6 L206.6 308.2 L206.9 308.3 L207.1 308.2 L207.4 308.1 L207.6 308.3 L207.9 308.3 L208.1 308.2 L208.4 308.1 L208.7 307.8 L208.9 307.9 L209.2 307.7 L209.4 307.5 L209.7 307.4 L209.9 307.3 L210.2 306.9 L210.5 306.8 L210.7 306.1 L211.0 305.1 L211.2 304.1 L211.5 302.1 L211.7 298.0 L212.0 290.5 L212.2 278.5 L212.5 263.4 L212.7 258.3 L212.8 258.8 L213.0 270.6 L213.3 284.9 L213.5 295.0 L213.8 300.4 L214.0 303.1 L214.3 304.6 L214.5 305.7 L214.8 306.4 L215.1 306.6 L215.3 307.0 L215.6 307.4 L215.8 307.6 L216.1 307.7 L216.3 307.9 L216.6 307.8 L216.9 307.8 L217.1 308.1 L217.4 308.1 L217.6 308.2 L217.9 308.2 L218.1 308.3 L218.4 308.2 L218.6 308.5 L218.9 308.4 L219.2 308.4 L219.4 308.5 L219.7 308.5 L219.9 308.5 L220.2 308.3 L220.4 308.4 L220.7 308.7 L220.9 308.5 L221.2 308.5 L221.5 308.5 L221.7 308.4 L222.0 308.4 L222.2 308.4 L222.5 308.6 L222.7 308.5 L223.0 308.7 L223.3 308.5 L223.5 308.7 L223.8 308.5 L224.0 308.4 L224.3 308.6 L224.5 308.5 L224.8 308.5 L225.0 308.4 L225.3 308.3 L225.6 308.4 L225.8 308.2 L226.1 308.1 L226.3 308.1 L226.6 308.0 L226.8 307.7 L227.1 307.4 L227.3 306.7 L227.6 305.5 L227.9 303.6 L228.1 301.8 L228.2 301.8 L228.4 302.4 L228.6 304.4 L228.9 306.0 L229.1 306.9 L229.4 307.4 L229.7 307.5 L229.9 307.8 L230.2 307.8 L230.4 307.6 L230.7 307.6 L230.9 307.6 L231.2 307.2 L231.4 306.9 L231.7 306.3 L232.0 305.1 L232.2 302.4 L232.5 298.2 L232.7 292.5 L233.0 289.2 L233.2 292.5 L233.5 298.3 L233.7 302.4 L234.0 305.0 L234.3 306.5 L234.5 307.0 L234.8 307.6 L235.0 307.6 L235.3 307.9 L235.5 307.9 L235.8 308.2 L236.1 308.3 L236.3 308.5 L236.6 308.4 L236.8 308.4 L237.1 308.3 L237.3 308.4 L237.6 308.6 L237.8 308.6 L238.1 308.6 L238.4 308.6 L238.6 308.5 L238.9 308.6 L239.1 308.6 L239.4 308.5 L239.6 308.8 L239.9 308.6 L240.1 308.5 L240.4 308.6 L240.7 308.6 L240.9 308.7 L241.2 308.8 L241.4 308.3 L241.7 308.7 L241.9 308.8 L242.2 308.5 L242.5 308.5 L242.7 308.7 L243.0 308.7 L243.2 308.7 L243.5 308.5 L243.7 308.6 L244.0 308.7 L244.2 308.7 L244.5 308.9 L244.8 308.7 L245.0 308.6 L245.3 308.4 L245.5 308.8 L245.8 308.7 L246.0 308.7 L246.3 308.6 L246.5 308.7 L246.8 308.5 L247.1 308.7 L247.3 308.7 L247.6 308.7 L247.8 308.8 L248.1 308.7 L248.3 308.7 L248.6 308.8 L248.9 308.5 L249.1 308.7 L249.4 308.7 L249.6 308.8 L249.9 308.6 L250.1 308.8 L250.4 308.7 L250.6 308.5 L250.9 308.5 L251.2 308.5 L251.4 308.7 L251.7 308.7 L251.9 308.8 L252.2 308.8 L252.4 308.6 L252.7 308.8 L252.9 308.8 L253.2 308.7 L253.5 308.7 L253.7 308.6 L254.0 308.7 L254.2 308.6 L254.5 308.6 L254.7 308.7 L255.0 308.7 L255.3 308.7 L255.5 308.7 L255.8 308.6 L256.0 308.7 L256.3 308.6 L256.5 308.6 L256.8 308.7 L257.0 308.8 L257.3 308.7 L257.6 308.6 L257.8 308.8 L258.1 308.9 L258.3 308.7 L258.6 308.7 L258.8 308.7 L259.1 309.0 L259.3 308.7 L259.6 308.8 L259.9 308.7 L260.1 308.5 L260.4 308.6 L260.6 308.6 L260.9 308.7 L261.1 308.7 L261.4 308.8 L261.7 308.6 L261.9 308.7 L262.2 308.6 L262.4 308.6 L262.7 308.8 L262.9 308.6 L263.2 308.6 L263.4 308.4 L263.7 307.9 L264.0 307.8 L264.0 307.7 L264.2 307.8 L264.5 308.1 L264.7 308.3 L265.0 308.4 L265.2 308.7 L265.5 308.5 L265.7 308.7 L266.0 308.8 L266.3 308.7 L266.5 308.7 L266.8 308.8 L267.0 308.7 L267.3 308.8 L267.5 308.4 L267.8 308.8 L268.1 308.5 L268.3 308.3 L268.6 308.3 L268.8 308.1 L269.1 308.0 L269.3 307.3 L269.6 306.8 L269.8 306.7 L269.8 306.7 L270.1 307.1 L270.4 307.7 L270.6 308.1 L270.9 308.3 L271.1 308.5 L271.4 308.5 L271.6 308.6 L271.9 308.4 L272.1 308.5 L272.4 308.6 L272.7 308.6 L272.9 308.5 L273.2 308.6 L273.4 308.6 L273.7 308.7 L273.9 308.6 L274.2 308.6 L274.5 308.6 L274.7 308.5 L275.0 308.3 L275.2 308.5 L275.5 308.4 L275.7 308.3 L276.0 308.2 L276.2 307.7 L276.5 307.1 L276.8 306.5 L276.8 306.5 L277.0 306.9 L277.3 307.5 L277.5 308.0 L277.8 308.2 L278.0 308.3 L278.3 308.3 L278.5 308.4 L278.8 308.5 L279.1 308.4 L279.3 308.6 L279.6 308.4 L279.8 308.3 L280.1 308.5 L280.3 308.3 L280.6 308.6 L280.9 308.3 L281.1 308.4 L281.4 308.3 L281.6 308.2 L281.9 308.0 L282.1 307.9 L282.4 308.0 L282.6 307.7 L282.9 307.4 L283.2 306.2 L283.4 304.9 L283.7 302.1 L283.9 298.6 L284.2 296.3 L284.4 298.6 L284.7 302.2 L284.9 304.9 L285.2 306.5 L285.5 307.2 L285.7 307.8 L286.0 307.8 L286.2 308.2 L286.5 307.9 L286.7 308.2 L287.0 308.2 L287.3 308.3 L287.5 308.5 L287.8 308.5 L288.0 308.4 L288.3 308.6 L288.5 308.2 L288.8 308.3 L289.0 308.5 L289.3 308.3 L289.6 307.9 L289.8 307.8 L290.1 307.0 L290.3 306.5 L290.6 306.0 L290.8 306.3 L291.1 307.2 L291.3 307.5 L291.6 307.9 L291.9 307.8 L292.1 307.5 L292.4 306.7 L292.6 306.1 L292.8 305.7 L292.9 305.9 L293.1 306.4 L293.4 307.5 L293.7 307.8 L293.9 307.9 L294.2 308.4 L294.4 308.5 L294.7 308.4 L294.9 308.7 L295.2 308.6 L295.4 308.6 L295.7 308.5 L296.0 308.3 L296.2 308.7 L296.5 308.7 L296.7 308.6 L297.0 308.5 L297.2 308.6 L297.5 308.5 L297.7 308.6 L298.0 308.7 L298.3 308.8 L298.5 308.7 L298.8 308.7 L299.0 308.7 L299.3 308.8 L299.5 308.6 L299.8 308.5 L300.1 308.6 L300.3 308.5 L300.6 308.6 L300.8 308.6 L301.1 308.7 L301.3 308.7 L301.6 308.7 L301.8 308.6 L302.1 308.7 L302.4 308.7 L302.6 308.7 L302.9 308.8 L303.1 308.6 L303.4 308.6 L303.6 308.8 L303.9 308.7 L304.1 308.7 L304.4 308.6 L304.7 308.7 L304.9 308.6 L305.2 308.5 L305.4 308.6 L305.7 308.6 L305.9 308.7 L306.2 308.5 L306.5 308.5 L306.7 308.5 L307.0 308.5 L307.2 308.3 L307.5 308.3 L307.7 307.9 L308.0 307.5 L308.2 306.7 L308.5 305.6 L308.8 304.6 L308.8 304.5 L309.0 304.9 L309.3 306.1 L309.5 307.1 L309.8 307.8 L310.0 308.1 L310.3 308.3 L310.5 308.4 L310.8 308.6 L311.1 308.5 L311.3 308.5 L311.6 308.5 L311.8 308.6 L312.1 308.7 L312.3 308.8 L312.6 308.7 L312.9 308.8 L313.1 308.8 L313.4 308.6 L313.6 308.8 L313.9 308.8 L314.1 308.8 L314.4 308.7 L314.6 308.8 L314.9 308.6 L315.2 308.7 L315.4 308.7 L315.7 308.9 L315.9 308.7 L316.2 308.8 L316.4 308.7 L316.7 308.6 L316.9 308.7 L317.2 308.8 L317.5 308.6 L317.7 308.8 L318.0 308.6 L318.2 308.6 L318.5 308.7 L318.7 308.7 L319.0 308.6 L319.3 308.5 L319.5 308.7 L319.8 308.7 L320.0 308.6 L320.3 308.7 L320.5 308.5 L320.8 308.7 L321.0 308.7 L321.3 308.7 L321.6 308.6 L321.8 308.7 L322.1 308.7 L322.3 308.8 L322.6 308.7 L322.8 308.7 L323.1 308.6 L323.3 308.8 L323.6 308.8 L323.9 308.6 L324.1 308.8 L324.4 308.7 L324.6 308.7 L324.9 308.6 L325.1 308.9 L325.4 308.5 L325.7 308.7 L325.9 308.6 L326.2 308.8 L326.4 308.6 L326.7 308.7 L326.9 308.7 L327.2 308.7 L327.4 308.6 L327.7 308.8 L328.0 308.7 L328.2 308.8 L328.5 308.6 L328.7 308.7 L329.0 308.6 L329.2 308.6 L329.5 308.7 L329.7 308.7 L330.0 308.8 L330.3 308.6 L330.5 308.7 L330.8 308.8 L331.0 308.7 L331.3 308.7 L331.5 308.7 L331.8 308.6 L332.1 308.6 L332.3 308.8 L332.6 308.7 L332.8 308.6 L333.1 308.5 L333.3 308.7 L333.6 308.8 L333.8 308.5 L334.1 308.5 L334.4 308.7 L334.6 308.7 L334.9 308.7 L335.1 308.4 L335.4 308.3 L335.6 307.9 L335.9 307.8 L336.0 307.7 L336.1 307.8 L336.4 308.1 L336.7 308.3 L336.9 308.4 L337.2 308.5 L337.4 308.6 L337.7 308.5 L337.9 308.6 L338.2 308.6 L338.5 308.7 L338.7 308.4 L339.0 308.4 L339.2 308.4 L339.5 308.6 L339.7 308.8 L340.0 308.5 L340.2 308.5 L340.5 308.5 L340.8 308.1 L341.0 308.3 L341.3 307.9 L341.5 308.2 L341.8 307.9 L342.0 307.7 L342.3 307.5 L342.5 306.8 L342.8 305.8 L343.1 303.5 L343.3 300.2 L343.6 297.0 L343.7 296.1 L343.8 296.8 L344.1 300.1 L344.3 303.7 L344.6 305.8 L344.9 306.8 L345.1 307.5 L345.4 307.9 L345.6 308.1 L345.9 308.1 L346.1 308.2 L346.4 308.4 L346.6 308.2 L346.9 308.4 L347.2 308.5 L347.4 308.6 L347.7 308.7 L347.9 308.7 L348.2 308.6 L348.4 308.6 L348.7 308.5 L348.9 308.6 L349.2 308.6 L349.5 308.6 L349.7 308.6 L350.0 308.7 L350.2 308.5 L350.5 308.6 L350.7 308.5 L351.0 308.8 L351.3 308.5 L351.5 308.5 L351.8 308.7 L352.0 308.6 L352.3 308.8 L352.5 308.6 L352.8 308.9 L353.0 308.7 L353.3 308.7 L353.6 308.7 L353.8 308.7 L354.1 308.8 L354.3 308.9 L354.6 308.6 L354.8 308.6 L355.1 308.7 L355.3 308.8 L355.6 308.5 L355.9 308.6 L356.1 308.6 L356.4 308.7 L356.6 308.7 L356.9 308.6 L357.1 308.6 L357.4 308.7 L357.7 308.5 L357.9 308.7 L358.2 308.7 L358.4 308.9 L358.7 308.8 L358.9 308.6 L359.2 308.7 L359.4 308.7 L359.7 308.6 L360.0 308.7 L360.2 308.8 L360.5 308.5 L360.7 308.7 L361.0 308.8 L361.2 308.8 L361.5 308.6 L361.7 308.6 L362.0 308.6 L362.3 308.5 L362.5 308.8 L362.8 308.7 L363.0 308.6 L363.3 308.5 L363.5 308.6 L363.8 308.6 L364.1 308.8 L364.3 308.6 L364.6 308.7 L364.8 308.8 L365.1 308.7 L365.3 308.6 L365.6 308.4 L365.8 308.8 L366.1 308.7 L366.4 308.5 L366.6 308.4 L366.9 308.2 L367.1 307.9 L367.4 307.8 L367.6 308.1 L367.9 308.3 L368.1 308.5 L368.4 308.6 L368.7 308.6 L368.9 308.6 L369.2 308.5 L369.4 308.7 L369.7 308.8 L369.9 308.7 L370.2 308.8 L370.5 308.6 L370.7 308.6 L371.0 308.8 L371.2 308.6 L371.5 308.7 L371.7 308.6 L372.0 308.6 L372.2 308.6 L372.5 308.6 L372.8 308.4 L373.0 308.8 L373.3 308.6 L373.5 308.4 L373.8 308.5 L374.0 308.4 L374.3 308.4 L374.5 308.2 L374.8 308.4 L375.1 308.4 L375.3 307.9 L375.6 307.5 L375.8 306.5 L376.1 305.1 L376.3 304.6 L376.6 305.1 L376.9 306.4 L377.1 307.3 L377.4 308.0 L377.6 308.2 L377.9 308.3 L378.1 308.4 L378.4 308.5 L378.6 308.5 L378.9 308.6 L379.2 308.7 L379.4 308.7 L379.7 308.6 L379.9 308.6 L380.2 308.8 L380.4 308.7 L380.7 308.6 L380.9 308.8 L381.2 308.8 L381.5 308.7 L381.7 308.7 L382.0 308.6 L382.2 308.8 L382.5 308.6 L382.7 308.8 L383.0 308.6 L383.3 308.7 L383.5 308.7 L383.8 308.7 L384.0 308.7 L384.3 308.7 L384.5 308.6 L384.8 308.6 L385.0 308.7 L385.3 308.9 L385.6 308.7 L385.8 308.6 L386.1 308.6 L386.3 308.7 L386.6 308.8 L386.8 308.6 L387.1 308.7 L387.3 308.7 L387.6 308.7 L387.9 308.6 L388.1 308.7 L388.4 308.6 L388.6 308.7 L388.9 308.5 L389.1 308.8 L389.4 308.8 L389.7 308.8 L389.9 308.8 L390.2 308.8 L390.4 308.5 L390.7 308.7 L390.9 308.7 L391.2 308.6 L391.4 308.6 L391.7 308.7 L392.0 308.7 L392.2 308.7 L392.5 308.7 L392.7 308.6 L393.0 308.6 L393.2 308.7 L393.5 308.8 L393.7 308.5 L394.0 308.7 L394.3 308.9 L394.5 308.7 L394.8 308.7 L395.0 308.8 L395.3 308.6 L395.5 308.6 L395.8 308.5 L396.1 308.6 L396.3 308.7 L396.6 308.8 L396.8 308.7 L397.1 308.6 L397.3 308.7 L397.6 308.8 L397.8 308.7 L398.1 308.5 L398.4 308.6 L398.6 308.5 L398.9 308.7 L399.1 308.6 L399.4 308.6 L399.6 308.8 L399.9 308.8 L400.1 308.7 L400.4 308.7 L400.7 308.7 L400.9 308.6 L401.2 308.7 L401.4 308.9 L401.7 308.6 L401.9 308.6 L402.2 308.7 L402.5 308.8 L402.7 308.8 L403.0 308.6 L403.2 308.7 L403.5 308.7 L403.7 308.6 L404.0 308.7 L404.2 308.7 L404.5 308.8 L404.8 308.7 L405.0 308.6 L405.3 308.7 L405.5 308.7 L405.8 308.6 L406.0 308.7 L406.3 308.8 L406.5 308.7 L406.8 308.5 L407.1 308.6 L407.3 308.8 L407.6 308.9 L407.8 308.6 L408.1 308.7 L408.3 308.7 L408.6 308.6 L408.9 308.7 L409.1 308.7 L409.4 308.7 L409.6 308.9 L409.9 308.7 L410.1 308.8 L410.4 308.8 L410.6 308.6 L410.9 308.6 L411.2 308.8 L411.4 308.8 L411.7 308.7 L411.9 308.6 L412.2 308.8 L412.4 308.7 L412.7 308.9 L412.9 308.8 L413.2 308.8 L413.5 308.7 L413.7 308.7 L414.0 308.6 L414.2 308.7 L414.5 308.7 L414.7 308.8 L415.0 308.8 L415.3 308.7 L415.5 308.6 L415.8 308.8 L416.0 308.8 L416.3 308.6 L416.5 308.7 L416.8 308.7 L417.0 308.7 L417.3 308.7 L417.6 308.7 L417.8 308.7 L418.1 308.9 L418.3 308.9 L418.6 308.6 L418.8 308.4 L419.1 308.7 L419.3 308.6 L419.6 308.6 L419.9 308.5 L420.1 308.7 L420.4 308.7 L420.6 308.6 L420.9 308.8 L421.1 308.9 L421.4 308.8 L421.7 308.8 L421.9 308.6 L422.2 308.7 L422.4 308.7 L422.7 308.8 L422.9 308.7 L423.2 308.7 L423.4 308.7 L423.7 308.6 L424.0 308.7 L424.2 308.8 L424.5 308.6 L424.7 308.7 L425.0 308.5 L425.2 308.7 L425.5 308.7 L425.7 308.5 L426.0 308.8 L426.3 308.6 L426.5 308.4 L426.8 308.4 L427.0 308.6 L427.3 308.4 L427.5 308.4 L427.8 308.0 L428.1 307.8 L428.3 307.2 L428.6 306.1 L428.8 305.8 L429.1 306.2 L429.3 307.1 L429.6 307.8 L429.8 308.4 L430.1 308.2 L430.4 308.5 L430.6 308.6 L430.9 308.4 L431.1 308.6 L431.4 308.8 L431.6 308.7 L431.9 308.3 L432.1 308.6 L432.4 308.5 L432.7 308.7 L432.9 308.6 L433.2 308.6 L433.4 308.6 L433.7 308.7 L433.9 308.6 L434.2 308.6 L434.5 308.7 L434.7 308.7 L435.0 308.6 L435.2 308.8 L435.5 308.5 L435.7 308.7 L436.0 308.6 L436.2 308.8 L436.5 308.6" fill="none" stroke="#2424ff" stroke-width="1.05" stroke-linejoin="round"/><path d="M52.5 355.4 L52.8 353.9 L52.8 353.9 L53.0 354.9 L53.3 356.3 L53.5 357.8 L53.8 358.8 L54.0 359.2 L54.3 359.4 L54.5 359.5 L54.8 359.6 L55.1 359.9 L55.3 359.7 L55.6 359.9 L55.8 359.7 L56.1 359.8 L56.3 359.9 L56.6 360.0 L56.9 359.8 L57.1 360.0 L57.4 360.0 L57.6 359.9 L57.9 360.0 L58.1 359.9 L58.4 359.9 L58.6 359.9 L58.9 359.7 L59.2 359.9 L59.4 359.9 L59.7 359.8 L59.9 359.9 L60.2 360.0 L60.4 359.9 L60.7 360.1 L60.9 359.8 L61.2 359.8 L61.5 360.1 L61.7 360.0 L62.0 360.0 L62.2 359.8 L62.5 359.9 L62.7 359.8 L63.0 359.8 L63.3 359.5 L63.5 359.3 L63.8 358.7 L64.0 358.4 L64.3 358.6 L64.5 359.3 L64.8 359.4 L65.0 359.6 L65.3 359.7 L65.6 359.8 L65.8 359.8 L66.1 359.9 L66.3 359.9 L66.6 359.9 L66.8 359.9 L67.1 360.0 L67.3 359.9 L67.6 360.0 L67.9 360.0 L68.1 360.0 L68.4 359.7 L68.6 359.9 L68.9 359.9 L69.1 360.0 L69.4 359.8 L69.7 359.9 L69.9 359.9 L70.2 359.9 L70.4 360.1 L70.7 359.9 L70.9 360.1 L71.2 359.8 L71.4 359.8 L71.7 360.1 L72.0 360.0 L72.2 360.0 L72.5 360.0 L72.7 360.0 L73.0 359.8 L73.2 360.1 L73.5 359.9 L73.7 360.1 L74.0 360.0 L74.3 359.7 L74.5 359.8 L74.8 360.0 L75.0 359.9 L75.3 359.9 L75.5 359.9 L75.8 359.8 L76.1 359.8 L76.3 359.8 L76.6 359.8 L76.8 359.9 L77.1 359.7 L77.3 359.7 L77.6 359.5 L77.8 359.1 L78.1 358.2 L78.4 356.9 L78.6 355.6 L78.7 355.4 L78.9 355.6 L79.1 356.9 L79.4 358.0 L79.6 359.0 L79.9 359.4 L80.1 359.5 L80.4 359.5 L80.7 359.7 L80.9 359.7 L81.2 359.7 L81.4 359.7 L81.7 359.6 L81.9 359.9 L82.2 359.9 L82.5 360.2 L82.7 359.9 L83.0 359.9 L83.2 360.1 L83.5 359.9 L83.7 359.9 L84.0 359.9 L84.2 359.9 L84.5 360.1 L84.8 360.0 L85.0 360.1 L85.3 359.9 L85.5 359.9 L85.8 359.8 L86.0 360.0 L86.3 359.8 L86.5 360.0 L86.8 360.0 L87.1 360.1 L87.3 359.8 L87.6 360.0 L87.8 359.8 L88.1 359.8 L88.3 359.8 L88.6 360.0 L88.9 360.1 L89.1 359.8 L89.4 359.8 L89.6 359.8 L89.9 360.1 L90.1 359.9 L90.4 359.7 L90.6 359.6 L90.9 359.7 L91.2 359.8 L91.4 359.8 L91.7 359.6 L91.9 359.4 L92.2 359.3 L92.4 359.0 L92.7 359.0 L92.9 358.2 L93.2 357.4 L93.5 355.3 L93.7 352.4 L94.0 349.6 L94.1 348.9 L94.2 349.6 L94.5 352.5 L94.7 355.3 L95.0 357.4 L95.3 358.4 L95.5 358.6 L95.8 359.3 L96.0 359.3 L96.3 359.5 L96.5 359.3 L96.8 359.5 L97.0 359.6 L97.3 359.7 L97.6 359.5 L97.8 359.6 L98.1 359.5 L98.3 359.7 L98.6 359.7 L98.8 359.5 L99.1 359.6 L99.3 359.7 L99.6 359.7 L99.9 359.6 L100.1 359.4 L100.4 359.2 L100.6 359.1 L100.9 358.9 L101.1 358.6 L101.4 357.8 L101.7 356.6 L101.9 354.1 L102.2 350.8 L102.4 349.2 L102.7 351.0 L102.9 354.1 L103.2 356.4 L103.4 357.6 L103.7 358.4 L104.0 359.0 L104.2 359.1 L104.5 359.2 L104.7 359.4 L105.0 359.5 L105.2 359.6 L105.5 359.6 L105.7 359.7 L106.0 359.5 L106.3 359.6 L106.5 359.4 L106.8 359.6 L107.0 359.5 L107.3 359.5 L107.5 359.5 L107.8 359.3 L108.1 359.2 L108.3 358.9 L108.6 358.3 L108.8 357.3 L109.1 355.8 L109.3 354.2 L109.5 354.0 L109.6 354.2 L109.8 356.0 L110.1 357.1 L110.4 358.0 L110.6 358.2 L110.9 358.4 L111.1 358.4 L111.4 358.3 L111.6 357.9 L111.9 357.8 L112.1 357.0 L112.4 356.3 L112.7 354.5 L112.9 351.9 L113.2 346.6 L113.4 337.3 L113.7 324.8 L113.9 317.5 L114.2 324.8 L114.5 337.1 L114.7 346.6 L115.0 351.8 L115.2 354.9 L115.5 356.4 L115.7 357.2 L116.0 357.7 L116.2 358.2 L116.5 358.7 L116.8 358.9 L117.0 358.9 L117.3 359.1 L117.5 358.9 L117.8 359.0 L118.0 359.1 L118.3 359.1 L118.5 359.1 L118.8 359.0 L119.1 359.0 L119.3 358.1 L119.6 357.2 L119.8 355.9 L120.0 355.5 L120.1 355.7 L120.3 356.7 L120.6 357.6 L120.9 358.6 L121.1 359.0 L121.4 359.3 L121.6 359.3 L121.9 359.4 L122.1 359.4 L122.4 359.7 L122.6 359.7 L122.9 359.7 L123.2 359.5 L123.4 359.7 L123.7 359.7 L123.9 359.6 L124.2 359.7 L124.4 359.8 L124.7 359.8 L124.9 359.8 L125.2 359.8 L125.5 359.7 L125.7 359.8 L126.0 359.8 L126.2 359.8 L126.5 359.7 L126.7 359.7 L127.0 359.7 L127.3 359.7 L127.5 359.9 L127.8 359.8 L128.0 359.8 L128.3 359.9 L128.5 359.8 L128.8 359.5 L129.0 359.8 L129.3 359.8 L129.6 359.8 L129.8 359.8 L130.1 359.7 L130.3 359.5 L130.6 359.5 L130.8 359.6 L131.1 359.6 L131.3 359.4 L131.6 359.4 L131.9 359.4 L132.1 359.4 L132.4 359.4 L132.6 359.3 L132.9 359.1 L133.1 359.3 L133.4 359.3 L133.7 359.0 L133.9 358.9 L134.2 358.7 L134.4 358.5 L134.7 358.1 L134.9 357.4 L135.2 356.4 L135.4 354.7 L135.7 351.8 L136.0 349.9 L136.0 349.7 L136.2 350.3 L136.5 352.3 L136.7 353.7 L137.0 354.0 L137.2 353.4 L137.5 351.8 L137.7 348.7 L138.0 342.3 L138.3 330.5 L138.5 311.5 L138.8 292.7 L138.9 289.2 L139.0 292.4 L139.3 311.7 L139.5 330.5 L139.8 342.4 L140.1 348.8 L140.3 352.1 L140.6 353.9 L140.8 355.1 L141.1 355.8 L141.3 356.3 L141.6 356.5 L141.8 356.7 L142.1 356.8 L142.4 356.7 L142.6 356.3 L142.9 356.1 L143.1 355.6 L143.4 354.7 L143.6 353.3 L143.9 351.2 L144.1 347.4 L144.4 340.1 L144.7 326.6 L144.9 304.9 L145.2 282.9 L145.3 279.0 L145.4 283.0 L145.7 304.9 L145.9 326.4 L146.2 340.2 L146.5 347.7 L146.7 351.4 L147.0 353.5 L147.2 355.0 L147.5 355.6 L147.7 356.2 L148.0 356.2 L148.2 355.7 L148.5 354.7 L148.8 354.0 L148.8 354.0 L149.0 354.6 L149.3 356.0 L149.5 357.4 L149.8 357.8 L150.0 358.4 L150.3 358.7 L150.5 358.9 L150.8 358.9 L151.1 359.0 L151.3 358.9 L151.6 358.9 L151.8 358.8 L152.1 358.2 L152.3 358.0 L152.6 358.2 L152.9 358.9 L153.1 359.2 L153.4 359.3 L153.6 359.3 L153.9 359.5 L154.1 359.7 L154.4 359.7 L154.6 359.7 L154.9 359.4 L155.2 359.6 L155.4 359.8 L155.7 359.6 L155.9 359.8 L156.2 359.9 L156.4 359.8 L156.7 359.8 L156.9 359.7 L157.2 359.6 L157.5 359.7 L157.7 359.7 L158.0 359.8 L158.2 359.9 L158.5 359.8 L158.7 359.8 L159.0 359.9 L159.3 359.8 L159.5 360.0 L159.8 359.9 L160.0 359.8 L160.3 359.8 L160.5 359.8 L160.8 360.0 L161.0 359.8 L161.3 359.7 L161.6 359.8 L161.8 359.8 L162.1 359.8 L162.3 359.9 L162.6 359.7 L162.8 359.8 L163.1 359.8 L163.3 359.7 L163.6 359.8 L163.9 359.8 L164.1 359.8 L164.4 359.7 L164.6 359.8 L164.9 359.6 L165.1 359.7 L165.4 359.8 L165.7 359.8 L165.9 359.7 L166.2 359.6 L166.4 359.8 L166.7 359.4 L166.9 359.5 L167.2 359.6 L167.4 359.6 L167.7 359.4 L168.0 359.3 L168.2 359.5 L168.5 359.3 L168.7 359.2 L169.0 359.2 L169.2 359.1 L169.5 358.6 L169.7 358.8 L170.0 358.6 L170.3 358.0 L170.5 357.9 L170.8 357.2 L171.0 356.7 L171.3 355.5 L171.5 353.7 L171.8 350.0 L172.1 344.5 L172.3 337.1 L172.5 331.9 L172.6 330.7 L172.8 326.3 L173.1 318.1 L173.3 307.7 L173.5 306.5 L173.6 309.8 L173.8 324.3 L174.1 338.3 L174.4 346.9 L174.6 351.9 L174.9 354.3 L175.1 355.9 L175.4 356.5 L175.6 357.4 L175.9 357.8 L176.1 358.2 L176.4 358.4 L176.7 358.6 L176.9 358.8 L177.2 358.7 L177.4 359.0 L177.7 359.1 L177.9 359.1 L178.2 359.0 L178.5 359.0 L178.6 359.1 L178.7 359.0 L179.0 359.2 L179.2 359.5 L179.5 359.6 L179.7 359.6 L180.0 359.7 L180.2 359.6 L180.5 359.6 L180.8 359.8 L181.0 359.6 L181.3 359.7 L181.5 359.7 L181.8 359.7 L182.0 359.7 L182.3 359.8 L182.5 359.7 L182.8 359.8 L183.1 359.8 L183.3 359.8 L183.6 359.8 L183.8 359.6 L184.1 359.6 L184.3 359.6 L184.6 359.7 L184.9 359.8 L185.1 359.4 L185.4 359.4 L185.6 359.1 L185.9 358.9 L185.9 359.0 L186.1 359.1 L186.4 359.2 L186.6 359.5 L186.9 359.3 L187.2 359.5 L187.4 359.5 L187.7 359.3 L187.9 359.3 L188.2 359.1 L188.4 358.9 L188.7 358.7 L188.9 358.4 L189.2 358.2 L189.5 357.1 L189.7 355.8 L190.0 352.7 L190.2 347.7 L190.5 341.0 L190.7 336.9 L191.0 341.0 L191.3 347.7 L191.5 352.5 L191.8 355.7 L192.0 357.2 L192.3 358.0 L192.5 358.6 L192.8 358.7 L193.0 359.0 L193.3 359.1 L193.6 359.1 L193.8 359.3 L194.1 359.1 L194.3 359.1 L194.6 359.3 L194.8 359.1 L195.1 359.1 L195.3 358.9 L195.6 358.8 L195.9 358.3 L196.1 357.8 L196.4 356.2 L196.6 354.1 L196.9 350.8 L197.1 349.0 L197.4 350.9 L197.7 354.1 L197.9 356.3 L198.2 357.6 L198.4 358.5 L198.7 358.8 L198.9 359.1 L199.2 359.3 L199.4 359.2 L199.7 359.4 L200.0 359.5 L200.2 359.5 L200.5 359.7 L200.7 359.6 L201.0 359.6 L201.2 359.6 L201.5 359.8 L201.7 359.6 L202.0 359.8 L202.3 359.8 L202.5 359.5 L202.8 359.6 L203.0 359.7 L203.3 359.7 L203.5 359.8 L203.8 359.8 L204.1 359.8 L204.3 359.6 L204.6 359.6 L204.8 359.7 L205.1 359.6 L205.3 359.7 L205.6 359.4 L205.8 359.6 L206.1 359.5 L206.4 359.3 L206.6 359.5 L206.9 359.4 L207.1 359.3 L207.4 359.1 L207.6 359.0 L207.9 359.1 L208.1 358.6 L208.4 357.9 L208.7 357.4 L208.9 356.3 L209.2 355.3 L209.3 355.0 L209.4 355.0 L209.7 355.7 L209.9 356.4 L210.2 356.3 L210.5 356.4 L210.7 355.3 L211.0 354.0 L211.2 351.9 L211.5 347.5 L211.7 338.9 L212.0 324.5 L212.2 304.7 L212.5 293.4 L212.8 305.0 L213.0 324.5 L213.3 339.0 L213.5 347.6 L213.8 352.0 L214.0 354.3 L214.3 355.5 L214.5 356.6 L214.8 357.3 L215.1 357.8 L215.3 358.3 L215.6 358.4 L215.8 358.5 L216.1 358.8 L216.3 359.0 L216.6 358.9 L216.9 359.2 L217.1 358.9 L217.4 359.3 L217.6 359.2 L217.9 359.4 L218.1 359.4 L218.4 359.2 L218.6 359.4 L218.9 359.4 L219.2 359.4 L219.4 359.2 L219.7 359.0 L219.9 358.7 L220.2 358.7 L220.4 357.8 L220.7 357.1 L220.8 356.9 L220.9 357.2 L221.2 357.6 L221.5 358.4 L221.7 358.6 L222.0 358.6 L222.2 358.5 L222.5 357.8 L222.7 357.0 L223.0 355.2 L223.3 352.1 L223.5 348.6 L223.7 347.3 L223.8 347.6 L224.0 350.0 L224.3 353.8 L224.5 356.2 L224.8 357.6 L225.0 358.4 L225.3 358.8 L225.6 359.0 L225.8 359.0 L226.1 359.2 L226.3 359.2 L226.6 359.0 L226.8 359.0 L227.1 358.6 L227.3 358.1 L227.6 357.5 L227.9 357.0 L228.1 357.5 L228.4 358.1 L228.6 358.8 L228.9 359.0 L229.1 359.3 L229.4 359.4 L229.7 359.5 L229.9 359.5 L230.2 359.2 L230.4 359.2 L230.7 359.1 L230.9 359.1 L231.2 359.1 L231.4 358.8 L231.7 358.2 L232.0 357.9 L232.2 357.3 L232.5 356.2 L232.7 353.8 L233.0 349.6 L233.2 342.9 L233.5 335.8 L233.6 334.5 L233.7 336.0 L234.0 342.8 L234.3 349.5 L234.5 353.7 L234.8 356.0 L235.0 357.2 L235.3 358.1 L235.5 358.5 L235.8 358.9 L236.1 359.0 L236.3 359.1 L236.6 359.2 L236.8 359.6 L237.1 359.3 L237.3 359.5 L237.6 359.5 L237.8 359.6 L238.1 359.4 L238.4 359.4 L238.6 359.3 L238.9 358.8 L239.1 358.2 L239.4 358.0 L239.6 358.2 L239.9 358.8 L240.1 359.2 L240.4 359.5 L240.7 359.8 L240.9 359.8 L241.2 359.7 L241.4 359.8 L241.7 359.8 L241.9 359.9 L242.2 359.8 L242.5 359.9 L242.7 359.8 L243.0 359.8 L243.2 359.9 L243.5 360.0 L243.7 359.9 L244.0 359.9 L244.2 359.8 L244.5 359.7 L244.8 359.5 L245.0 359.6 L245.3 359.2 L245.5 358.7 L245.8 358.4 L246.0 358.9 L246.3 359.0 L246.5 359.7 L246.8 359.8 L247.1 360.0 L247.3 359.8 L247.6 359.9 L247.8 359.8 L248.1 359.9 L248.3 359.9 L248.6 359.9 L248.9 360.0 L249.1 359.9 L249.4 359.9 L249.6 360.0 L249.9 359.9 L250.1 359.9 L250.4 360.0 L250.6 359.9 L250.9 359.8 L251.2 360.0 L251.4 359.9 L251.7 360.1 L251.9 359.9 L252.2 360.1 L252.4 359.9 L252.7 359.9 L252.9 359.9 L253.2 360.0 L253.5 360.1 L253.7 360.2 L254.0 359.9 L254.2 360.1 L254.5 360.1 L254.7 360.1 L255.0 359.9 L255.3 360.1 L255.5 360.0 L255.8 360.0 L256.0 359.9 L256.3 360.0 L256.5 360.1 L256.8 360.1 L257.0 359.9 L257.3 360.0 L257.6 360.1 L257.8 359.8 L258.1 360.0 L258.3 359.7 L258.6 359.8 L258.8 359.7 L259.1 359.5 L259.3 359.0 L259.6 358.3 L259.9 357.9 L260.1 358.2 L260.4 359.0 L260.6 359.3 L260.9 359.6 L261.1 359.8 L261.4 359.8 L261.7 359.8 L261.9 359.9 L262.2 360.1 L262.4 360.1 L262.7 359.9 L262.9 359.8 L263.2 360.0 L263.4 360.0 L263.7 360.0 L264.0 360.0 L264.2 359.9 L264.5 360.1 L264.7 360.1 L265.0 360.0 L265.2 359.9 L265.5 359.9 L265.7 360.0 L266.0 359.9 L266.3 360.0 L266.5 359.9 L266.8 359.8 L267.0 360.0 L267.3 360.0 L267.5 360.0 L267.8 360.0 L268.1 359.8 L268.3 359.9 L268.6 360.0 L268.8 360.0 L269.1 359.8 L269.3 359.9 L269.6 359.7 L269.8 359.7 L270.1 359.4 L270.4 359.1 L270.4 359.2 L270.6 359.1 L270.9 359.3 L271.1 359.6 L271.4 359.7 L271.6 359.8 L271.9 359.7 L272.1 359.9 L272.4 360.0 L272.7 360.0 L272.9 359.9 L273.2 360.1 L273.4 359.9 L273.7 359.9 L273.9 359.8 L274.2 359.9 L274.5 359.9 L274.7 360.1 L275.0 360.0 L275.2 359.8 L275.5 360.0 L275.7 360.0 L276.0 359.9 L276.2 360.0 L276.5 359.9 L276.8 359.9 L277.0 359.8 L277.3 359.9 L277.5 360.1 L277.8 360.1 L278.0 359.9 L278.3 359.8 L278.5 359.9 L278.8 360.0 L279.1 359.9 L279.3 359.8 L279.6 359.9 L279.8 359.8 L280.1 359.9 L280.3 359.8 L280.6 359.7 L280.9 359.8 L281.1 359.8 L281.4 359.6 L281.6 359.6 L281.9 359.7 L282.1 359.4 L282.4 359.3 L282.6 359.3 L282.9 358.9 L283.2 358.2 L283.4 356.8 L283.7 354.8 L283.9 351.6 L284.2 349.9 L284.4 351.8 L284.7 354.8 L284.9 356.7 L285.2 358.0 L285.5 358.8 L285.7 358.9 L286.0 359.4 L286.2 359.5 L286.5 359.5 L286.7 359.7 L287.0 359.7 L287.3 359.7 L287.5 359.8 L287.8 359.9 L288.0 359.7 L288.3 359.7 L288.5 359.7 L288.8 359.8 L289.0 359.6 L289.3 359.7 L289.6 359.5 L289.8 359.4 L290.1 359.2 L290.3 358.5 L290.6 357.8 L290.8 357.1 L290.9 357.1 L291.1 357.2 L291.3 358.1 L291.6 358.7 L291.9 358.9 L292.1 359.2 L292.4 359.1 L292.6 359.0 L292.9 358.8 L293.1 357.9 L293.4 356.5 L293.7 354.3 L293.9 351.9 L294.1 350.9 L294.2 351.1 L294.4 353.3 L294.7 355.9 L294.9 357.5 L295.2 358.5 L295.4 358.9 L295.7 359.3 L296.0 359.6 L296.2 359.7 L296.5 359.4 L296.7 359.8 L297.0 359.9 L297.2 359.8 L297.5 359.7 L297.7 359.8 L298.0 359.9 L298.3 359.9 L298.5 359.8 L298.8 359.8 L299.0 360.0 L299.3 359.8 L299.5 360.0 L299.8 359.9 L300.1 359.9 L300.3 359.8 L300.6 359.9 L300.8 360.0 L301.1 359.8 L301.3 360.1 L301.6 359.8 L301.8 359.8 L302.1 359.9 L302.4 360.0 L302.6 360.0 L302.9 359.9 L303.1 359.9 L303.4 359.9 L303.6 359.9 L303.9 359.7 L304.1 360.0 L304.4 360.0 L304.7 359.9 L304.9 359.9 L305.2 359.9 L305.4 359.9 L305.7 359.9 L305.9 360.0 L306.2 359.7 L306.5 359.9 L306.7 359.7 L307.0 359.8 L307.2 359.9 L307.5 359.6 L307.7 359.5 L308.0 359.3 L308.2 359.0 L308.5 358.1 L308.8 356.9 L309.0 356.0 L309.1 355.7 L309.3 355.9 L309.5 357.2 L309.8 358.1 L310.0 358.9 L310.3 359.4 L310.5 359.6 L310.8 359.6 L311.1 359.9 L311.3 360.0 L311.6 359.8 L311.8 360.0 L312.1 359.7 L312.3 360.0 L312.6 359.9 L312.9 359.9 L313.1 359.9 L313.4 359.9 L313.6 359.8 L313.9 359.9 L314.1 360.1 L314.4 360.1 L314.6 359.9 L314.9 359.9 L315.2 359.9 L315.4 359.9 L315.7 360.2 L315.9 360.0 L316.2 360.0 L316.4 359.9 L316.7 359.9 L316.9 360.1 L317.2 360.1 L317.5 359.9 L317.7 360.1 L318.0 359.9 L318.2 360.1 L318.5 359.9 L318.7 359.9 L319.0 360.0 L319.3 360.0 L319.5 360.1 L319.8 359.9 L320.0 360.1 L320.3 360.1 L320.5 360.0 L320.8 360.0 L321.0 359.9 L321.3 360.0 L321.6 359.9 L321.8 360.0 L322.1 360.0 L322.3 360.1 L322.6 360.1 L322.8 360.1 L323.1 360.0 L323.3 360.0 L323.6 360.0 L323.9 360.0 L324.1 359.8 L324.4 360.1 L324.6 359.8 L324.9 359.9 L325.1 360.0 L325.4 359.9 L325.7 360.1 L325.9 360.0 L326.2 360.1 L326.4 360.1 L326.7 359.9 L326.9 360.0 L327.2 360.1 L327.4 359.9 L327.7 360.0 L328.0 359.9 L328.2 360.0 L328.5 359.9 L328.7 360.0 L329.0 360.1 L329.2 360.1 L329.5 360.0 L329.7 360.0 L330.0 360.1 L330.3 359.9 L330.5 359.9 L330.8 360.1 L331.0 359.9 L331.3 360.1 L331.5 359.9 L331.8 360.1 L332.1 359.9 L332.3 360.0 L332.6 360.1 L332.8 359.9 L333.1 360.1 L333.3 359.9 L333.6 359.8 L333.8 360.0 L334.1 360.0 L334.4 359.9 L334.6 359.7 L334.9 359.9 L335.1 359.9 L335.4 359.8 L335.6 359.8 L335.9 359.7 L336.1 359.8 L336.4 359.9 L336.7 359.9 L336.9 359.6 L337.2 359.5 L337.4 359.4 L337.7 359.1 L337.9 358.4 L338.2 357.2 L338.5 356.2 L338.6 356.0 L338.7 356.3 L339.0 357.4 L339.2 358.3 L339.5 359.0 L339.7 359.2 L340.0 359.6 L340.2 359.5 L340.5 359.6 L340.8 359.6 L341.0 359.4 L341.3 359.4 L341.5 359.2 L341.8 359.3 L342.0 359.0 L342.3 358.7 L342.5 358.2 L342.8 356.9 L343.1 355.0 L343.3 351.9 L343.6 348.6 L343.7 348.1 L343.8 348.8 L344.1 351.8 L344.3 355.0 L344.6 357.0 L344.9 358.2 L345.1 358.8 L345.4 359.0 L345.6 359.4 L345.9 359.3 L346.1 359.6 L346.4 359.6 L346.6 359.6 L346.9 359.8 L347.2 359.6 L347.4 359.6 L347.7 359.6 L347.9 359.5 L348.2 359.1 L348.4 358.9 L348.7 358.1 L348.9 357.4 L349.1 357.1 L349.2 357.0 L349.5 357.7 L349.7 358.6 L350.0 358.8 L350.2 359.5 L350.5 359.7 L350.7 359.7 L351.0 359.7 L351.3 359.7 L351.5 359.8 L351.8 360.0 L352.0 359.9 L352.3 360.0 L352.5 359.7 L352.8 359.9 L353.0 359.9 L353.3 359.9 L353.6 359.8 L353.8 359.9 L354.1 360.1 L354.3 359.8 L354.6 359.9 L354.8 359.8 L355.1 359.9 L355.3 360.0 L355.6 360.0 L355.9 359.8 L356.1 360.1 L356.4 359.9 L356.6 359.9 L356.9 360.1 L357.1 360.0 L357.4 359.8 L357.7 359.9 L357.9 359.9 L358.2 359.9 L358.4 359.9 L358.7 360.1 L358.9 360.0 L359.2 359.8 L359.4 360.2 L359.7 359.9 L360.0 360.0 L360.2 360.0 L360.5 360.0 L360.7 359.9 L361.0 360.0 L361.2 360.2 L361.5 360.0 L361.7 359.9 L362.0 360.0 L362.3 359.9 L362.5 359.9 L362.8 360.0 L363.0 360.0 L363.3 359.9 L363.5 360.1 L363.8 360.0 L364.1 359.8 L364.3 360.1 L364.6 359.9 L364.8 360.1 L365.1 359.9 L365.3 360.0 L365.6 360.0 L365.8 359.6 L366.1 359.7 L366.4 359.7 L366.6 359.8 L366.9 359.3 L367.1 359.3 L367.4 359.1 L367.6 359.2 L367.9 359.5 L368.1 359.6 L368.4 359.8 L368.7 359.9 L368.9 359.9 L369.2 360.0 L369.4 359.9 L369.7 359.9 L369.9 359.9 L370.2 360.0 L370.5 359.8 L370.7 359.8 L371.0 359.9 L371.2 359.9 L371.5 359.9 L371.7 359.7 L372.0 359.9 L372.2 359.9 L372.5 360.0 L372.8 359.7 L373.0 359.9 L373.3 359.9 L373.5 359.9 L373.8 359.9 L374.0 359.9 L374.3 359.6 L374.5 359.7 L374.8 359.5 L375.1 359.3 L375.3 359.1 L375.6 358.2 L375.8 357.0 L376.1 355.4 L376.3 354.4 L376.6 355.5 L376.9 357.1 L377.1 358.4 L377.4 359.0 L377.6 359.3 L377.9 359.6 L378.1 359.6 L378.4 359.7 L378.6 359.8 L378.9 359.8 L379.2 360.0 L379.4 359.8 L379.7 359.9 L379.9 359.9 L380.2 359.8 L380.4 359.8 L380.7 359.9 L380.9 360.0 L381.2 360.0 L381.5 360.0 L381.7 360.0 L382.0 359.9 L382.2 360.0 L382.5 359.9 L382.7 359.8 L383.0 359.9 L383.3 359.8 L383.5 359.9 L383.8 359.9 L384.0 359.9 L384.3 360.0 L384.5 359.9 L384.8 359.9 L385.0 359.8 L385.3 360.0 L385.6 359.9 L385.8 360.0 L386.1 359.7 L386.3 359.9 L386.6 360.0 L386.8 359.8 L387.1 360.0 L387.3 360.0 L387.6 360.0 L387.9 359.8 L388.1 360.0 L388.4 360.0 L388.6 359.9 L388.9 360.1 L389.1 360.0 L389.4 360.0 L389.7 359.9 L389.9 360.0 L390.2 360.0 L390.4 360.1 L390.7 360.0 L390.9 359.9 L391.2 360.0 L391.4 360.1 L391.7 360.0 L392.0 360.0 L392.2 360.0 L392.5 360.0 L392.7 359.8 L393.0 360.0 L393.2 360.0 L393.5 360.0 L393.7 359.9 L394.0 360.1 L394.3 360.0 L394.5 359.9 L394.8 359.9 L395.0 360.0 L395.3 359.9 L395.5 359.9 L395.8 360.2 L396.1 360.1 L396.3 360.1 L396.6 360.1 L396.8 360.1 L397.1 359.8 L397.3 360.1 L397.6 360.1 L397.8 360.0 L398.1 359.8 L398.4 360.1 L398.6 360.1 L398.9 360.0 L399.1 360.0 L399.4 360.1 L399.6 360.0 L399.9 360.1 L400.1 360.0 L400.4 360.1 L400.7 360.0 L400.9 359.9 L401.2 359.9 L401.4 360.3 L401.7 360.0 L401.9 360.1 L402.2 360.1 L402.5 360.2 L402.7 360.1 L403.0 359.9 L403.2 360.0 L403.5 359.8 L403.7 360.0 L404.0 360.1 L404.2 359.8 L404.5 360.0 L404.8 360.1 L405.0 360.1 L405.3 359.9 L405.5 359.9 L405.8 359.8 L406.0 359.9 L406.3 360.1 L406.5 360.2 L406.8 359.9 L407.1 360.1 L407.3 360.0 L407.6 360.0 L407.8 360.2 L408.1 359.8 L408.3 360.0 L408.6 360.0 L408.9 360.2 L409.1 360.2 L409.4 360.2 L409.6 360.0 L409.9 360.1 L410.1 360.1 L410.4 360.0 L410.6 360.0 L410.9 360.0 L411.2 360.0 L411.4 359.9 L411.7 360.2 L411.9 360.0 L412.2 359.8 L412.4 360.0 L412.7 360.0 L412.9 360.0 L413.2 360.2 L413.5 360.0 L413.7 360.0 L414.0 359.9 L414.2 360.0 L414.5 360.0 L414.7 360.0 L415.0 360.3 L415.3 360.0 L415.5 359.9 L415.8 360.2 L416.0 360.1 L416.3 360.1 L416.5 360.1 L416.8 360.1 L417.0 360.1 L417.3 360.1 L417.6 360.1 L417.8 360.1 L418.1 359.9 L418.3 360.0 L418.6 359.9 L418.8 360.1 L419.1 360.1 L419.3 359.9 L419.6 360.1 L419.9 360.3 L420.1 360.1 L420.4 359.9 L420.6 360.0 L420.9 360.1 L421.1 360.0 L421.4 360.0 L421.7 360.1 L421.9 360.0 L422.2 359.9 L422.4 360.1 L422.7 360.0 L422.9 360.0 L423.2 359.9 L423.4 359.9 L423.7 359.9 L424.0 359.9 L424.2 359.9 L424.5 359.7 L424.7 360.1 L425.0 359.9 L425.2 359.9 L425.5 360.0 L425.7 359.7 L426.0 360.1 L426.3 359.9 L426.5 360.0 L426.8 359.9 L427.0 359.9 L427.3 359.8 L427.5 359.8 L427.8 359.4 L428.1 359.2 L428.3 358.9 L428.6 358.5 L428.8 357.9 L429.1 358.4 L429.3 358.9 L429.6 359.4 L429.8 359.7 L430.1 359.6 L430.4 359.9 L430.6 359.9 L430.9 359.9 L431.1 359.8 L431.4 359.9 L431.6 359.8 L431.9 359.8 L432.1 360.2 L432.4 360.1 L432.7 360.0 L432.9 360.0 L433.2 359.9 L433.4 359.7 L433.7 359.8 L433.9 360.0 L434.2 360.1 L434.5 360.0 L434.7 359.9 L435.0 360.0 L435.2 359.9 L435.5 359.9 L435.7 360.0 L436.0 360.0 L436.2 359.9 L436.5 359.9" fill="none" stroke="#ff2222" stroke-width="1.05" stroke-linejoin="round"/><path d="M52.5 411.5 L52.8 411.5 L53.0 411.5 L53.3 411.5 L53.5 411.5 L53.8 411.5 L54.0 411.5 L54.3 411.5 L54.5 411.5 L54.8 411.5 L55.1 411.5 L55.3 411.5 L55.6 411.4 L55.8 411.5 L56.1 411.5 L56.3 411.5 L56.6 411.4 L56.9 411.4 L57.1 411.5 L57.4 411.5 L57.6 411.5 L57.9 411.5 L58.1 411.5 L58.4 411.5 L58.6 411.5 L58.9 411.5 L59.2 411.5 L59.4 411.6 L59.7 411.5 L59.9 411.5 L60.2 411.5 L60.4 411.5 L60.7 411.5 L60.9 411.5 L61.2 411.5 L61.5 411.5 L61.7 411.5 L62.0 411.5 L62.2 411.5 L62.5 411.5 L62.7 411.5 L63.0 411.5 L63.3 411.5 L63.5 411.4 L63.8 411.5 L64.0 411.6 L64.3 411.4 L64.5 411.5 L64.8 411.5 L65.0 411.5 L65.3 411.5 L65.6 411.5 L65.8 411.4 L66.1 411.5 L66.3 411.5 L66.6 411.5 L66.8 411.6 L67.1 411.5 L67.3 411.5 L67.6 411.4 L67.9 411.5 L68.1 411.5 L68.4 411.5 L68.6 411.4 L68.9 411.5 L69.1 411.5 L69.4 411.6 L69.7 411.4 L69.9 411.4 L70.2 411.5 L70.4 411.6 L70.7 411.5 L70.9 411.4 L71.2 411.4 L71.4 411.5 L71.7 411.5 L72.0 411.5 L72.2 411.5 L72.5 411.5 L72.7 411.5 L73.0 411.5 L73.2 411.5 L73.5 411.6 L73.7 411.5 L74.0 411.5 L74.3 411.5 L74.5 411.4 L74.8 411.6 L75.0 411.5 L75.3 411.5 L75.5 411.4 L75.8 411.5 L76.1 411.5 L76.3 411.4 L76.6 411.5 L76.8 411.5 L77.1 411.4 L77.3 411.6 L77.6 411.5 L77.8 411.5 L78.1 411.5 L78.4 411.5 L78.6 411.5 L78.9 411.5 L79.1 411.5 L79.4 411.5 L79.6 411.5 L79.9 411.5 L80.1 411.5 L80.4 411.5 L80.7 411.6 L80.9 411.5 L81.2 411.4 L81.4 411.5 L81.7 411.5 L81.9 411.5 L82.2 411.6 L82.5 411.5 L82.7 411.6 L83.0 411.4 L83.2 411.5 L83.5 411.5 L83.7 411.5 L84.0 411.5 L84.2 411.5 L84.5 411.5 L84.8 411.5 L85.0 411.5 L85.3 411.5 L85.5 411.5 L85.8 411.5 L86.0 411.5 L86.3 411.5 L86.5 411.5 L86.8 411.6 L87.1 411.5 L87.3 411.5 L87.6 411.5 L87.8 411.5 L88.1 411.5 L88.3 411.5 L88.6 411.5 L88.9 411.6 L89.1 411.4 L89.4 411.5 L89.6 411.5 L89.9 411.5 L90.1 411.5 L90.4 411.5 L90.6 411.5 L90.9 411.5 L91.2 411.5 L91.4 411.6 L91.7 411.5 L91.9 411.5 L92.2 411.5 L92.4 411.5 L92.7 411.5 L92.9 411.4 L93.2 411.5 L93.5 411.5 L93.7 411.4 L94.0 411.5 L94.2 411.5 L94.5 411.5 L94.7 411.5 L95.0 411.4 L95.3 411.5 L95.5 411.5 L95.8 411.5 L96.0 411.5 L96.3 411.4 L96.5 411.5 L96.8 411.4 L97.0 411.5 L97.3 411.4 L97.6 411.5 L97.8 411.5 L98.1 411.5 L98.3 411.5 L98.6 411.5 L98.8 411.5 L99.1 411.5 L99.3 411.5 L99.6 411.5 L99.9 411.5 L100.1 411.6 L100.4 411.4 L100.6 411.5 L100.9 411.5 L101.1 411.5 L101.4 411.5 L101.7 411.5 L101.9 411.5 L102.2 411.4 L102.4 411.4 L102.7 411.5 L102.9 411.4 L103.2 411.4 L103.4 411.4 L103.7 411.5 L104.0 411.5 L104.2 411.5 L104.5 411.4 L104.7 411.4 L105.0 411.4 L105.2 411.4 L105.5 411.4 L105.7 411.3 L106.0 411.4 L106.3 411.4 L106.5 411.3 L106.8 411.2 L107.0 411.3 L107.3 411.2 L107.5 411.1 L107.8 411.1 L108.1 410.9 L108.3 410.8 L108.6 410.5 L108.8 410.1 L109.1 409.4 L109.3 408.2 L109.6 406.2 L109.8 404.1 L110.1 403.0 L110.4 404.1 L110.6 406.3 L110.9 408.2 L111.1 409.3 L111.4 410.0 L111.6 410.5 L111.9 410.7 L112.1 411.0 L112.4 411.1 L112.7 411.1 L112.9 411.2 L113.2 411.3 L113.4 411.3 L113.7 411.4 L113.9 411.3 L114.2 411.4 L114.5 411.4 L114.7 411.4 L115.0 411.4 L115.2 411.4 L115.5 411.3 L115.7 411.4 L116.0 411.3 L116.2 411.5 L116.5 411.4 L116.8 411.4 L117.0 411.4 L117.3 411.4 L117.5 411.4 L117.8 411.5 L118.0 411.5 L118.3 411.5 L118.5 411.5 L118.8 411.5 L119.1 411.5 L119.3 411.4 L119.6 411.4 L119.8 411.5 L120.1 411.3 L120.3 411.4 L120.6 411.5 L120.9 411.4 L121.1 411.4 L121.4 411.4 L121.6 411.4 L121.9 411.4 L122.1 411.3 L122.4 411.4 L122.6 411.4 L122.9 411.4 L123.2 411.4 L123.4 411.4 L123.7 411.3 L123.9 411.4 L124.2 411.3 L124.4 411.4 L124.7 411.3 L124.9 411.4 L125.2 411.3 L125.5 411.3 L125.7 411.4 L126.0 411.3 L126.2 411.3 L126.5 411.3 L126.7 411.4 L127.0 411.3 L127.3 411.4 L127.5 411.4 L127.8 411.3 L128.0 411.3 L128.3 411.4 L128.5 411.3 L128.8 411.3 L129.0 411.2 L129.3 411.3 L129.6 411.3 L129.8 411.2 L130.1 411.2 L130.3 411.3 L130.6 411.1 L130.8 411.2 L131.1 411.2 L131.3 411.1 L131.6 411.1 L131.9 411.1 L132.1 411.0 L132.4 411.0 L132.6 411.0 L132.9 410.9 L133.1 410.8 L133.4 410.8 L133.7 410.7 L133.9 410.6 L134.2 410.5 L134.4 410.4 L134.7 410.3 L134.9 410.2 L135.2 409.9 L135.4 409.7 L135.7 409.4 L136.0 409.2 L136.2 408.6 L136.5 408.0 L136.7 407.1 L137.0 406.1 L137.2 404.4 L137.5 401.7 L137.7 396.9 L138.0 388.6 L138.3 375.5 L138.5 357.7 L138.8 342.1 L138.9 339.5 L139.0 342.0 L139.3 357.8 L139.5 375.6 L139.8 388.6 L140.1 396.8 L140.3 401.6 L140.6 404.4 L140.8 406.0 L141.1 407.2 L141.3 408.1 L141.6 408.6 L141.8 409.0 L142.1 409.4 L142.4 409.8 L142.6 410.0 L142.9 410.2 L143.1 410.3 L143.4 410.4 L143.6 410.5 L143.9 410.5 L144.1 410.7 L144.4 410.8 L144.7 410.9 L144.9 410.9 L145.2 410.9 L145.4 411.0 L145.7 411.0 L145.9 411.1 L146.2 411.1 L146.5 411.1 L146.7 411.2 L147.0 411.2 L147.2 411.1 L147.5 411.2 L147.7 411.2 L148.0 411.2 L148.2 411.3 L148.5 411.3 L148.8 411.3 L149.0 411.3 L149.3 411.2 L149.5 411.3 L149.8 411.4 L150.0 411.3 L150.3 411.3 L150.5 411.4 L150.8 411.3 L151.1 411.3 L151.3 411.4 L151.6 411.3 L151.8 411.4 L152.1 411.3 L152.3 411.3 L152.6 411.3 L152.9 411.4 L153.1 411.4 L153.4 411.3 L153.6 411.4 L153.9 411.4 L154.1 411.4 L154.4 411.4 L154.6 411.5 L154.9 411.4 L155.2 411.4 L155.4 411.4 L155.7 411.5 L155.9 411.5 L156.2 411.5 L156.4 411.4 L156.7 411.4 L156.9 411.4 L157.2 411.4 L157.5 411.5 L157.7 411.4 L158.0 411.5 L158.2 411.5 L158.5 411.6 L158.7 411.5 L159.0 411.5 L159.3 411.5 L159.5 411.6 L159.8 411.5 L160.0 411.5 L160.3 411.5 L160.5 411.5 L160.8 411.4 L161.0 411.5 L161.3 411.5 L161.6 411.5 L161.8 411.5 L162.1 411.5 L162.3 411.5 L162.6 411.5 L162.8 411.5 L163.1 411.5 L163.3 411.5 L163.6 411.5 L163.9 411.4 L164.1 411.4 L164.4 411.5 L164.6 411.4 L164.9 411.4 L165.1 411.4 L165.4 411.4 L165.7 411.5 L165.9 411.5 L166.2 411.4 L166.4 411.4 L166.7 411.4 L166.9 411.5 L167.2 411.4 L167.4 411.4 L167.7 411.4 L168.0 411.4 L168.2 411.3 L168.5 411.4 L168.7 411.4 L169.0 411.3 L169.2 411.3 L169.5 411.3 L169.7 411.2 L170.0 411.1 L170.3 411.1 L170.5 411.1 L170.8 411.0 L171.0 410.9 L171.3 410.8 L171.5 410.6 L171.8 410.4 L172.1 410.0 L172.3 409.2 L172.6 407.8 L172.8 405.7 L173.1 402.8 L173.3 400.3 L173.5 399.9 L173.6 400.3 L173.8 402.9 L174.1 405.6 L174.4 407.8 L174.6 409.1 L174.9 409.9 L175.1 410.3 L175.4 410.6 L175.6 410.8 L175.9 411.0 L176.1 411.0 L176.4 411.1 L176.7 411.1 L176.9 411.2 L177.2 411.1 L177.4 411.2 L177.7 411.3 L177.9 411.3 L178.2 411.4 L178.5 411.4 L178.7 411.3 L179.0 411.4 L179.2 411.4 L179.5 411.4 L179.7 411.4 L180.0 411.4 L180.2 411.4 L180.5 411.4 L180.8 411.4 L181.0 411.5 L181.3 411.5 L181.5 411.4 L181.8 411.4 L182.0 411.4 L182.3 411.4 L182.5 411.4 L182.8 411.5 L183.1 411.4 L183.3 411.5 L183.6 411.5 L183.8 411.5 L184.1 411.6 L184.3 411.5 L184.6 411.5 L184.9 411.5 L185.1 411.5 L185.4 411.4 L185.6 411.4 L185.9 411.5 L186.1 411.5 L186.4 411.6 L186.6 411.5 L186.9 411.5 L187.2 411.5 L187.4 411.5 L187.7 411.5 L187.9 411.5 L188.2 411.5 L188.4 411.4 L188.7 411.5 L188.9 411.4 L189.2 411.5 L189.5 411.6 L189.7 411.5 L190.0 411.5 L190.2 411.5 L190.5 411.5 L190.7 411.5 L191.0 411.5 L191.3 411.5 L191.5 411.5 L191.8 411.5 L192.0 411.6 L192.3 411.6 L192.5 411.5 L192.8 411.5 L193.0 411.5 L193.3 411.5 L193.6 411.4 L193.8 411.5 L194.1 411.5 L194.3 411.4 L194.6 411.5 L194.8 411.5 L195.1 411.5 L195.3 411.4 L195.6 411.5 L195.9 411.5 L196.1 411.5 L196.4 411.5 L196.6 411.5 L196.9 411.4 L197.1 411.6 L197.4 411.5 L197.7 411.5 L197.9 411.4 L198.2 411.5 L198.4 411.4 L198.7 411.5 L198.9 411.5 L199.2 411.4 L199.4 411.4 L199.7 411.4 L200.0 411.5 L200.2 411.4 L200.5 411.4 L200.7 411.4 L201.0 411.4 L201.2 411.4 L201.5 411.4 L201.7 411.4 L202.0 411.4 L202.3 411.4 L202.5 411.4 L202.8 411.4 L203.0 411.4 L203.3 411.4 L203.5 411.4 L203.8 411.5 L204.1 411.4 L204.3 411.4 L204.6 411.4 L204.8 411.3 L205.1 411.3 L205.3 411.3 L205.6 411.3 L205.8 411.3 L206.1 411.3 L206.4 411.4 L206.6 411.2 L206.9 411.3 L207.1 411.3 L207.4 411.1 L207.6 411.1 L207.9 411.1 L208.1 411.1 L208.4 411.1 L208.7 411.0 L208.9 410.9 L209.2 410.8 L209.4 410.7 L209.7 410.5 L209.9 410.3 L210.2 410.1 L210.5 409.7 L210.7 409.2 L211.0 408.5 L211.2 407.2 L211.5 405.0 L211.7 401.2 L212.0 395.6 L212.2 389.1 L212.5 385.7 L212.8 389.0 L213.0 395.6 L213.3 401.2 L213.5 404.9 L213.8 407.2 L214.0 408.5 L214.3 409.2 L214.5 409.8 L214.8 410.2 L215.1 410.3 L215.3 410.5 L215.6 410.7 L215.8 410.9 L216.1 410.9 L216.3 411.0 L216.6 411.0 L216.9 411.1 L217.1 411.1 L217.4 411.1 L217.6 411.2 L217.9 411.2 L218.1 411.2 L218.4 411.3 L218.6 411.3 L218.9 411.3 L219.2 411.3 L219.4 411.2 L219.7 411.3 L219.9 411.4 L220.2 411.3 L220.4 411.3 L220.7 411.3 L220.9 411.3 L221.2 411.4 L221.5 411.4 L221.7 411.4 L222.0 411.4 L222.2 411.5 L222.5 411.4 L222.7 411.3 L223.0 411.4 L223.3 411.4 L223.5 411.3 L223.8 411.3 L224.0 411.4 L224.3 411.4 L224.5 411.3 L224.8 411.4 L225.0 411.3 L225.3 411.4 L225.6 411.4 L225.8 411.3 L226.1 411.3 L226.3 411.4 L226.6 411.4 L226.8 411.3 L227.1 411.3 L227.3 411.3 L227.6 411.3 L227.9 411.3 L228.1 411.3 L228.4 411.2 L228.6 411.2 L228.9 411.2 L229.1 411.1 L229.4 411.1 L229.7 411.0 L229.9 410.9 L230.2 410.8 L230.4 410.6 L230.7 410.5 L230.9 410.3 L231.2 410.0 L231.4 409.5 L231.7 408.6 L232.0 407.0 L232.2 404.5 L232.5 400.6 L232.7 396.2 L233.0 394.0 L233.2 396.3 L233.5 400.7 L233.7 404.5 L234.0 407.0 L234.3 408.6 L234.5 409.5 L234.8 410.0 L235.0 410.4 L235.3 410.5 L235.5 410.7 L235.8 410.9 L236.1 411.0 L236.3 411.0 L236.6 411.0 L236.8 411.2 L237.1 411.2 L237.3 411.2 L237.6 411.4 L237.8 411.3 L238.1 411.3 L238.4 411.4 L238.6 411.3 L238.9 411.4 L239.1 411.3 L239.4 411.4 L239.6 411.2 L239.9 411.4 L240.1 411.4 L240.4 411.4 L240.7 411.5 L240.9 411.4 L241.2 411.4 L241.4 411.4 L241.7 411.4 L241.9 411.4 L242.2 411.5 L242.5 411.4 L242.7 411.4 L243.0 411.4 L243.2 411.5 L243.5 411.5 L243.7 411.4 L244.0 411.5 L244.2 411.5 L244.5 411.4 L244.8 411.5 L245.0 411.5 L245.3 411.4 L245.5 411.5 L245.8 411.5 L246.0 411.4 L246.3 411.5 L246.5 411.5 L246.8 411.5 L247.1 411.5 L247.3 411.5 L247.6 411.4 L247.8 411.5 L248.1 411.5 L248.3 411.5 L248.6 411.5 L248.9 411.5 L249.1 411.5 L249.4 411.5 L249.6 411.5 L249.9 411.4 L250.1 411.5 L250.4 411.5 L250.6 411.5 L250.9 411.5 L251.2 411.5 L251.4 411.5 L251.7 411.5 L251.9 411.5 L252.2 411.6 L252.4 411.5 L252.7 411.5 L252.9 411.5 L253.2 411.5 L253.5 411.5 L253.7 411.5 L254.0 411.5 L254.2 411.6 L254.5 411.5 L254.7 411.5 L255.0 411.5 L255.3 411.5 L255.5 411.5 L255.8 411.5 L256.0 411.5 L256.3 411.5 L256.5 411.4 L256.8 411.5 L257.0 411.4 L257.3 411.5 L257.6 411.5 L257.8 411.5 L258.1 411.5 L258.3 411.5 L258.6 411.5 L258.8 411.5 L259.1 411.6 L259.3 411.5 L259.6 411.5 L259.9 411.5 L260.1 411.5 L260.4 411.4 L260.6 411.6 L260.9 411.6 L261.1 411.4 L261.4 411.5 L261.7 411.5 L261.9 411.5 L262.2 411.5 L262.4 411.5 L262.7 411.5 L262.9 411.5 L263.2 411.5 L263.4 411.5 L263.7 411.5 L264.0 411.5 L264.2 411.4 L264.5 411.5 L264.7 411.5 L265.0 411.5 L265.2 411.5 L265.5 411.5 L265.7 411.5 L266.0 411.5 L266.3 411.5 L266.5 411.5 L266.8 411.5 L267.0 411.5 L267.3 411.6 L267.5 411.5 L267.8 411.5 L268.1 411.4 L268.3 411.6 L268.6 411.5 L268.8 411.5 L269.1 411.5 L269.3 411.4 L269.6 411.5 L269.8 411.5 L270.1 411.4 L270.4 411.5 L270.6 411.5 L270.9 411.4 L271.1 411.5 L271.4 411.5 L271.6 411.5 L271.9 411.5 L272.1 411.5 L272.4 411.5 L272.7 411.5 L272.9 411.5 L273.2 411.5 L273.4 411.5 L273.7 411.5 L273.9 411.6 L274.2 411.5 L274.5 411.5 L274.7 411.4 L275.0 411.5 L275.2 411.5 L275.5 411.5 L275.7 411.5 L276.0 411.5 L276.2 411.5 L276.5 411.5 L276.8 411.5 L277.0 411.5 L277.3 411.5 L277.5 411.5 L277.8 411.5 L278.0 411.5 L278.3 411.5 L278.5 411.5 L278.8 411.5 L279.1 411.4 L279.3 411.5 L279.6 411.5 L279.8 411.4 L280.1 411.5 L280.3 411.4 L280.6 411.4 L280.9 411.5 L281.1 411.5 L281.4 411.4 L281.6 411.4 L281.9 411.3 L282.1 411.4 L282.4 411.3 L282.6 411.3 L282.9 411.1 L283.2 410.9 L283.4 410.6 L283.7 409.9 L283.9 409.3 L284.2 409.0 L284.4 409.3 L284.7 409.9 L284.9 410.6 L285.2 410.9 L285.5 411.0 L285.7 411.2 L286.0 411.2 L286.2 411.3 L286.5 411.3 L286.7 411.4 L287.0 411.4 L287.3 411.4 L287.5 411.3 L287.8 411.3 L288.0 411.4 L288.3 411.4 L288.5 411.3 L288.8 411.3 L289.0 411.3 L289.3 411.2 L289.6 410.9 L289.8 410.7 L290.1 410.3 L290.3 409.8 L290.6 409.5 L290.8 409.7 L291.1 410.3 L291.3 410.7 L291.6 411.1 L291.9 411.1 L292.1 411.2 L292.4 411.3 L292.6 411.4 L292.9 411.4 L293.1 411.4 L293.4 411.4 L293.7 411.4 L293.9 411.4 L294.2 411.4 L294.4 411.4 L294.7 411.4 L294.9 411.5 L295.2 411.5 L295.4 411.4 L295.7 411.5 L296.0 411.5 L296.2 411.4 L296.5 411.5 L296.7 411.5 L297.0 411.5 L297.2 411.5 L297.5 411.4 L297.7 411.5 L298.0 411.5 L298.3 411.5 L298.5 411.5 L298.8 411.5 L299.0 411.4 L299.3 411.4 L299.5 411.4 L299.8 411.4 L300.1 411.4 L300.3 411.4 L300.6 411.5 L300.8 411.4 L301.1 411.5 L301.3 411.4 L301.6 411.5 L301.8 411.5 L302.1 411.5 L302.4 411.4 L302.6 411.4 L302.9 411.4 L303.1 411.4 L303.4 411.4 L303.6 411.4 L303.9 411.4 L304.1 411.4 L304.4 411.4 L304.7 411.4 L304.9 411.4 L305.2 411.3 L305.4 411.3 L305.7 411.3 L305.9 411.2 L306.2 411.1 L306.5 411.1 L306.7 410.9 L307.0 410.7 L307.2 410.4 L307.5 409.8 L307.7 408.9 L308.0 407.5 L308.2 405.8 L308.5 405.1 L308.8 405.7 L309.0 407.5 L309.3 408.8 L309.5 409.9 L309.8 410.5 L310.0 410.6 L310.3 410.9 L310.5 411.1 L310.8 411.1 L311.1 411.2 L311.3 411.2 L311.6 411.3 L311.8 411.3 L312.1 411.4 L312.3 411.3 L312.6 411.4 L312.9 411.4 L313.1 411.4 L313.4 411.4 L313.6 411.3 L313.9 411.4 L314.1 411.4 L314.4 411.5 L314.6 411.4 L314.9 411.5 L315.2 411.5 L315.4 411.5 L315.7 411.5 L315.9 411.5 L316.2 411.4 L316.4 411.4 L316.7 411.5 L316.9 411.5 L317.2 411.5 L317.5 411.5 L317.7 411.5 L318.0 411.4 L318.2 411.5 L318.5 411.4 L318.7 411.4 L319.0 411.4 L319.3 411.6 L319.5 411.6 L319.8 411.5 L320.0 411.5 L320.3 411.5 L320.5 411.5 L320.8 411.5 L321.0 411.5 L321.3 411.4 L321.6 411.5 L321.8 411.5 L322.1 411.5 L322.3 411.5 L322.6 411.5 L322.8 411.5 L323.1 411.5 L323.3 411.4 L323.6 411.4 L323.9 411.4 L324.1 411.5 L324.4 411.5 L324.6 411.5 L324.9 411.5 L325.1 411.5 L325.4 411.5 L325.7 411.5 L325.9 411.4 L326.2 411.5 L326.4 411.5 L326.7 411.5 L326.9 411.5 L327.2 411.5 L327.4 411.5 L327.7 411.5 L328.0 411.5 L328.2 411.5 L328.5 411.5 L328.7 411.5 L329.0 411.5 L329.2 411.5 L329.5 411.5 L329.7 411.5 L330.0 411.6 L330.3 411.6 L330.5 411.5 L330.8 411.5 L331.0 411.5 L331.3 411.5 L331.5 411.5 L331.8 411.4 L332.1 411.5 L332.3 411.5 L332.6 411.6 L332.8 411.5 L333.1 411.5 L333.3 411.5 L333.6 411.5 L333.8 411.5 L334.1 411.6 L334.4 411.5 L334.6 411.5 L334.9 411.6 L335.1 411.5 L335.4 411.5 L335.6 411.5 L335.9 411.5 L336.1 411.6 L336.4 411.5 L336.7 411.5 L336.9 411.5 L337.2 411.5 L337.4 411.5 L337.7 411.5 L337.9 411.5 L338.2 411.4 L338.5 411.5 L338.7 411.5 L339.0 411.5 L339.2 411.5 L339.5 411.5 L339.7 411.5 L340.0 411.5 L340.2 411.5 L340.5 411.4 L340.8 411.5 L341.0 411.4 L341.3 411.4 L341.5 411.3 L341.8 411.3 L342.0 411.3 L342.3 411.2 L342.5 411.1 L342.8 410.9 L343.1 410.5 L343.3 410.0 L343.6 409.6 L343.7 409.5 L343.8 409.5 L344.1 410.0 L344.3 410.5 L344.6 410.8 L344.9 411.1 L345.1 411.2 L345.4 411.3 L345.6 411.3 L345.9 411.4 L346.1 411.4 L346.4 411.4 L346.6 411.4 L346.9 411.4 L347.2 411.4 L347.4 411.5 L347.7 411.5 L347.9 411.4 L348.2 411.5 L348.4 411.4 L348.7 411.5 L348.9 411.5 L349.2 411.5 L349.5 411.6 L349.7 411.4 L350.0 411.4 L350.2 411.4 L350.5 411.4 L350.7 411.4 L351.0 411.5 L351.3 411.5 L351.5 411.4 L351.8 411.4 L352.0 411.5 L352.3 411.5 L352.5 411.5 L352.8 411.5 L353.0 411.5 L353.3 411.6 L353.6 411.5 L353.8 411.5 L354.1 411.5 L354.3 411.6 L354.6 411.6 L354.8 411.5 L355.1 411.5 L355.3 411.5 L355.6 411.5 L355.9 411.5 L356.1 411.4 L356.4 411.5 L356.6 411.4 L356.9 411.5 L357.1 411.5 L357.4 411.4 L357.7 411.5 L357.9 411.5 L358.2 411.4 L358.4 411.6 L358.7 411.5 L358.9 411.6 L359.2 411.4 L359.4 411.5 L359.7 411.5 L360.0 411.5 L360.2 411.5 L360.5 411.5 L360.7 411.4 L361.0 411.4 L361.2 411.4 L361.5 411.5 L361.7 411.5 L362.0 411.5 L362.3 411.5 L362.5 411.5 L362.8 411.5 L363.0 411.5 L363.3 411.5 L363.5 411.5 L363.8 411.5 L364.1 411.5 L364.3 411.6 L364.6 411.5 L364.8 411.5 L365.1 411.5 L365.3 411.5 L365.6 411.5 L365.8 411.4 L366.1 411.5 L366.4 411.5 L366.6 411.4 L366.9 411.5 L367.1 411.5 L367.4 411.5 L367.6 411.5 L367.9 411.5 L368.1 411.5 L368.4 411.5 L368.7 411.5 L368.9 411.5 L369.2 411.5 L369.4 411.5 L369.7 411.5 L369.9 411.4 L370.2 411.5 L370.5 411.5 L370.7 411.4 L371.0 411.5 L371.2 411.5 L371.5 411.5 L371.7 411.4 L372.0 411.5 L372.2 411.4 L372.5 411.5 L372.8 411.4 L373.0 411.4 L373.3 411.3 L373.5 411.3 L373.8 411.3 L374.0 411.2 L374.3 411.2 L374.5 410.9 L374.8 410.5 L375.1 409.9 L375.3 409.2 L375.6 408.6 L375.7 408.5 L375.8 408.6 L376.1 409.3 L376.3 410.0 L376.6 410.6 L376.9 410.9 L377.1 411.1 L377.4 411.2 L377.6 411.3 L377.9 411.3 L378.1 411.3 L378.4 411.4 L378.6 411.4 L378.9 411.5 L379.2 411.4 L379.4 411.4 L379.7 411.4 L379.9 411.4 L380.2 411.4 L380.4 411.5 L380.7 411.5 L380.9 411.5 L381.2 411.4 L381.5 411.4 L381.7 411.5 L382.0 411.5 L382.2 411.5 L382.5 411.4 L382.7 411.5 L383.0 411.5 L383.3 411.5 L383.5 411.5 L383.8 411.5 L384.0 411.5 L384.3 411.5 L384.5 411.4 L384.8 411.5 L385.0 411.5 L385.3 411.5 L385.6 411.5 L385.8 411.5 L386.1 411.5 L386.3 411.5 L386.6 411.5 L386.8 411.6 L387.1 411.5 L387.3 411.6 L387.6 411.6 L387.9 411.5 L388.1 411.5 L388.4 411.6 L388.6 411.5 L388.9 411.5 L389.1 411.5 L389.4 411.5 L389.7 411.5 L389.9 411.5 L390.2 411.5 L390.4 411.5 L390.7 411.5 L390.9 411.4 L391.2 411.5 L391.4 411.5 L391.7 411.5 L392.0 411.5 L392.2 411.5 L392.5 411.5 L392.7 411.5 L393.0 411.4 L393.2 411.5 L393.5 411.5 L393.7 411.5 L394.0 411.4 L394.3 411.5 L394.5 411.5 L394.8 411.5 L395.0 411.5 L395.3 411.4 L395.5 411.5 L395.8 411.4 L396.1 411.5 L396.3 411.5 L396.6 411.5 L396.8 411.5 L397.1 411.5 L397.3 411.6 L397.6 411.5 L397.8 411.5 L398.1 411.5 L398.4 411.4 L398.6 411.5 L398.9 411.5 L399.1 411.5 L399.4 411.5 L399.6 411.5 L399.9 411.5 L400.1 411.5 L400.4 411.4 L400.7 411.5 L400.9 411.6 L401.2 411.5 L401.4 411.5 L401.7 411.4 L401.9 411.5 L402.2 411.5 L402.5 411.5 L402.7 411.5 L403.0 411.6 L403.2 411.5 L403.5 411.5 L403.7 411.5 L404.0 411.5 L404.2 411.4 L404.5 411.5 L404.8 411.4 L405.0 411.5 L405.3 411.5 L405.5 411.5 L405.8 411.4 L406.0 411.6 L406.3 411.5 L406.5 411.6 L406.8 411.4 L407.1 411.5 L407.3 411.6 L407.6 411.6 L407.8 411.5 L408.1 411.5 L408.3 411.5 L408.6 411.5 L408.9 411.5 L409.1 411.5 L409.4 411.4 L409.6 411.5 L409.9 411.5 L410.1 411.5 L410.4 411.5 L410.6 411.6 L410.9 411.5 L411.2 411.5 L411.4 411.5 L411.7 411.6 L411.9 411.5 L412.2 411.5 L412.4 411.5 L412.7 411.5 L412.9 411.5 L413.2 411.4 L413.5 411.4 L413.7 411.5 L414.0 411.5 L414.2 411.6 L414.5 411.5 L414.7 411.5 L415.0 411.5 L415.3 411.4 L415.5 411.5 L415.8 411.5 L416.0 411.5 L416.3 411.5 L416.5 411.5 L416.8 411.5 L417.0 411.5 L417.3 411.5 L417.6 411.5 L417.8 411.5 L418.1 411.5 L418.3 411.5 L418.6 411.6 L418.8 411.5 L419.1 411.5 L419.3 411.5 L419.6 411.5 L419.9 411.5 L420.1 411.4 L420.4 411.5 L420.6 411.5 L420.9 411.4 L421.1 411.5 L421.4 411.4 L421.7 411.5 L421.9 411.5 L422.2 411.5 L422.4 411.4 L422.7 411.4 L422.9 411.4 L423.2 411.3 L423.4 411.2 L423.7 411.1 L424.0 410.8 L424.2 410.5 L424.3 410.5 L424.5 410.6 L424.7 410.8 L425.0 411.0 L425.2 411.3 L425.5 411.3 L425.7 411.4 L426.0 411.5 L426.3 411.4 L426.5 411.5 L426.8 411.5 L427.0 411.4 L427.3 411.4 L427.5 411.4 L427.8 411.4 L428.1 411.5 L428.3 411.4 L428.6 411.5 L428.8 411.5 L429.1 411.4 L429.3 411.5 L429.6 411.4 L429.8 411.5 L430.1 411.5 L430.4 411.5 L430.6 411.5 L430.9 411.5 L431.1 411.5 L431.4 411.5 L431.6 411.5 L431.9 411.5 L432.1 411.4 L432.4 411.5 L432.7 411.4 L432.9 411.5 L433.2 411.6 L433.4 411.5 L433.7 411.4 L433.9 411.5 L434.2 411.5 L434.5 411.4 L434.7 411.5 L435.0 411.5 L435.2 411.5 L435.5 411.5 L435.7 411.5 L436.0 411.5 L436.2 411.6 L436.5 411.5" fill="none" stroke="#2a2a2a" stroke-width="1.05" stroke-linejoin="round"/>
<rect x="52.5" y="12.4" width="384.4" height="479.90000000000003" fill="none" stroke="#000" stroke-width="1.4"/><line x1="52.5" y1="411.5" x2="436.9" y2="411.5" stroke="#3a3a3a" stroke-width="1.0"/>
<text x="52.5" y="512.2" text-anchor="middle" class="tl">20</text><text x="116.5" y="512.2" text-anchor="middle" class="tl">30</text><text x="180.5" y="512.2" text-anchor="middle" class="tl">40</text><text x="244.5" y="512.2" text-anchor="middle" class="tl">50</text><text x="308.5" y="512.2" text-anchor="middle" class="tl">60</text><text x="372.5" y="512.2" text-anchor="middle" class="tl">70</text><text x="436.5" y="512.2" text-anchor="middle" class="tl">80</text><text x="416.6" y="47.4" class="num">8</text><text x="416.6" y="97.7" class="num">7</text><text x="416.6" y="152.7" class="num">6</text><text x="416.6" y="203" class="num">5</text><text x="416.6" y="252.7" class="num">4</text><text x="416.6" y="302.5" class="num">3</text><text x="416.6" y="352.7" class="num">2</text><text x="416.6" y="403.4" class="num">1</text><text x="60.6" y="430.1" class="ref" fill="#000" stroke="#000">LiF</text><text x="60.3" y="448.1" class="ref" fill="#ff0000" stroke="#ff0000">NaF</text><text x="60.1" y="465.0" class="ref" fill="#0000ff" stroke="#0000ff">KF</text><text x="57.3" y="481.3" class="ref" fill="#ff00ff" stroke="#ff00ff">NdF<tspan x="76.1" font-size="7.9" dy="5.2">3</tspan></text><text y="543" class="xt"><tspan x="224.1">2</tspan><tspan x="234">&#920;</tspan><tspan x="247.5">,</tspan><tspan x="257.7">&#176;</tspan></text><text transform="translate(20.4,283.6) rotate(-90)" class="yt">Intensity</text>
</svg>
</body></html>
